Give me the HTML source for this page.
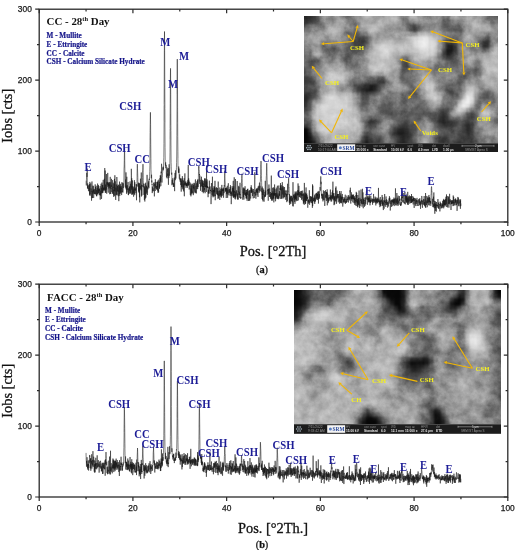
<!DOCTYPE html>
<html><head><meta charset="utf-8"><title>XRD</title>
<style>html,body{margin:0;padding:0;background:#fff;width:517px;height:550px;overflow:hidden}svg{display:block}</style>
</head><body>
<svg width="517" height="550" viewBox="0 0 517 550">
<style>
.tk{font-family:'Liberation Sans', Arial, sans-serif;font-size:8.4px;fill:#1a1a1a;stroke:#1a1a1a;stroke-width:0.25px}
.pk{font-family:'Liberation Serif', 'Times New Roman', serif;font-size:10.7px;font-weight:bold;fill:#1c1c96}
.lg{font-family:'Liberation Serif', 'Times New Roman', serif;font-size:7.2px;font-weight:bold;fill:#16168a;stroke:#16168a;stroke-width:0.2px}
.ti{font-family:'Liberation Serif', 'Times New Roman', serif;font-size:10.9px;font-weight:bold;fill:#111}
.ax{font-family:'Liberation Serif', 'Times New Roman', serif;font-size:14.4px;fill:#111;stroke:#111;stroke-width:0.3px}
.cap{font-family:'Liberation Serif', 'Times New Roman', serif;font-size:10.3px;fill:#111;stroke:#111;stroke-width:0.25px}
</style>
<rect width="517" height="550" fill="#fff"/>
<defs><filter id="bl" x="-5%" y="-5%" width="110%" height="110%"><feGaussianBlur stdDeviation="0.35"/></filter></defs>
<rect x="39.20" y="9.21" width="468.60" height="212.79" fill="none" stroke="#2a2a2a" stroke-width="1.3"/>
<path d="M39.20 222.00v4 M39.20 9.21v4 M86.06 222.00v2.2 M86.06 9.21v2.2 M132.92 222.00v4 M132.92 9.21v4 M179.78 222.00v2.2 M179.78 9.21v2.2 M226.64 222.00v4 M226.64 9.21v4 M273.50 222.00v2.2 M273.50 9.21v2.2 M320.36 222.00v4 M320.36 9.21v4 M367.22 222.00v2.2 M367.22 9.21v2.2 M414.08 222.00v4 M414.08 9.21v4 M460.94 222.00v2.2 M460.94 9.21v2.2 M507.80 222.00v4 M507.80 9.21v4 M39.20 222.00h-4 M507.80 222.00h-4 M39.20 186.53h-2.2 M507.80 186.53h-2.2 M39.20 151.07h-4 M507.80 151.07h-4 M39.20 115.60h-2.2 M507.80 115.60h-2.2 M39.20 80.14h-4 M507.80 80.14h-4 M39.20 44.67h-2.2 M507.80 44.67h-2.2 M39.20 9.21h-4 M507.80 9.21h-4" stroke="#2a2a2a" stroke-width="1.2" fill="none"/>
<text x="31.8" y="225.00" text-anchor="end" class="tk">0</text>
<text x="31.8" y="154.07" text-anchor="end" class="tk">100</text>
<text x="31.8" y="83.14" text-anchor="end" class="tk">200</text>
<text x="31.8" y="12.21" text-anchor="end" class="tk">300</text>
<text x="39.20" y="236.20" text-anchor="middle" class="tk">0</text>
<text x="132.92" y="236.20" text-anchor="middle" class="tk">20</text>
<text x="226.64" y="236.20" text-anchor="middle" class="tk">40</text>
<text x="320.36" y="236.20" text-anchor="middle" class="tk">60</text>
<text x="414.08" y="236.20" text-anchor="middle" class="tk">80</text>
<text x="507.80" y="236.20" text-anchor="middle" class="tk">100</text>
<path d="M86.06 180.85L86.20 181.27L86.34 185.45L86.48 179.15L86.62 175.18L86.76 172.92L86.80 173.01L86.90 174.08L87.04 176.91L87.18 168.71L87.33 183.77L87.47 188.46L87.61 183.70L87.75 183.42L87.89 187.97L88.03 185.42L88.17 188.90L88.31 187.94L88.45 190.64L88.59 191.16L88.73 186.30L88.87 186.51L89.01 185.10L89.15 191.06L89.29 191.25L89.43 184.03L89.57 194.82L89.72 189.18L89.86 181.92L90.00 196.01L90.14 191.69L90.28 194.46L90.42 187.85L90.56 187.59L90.70 183.47L90.84 188.14L90.98 192.03L91.12 188.39L91.26 189.36L91.40 195.38L91.54 200.66L91.68 191.06L91.82 190.83L91.96 181.51L92.10 198.01L92.25 190.74L92.39 198.09L92.53 191.64L92.67 189.72L92.81 188.83L92.95 185.60L93.09 193.49L93.23 186.11L93.37 191.52L93.51 190.30L93.65 197.94L93.79 194.94L93.93 189.33L94.07 193.71L94.21 189.27L94.35 190.66L94.49 194.05L94.64 191.75L94.78 189.53L94.92 189.23L95.06 187.97L95.20 184.38L95.34 194.40L95.48 188.13L95.62 186.96L95.76 194.13L95.90 189.20L96.04 187.06L96.18 185.80L96.32 193.60L96.46 196.12L96.60 189.79L96.74 196.27L96.88 195.80L97.03 187.96L97.17 188.06L97.31 190.14L97.45 194.40L97.59 183.55L97.73 191.67L97.87 194.22L98.01 192.34L98.15 186.13L98.29 192.84L98.43 184.96L98.57 192.63L98.71 193.19L98.85 189.14L98.99 190.81L99.13 189.60L99.27 195.26L99.42 191.44L99.56 188.57L99.70 191.06L99.84 190.55L99.98 195.10L100.12 186.07L100.26 199.64L100.40 193.04L100.54 195.62L100.68 191.29L100.82 192.72L100.96 189.21L101.10 183.79L101.24 193.34L101.38 187.75L101.52 198.94L101.66 196.87L101.80 190.96L101.95 182.55L102.09 186.31L102.23 193.18L102.37 184.91L102.51 192.49L102.65 190.93L102.79 185.24L102.93 192.85L103.07 190.51L103.21 179.91L103.35 190.60L103.49 187.90L103.63 189.48L103.77 190.39L103.91 187.38L104.05 188.31L104.19 190.08L104.34 178.78L104.48 189.54L104.62 189.59L104.76 168.06L104.90 186.57L105.04 191.05L105.18 170.58L105.32 192.79L105.46 184.55L105.60 184.78L105.74 192.83L105.88 188.17L106.02 189.84L106.16 187.15L106.30 188.44L106.44 174.03L106.58 192.17L106.73 193.73L106.87 187.44L107.01 182.34L107.15 186.80L107.29 181.85L107.43 184.43L107.57 185.30L107.71 172.90L107.85 182.53L107.99 183.94L108.13 190.00L108.27 192.63L108.41 182.70L108.55 186.01L108.69 183.57L108.83 188.57L108.97 182.13L109.12 186.98L109.26 184.38L109.40 185.92L109.54 182.32L109.68 194.19L109.82 186.51L109.96 188.07L110.10 187.06L110.24 176.89L110.38 187.62L110.52 193.98L110.66 188.21L110.80 182.35L110.94 188.98L111.08 187.10L111.22 184.73L111.36 187.15L111.50 178.87L111.65 185.31L111.79 192.04L111.93 188.16L112.07 190.09L112.21 193.91L112.35 190.72L112.49 187.47L112.63 180.12L112.77 193.42L112.91 186.78L113.05 188.01L113.19 184.76L113.33 182.72L113.47 191.87L113.61 196.82L113.75 189.74L113.89 195.08L114.04 184.19L114.18 191.05L114.32 188.70L114.46 178.93L114.60 196.18L114.74 192.71L114.88 175.24L115.02 191.30L115.16 191.53L115.30 181.29L115.44 189.37L115.58 198.80L115.72 199.90L115.86 187.65L116.00 189.50L116.14 195.29L116.28 184.56L116.43 184.49L116.57 194.63L116.71 193.72L116.85 177.00L116.99 181.04L117.13 195.20L117.27 195.32L117.41 192.30L117.55 185.97L117.69 191.14L117.83 184.65L117.97 185.79L118.11 191.85L118.25 190.26L118.39 196.32L118.53 184.81L118.67 185.89L118.82 201.15L118.96 193.62L119.10 187.20L119.24 186.60L119.38 194.24L119.52 181.60L119.66 188.42L119.80 195.91L119.94 185.47L120.08 192.19L120.22 190.93L120.36 183.87L120.50 186.95L120.64 193.69L120.78 186.77L120.92 192.57L121.06 189.58L121.20 186.13L121.35 188.65L121.49 188.01L121.63 195.09L121.77 183.29L121.91 182.23L122.05 191.90L122.19 191.44L122.33 192.11L122.47 191.35L122.61 191.40L122.75 182.76L122.89 192.58L123.03 188.35L123.17 183.44L123.31 188.10L123.45 185.93L123.59 185.69L123.74 182.72L123.88 182.03L124.02 167.58L124.16 167.59L124.30 160.62L124.44 151.12L124.50 151.63L124.58 148.16L124.72 161.29L124.86 170.69L125.00 175.58L125.14 181.18L125.28 187.31L125.42 183.55L125.56 179.50L125.70 182.77L125.84 188.38L125.98 172.33L126.13 181.22L126.27 189.59L126.41 185.71L126.55 193.73L126.69 180.73L126.83 176.79L126.97 187.44L127.11 192.44L127.25 185.35L127.39 185.16L127.53 186.97L127.67 190.21L127.81 187.85L127.95 185.37L128.09 181.96L128.23 194.64L128.37 188.31L128.52 195.13L128.66 190.72L128.80 190.39L128.94 188.61L129.08 189.78L129.22 189.94L129.36 186.40L129.50 193.64L129.64 187.04L129.78 191.13L129.92 183.53L130.06 181.35L130.20 186.48L130.34 192.81L130.48 185.06L130.62 183.67L130.76 193.76L130.91 186.64L131.05 185.60L131.19 187.59L131.33 168.84L131.47 175.76L131.61 189.62L131.75 178.27L131.89 194.70L132.03 185.98L132.17 194.65L132.31 183.69L132.45 180.48L132.59 191.93L132.73 194.00L132.87 187.88L133.01 186.39L133.15 186.65L133.29 192.92L133.44 190.21L133.58 196.66L133.72 187.49L133.86 190.23L134.00 189.07L134.14 191.02L134.28 193.88L134.42 180.24L134.56 190.83L134.70 195.15L134.84 182.31L134.98 190.22L135.12 188.98L135.26 189.35L135.40 190.76L135.54 187.83L135.68 187.62L135.83 192.57L135.97 193.19L136.11 190.86L136.25 184.00L136.39 190.53L136.53 200.23L136.67 184.78L136.81 185.70L136.95 183.69L137.09 175.24L137.23 168.03L137.37 164.12L137.40 165.11L137.51 168.89L137.65 173.01L137.79 177.50L137.93 186.71L138.07 186.75L138.22 183.51L138.36 184.59L138.50 190.44L138.64 182.57L138.78 191.81L138.92 189.81L139.06 192.80L139.20 183.36L139.34 191.11L139.48 197.30L139.62 183.28L139.76 202.38L139.90 188.44L140.04 187.26L140.18 185.98L140.32 189.41L140.46 178.66L140.61 188.08L140.75 188.60L140.89 189.11L141.03 189.68L141.17 190.41L141.31 172.51L141.45 196.49L141.59 184.89L141.73 186.29L141.87 193.92L142.01 195.38L142.15 186.96L142.29 185.30L142.43 186.65L142.57 177.52L142.71 170.51L142.85 169.16L142.90 167.17L142.99 164.13L143.14 172.50L143.28 180.68L143.42 184.23L143.56 187.45L143.70 183.64L143.84 194.24L143.98 194.91L144.12 192.68L144.26 186.19L144.40 199.98L144.54 191.88L144.68 187.34L144.82 201.53L144.96 194.17L145.10 183.80L145.24 190.80L145.38 198.53L145.53 184.82L145.67 182.76L145.81 195.98L145.95 197.51L146.09 188.52L146.23 193.84L146.37 189.54L146.51 185.67L146.65 188.34L146.79 186.52L146.93 192.57L147.07 174.86L147.21 189.24L147.35 194.98L147.49 194.94L147.63 187.51L147.77 188.20L147.92 189.30L148.06 187.06L148.20 185.87L148.34 182.42L148.48 187.25L148.62 180.69L148.76 181.98L148.90 188.21L149.04 184.62L149.18 178.78L149.32 180.03L149.46 178.91L149.60 176.21L149.74 171.50L149.88 165.78L150.02 147.60L150.16 130.53L150.31 119.44L150.40 112.60L150.45 112.33L150.59 124.31L150.73 144.25L150.87 158.61L151.01 169.74L151.15 172.95L151.29 178.29L151.43 176.97L151.57 174.74L151.71 182.36L151.85 180.46L151.99 184.86L152.13 184.20L152.27 193.10L152.41 186.66L152.55 189.96L152.69 191.36L152.84 188.52L152.98 188.50L153.12 188.39L153.26 188.20L153.40 190.36L153.54 191.14L153.68 186.87L153.82 183.02L153.96 186.32L154.10 182.22L154.24 184.92L154.38 196.38L154.52 189.35L154.66 186.42L154.80 183.93L154.94 185.62L155.08 189.51L155.23 191.03L155.37 179.25L155.51 184.74L155.65 187.77L155.79 187.18L155.93 181.94L156.07 186.15L156.21 189.10L156.35 185.94L156.49 186.18L156.63 188.07L156.77 189.58L156.91 186.57L157.05 187.13L157.19 181.91L157.33 189.58L157.47 187.78L157.62 181.95L157.76 191.20L157.90 180.54L158.04 192.92L158.18 191.31L158.32 189.59L158.46 189.15L158.60 192.37L158.74 179.66L158.88 180.20L159.02 182.92L159.16 189.02L159.30 181.83L159.44 188.17L159.58 184.09L159.72 187.06L159.86 178.13L160.01 178.35L160.15 182.66L160.29 175.34L160.43 178.80L160.57 181.50L160.71 175.48L160.85 186.14L160.99 174.60L161.13 171.66L161.27 173.19L161.41 173.01L161.55 163.81L161.69 166.82L161.83 177.89L161.97 182.51L162.11 177.26L162.25 176.96L162.39 175.35L162.54 173.29L162.68 172.33L162.82 167.54L162.96 168.66L163.10 170.49L163.24 166.71L163.38 169.52L163.52 168.97L163.66 161.78L163.80 157.79L163.94 143.53L164.08 120.24L164.22 86.79L164.36 50.47L164.50 31.51L164.50 32.01L164.64 52.10L164.78 87.36L164.93 122.58L165.07 147.44L165.21 160.24L165.35 165.29L165.49 165.66L165.63 162.33L165.77 168.11L165.91 168.04L166.05 164.84L166.19 165.48L166.33 173.19L166.47 177.37L166.61 172.31L166.75 172.12L166.89 169.93L167.03 167.43L167.17 178.38L167.32 172.76L167.46 172.07L167.60 168.72L167.74 175.87L167.88 173.65L168.02 175.23L168.16 176.21L168.30 176.66L168.44 184.80L168.58 168.09L168.72 175.02L168.86 176.92L169.00 177.75L169.14 164.38L169.28 175.80L169.42 175.00L169.56 171.20L169.71 169.02L169.85 165.19L169.99 152.72L170.13 131.57L170.27 103.56L170.41 77.01L170.50 69.33L170.55 68.40L170.69 94.19L170.83 125.61L170.97 146.60L171.11 162.52L171.25 166.22L171.39 173.86L171.53 173.82L171.67 174.56L171.81 172.69L171.95 185.19L172.09 181.95L172.24 179.84L172.38 183.69L172.52 182.47L172.66 178.28L172.80 179.23L172.94 179.42L173.08 184.65L173.22 182.84L173.36 186.97L173.50 184.90L173.64 183.65L173.78 183.93L173.92 186.88L174.06 183.97L174.20 182.62L174.34 177.57L174.48 187.62L174.63 191.15L174.77 179.42L174.91 173.57L175.05 172.90L175.19 174.82L175.33 180.17L175.47 170.41L175.61 170.57L175.75 174.51L175.89 178.50L176.03 175.16L176.17 174.02L176.31 171.57L176.45 167.47L176.59 162.60L176.73 156.03L176.87 135.71L177.02 108.25L177.16 75.02L177.30 59.16L177.30 59.17L177.44 73.02L177.58 107.34L177.72 136.38L177.86 151.19L178.00 166.38L178.14 168.29L178.28 169.42L178.42 172.54L178.56 172.05L178.70 166.50L178.84 173.16L178.98 168.51L179.12 173.88L179.26 178.70L179.41 178.53L179.55 176.26L179.69 174.34L179.83 178.19L179.97 180.35L180.11 178.00L180.25 181.89L180.39 180.32L180.53 179.21L180.67 179.11L180.81 185.03L180.95 178.51L181.09 186.93L181.23 191.61L181.37 180.65L181.51 186.87L181.65 182.15L181.79 179.70L181.94 178.66L182.08 178.43L182.22 188.72L182.36 176.17L182.50 183.56L182.64 184.21L182.78 183.97L182.92 187.23L183.06 179.97L183.20 189.61L183.34 183.33L183.48 191.37L183.62 182.02L183.76 180.91L183.90 182.84L184.04 182.47L184.18 178.20L184.33 196.24L184.47 182.67L184.61 183.78L184.75 185.20L184.89 173.43L185.03 185.38L185.17 185.31L185.31 184.42L185.45 182.56L185.59 184.51L185.73 181.51L185.87 184.60L186.01 187.81L186.15 183.69L186.29 185.88L186.43 183.07L186.57 186.18L186.72 184.55L186.86 185.56L187.00 183.72L187.14 185.42L187.28 181.71L187.42 187.82L187.56 183.18L187.70 183.43L187.84 179.82L187.98 181.38L188.12 185.88L188.26 164.92L188.40 184.10L188.54 185.33L188.68 178.34L188.82 184.94L188.96 180.53L189.11 184.39L189.25 189.50L189.39 185.44L189.53 184.91L189.67 183.46L189.81 182.08L189.95 184.06L190.09 185.97L190.23 191.47L190.37 195.08L190.51 187.43L190.65 185.33L190.79 183.41L190.93 196.34L191.07 191.55L191.21 188.59L191.35 194.35L191.50 190.99L191.64 184.40L191.78 192.83L191.92 185.70L192.06 192.94L192.20 188.79L192.34 188.66L192.48 187.49L192.62 183.69L192.76 190.05L192.90 193.62L193.04 190.71L193.18 191.24L193.32 195.15L193.46 184.83L193.60 188.22L193.74 186.71L193.88 190.69L194.03 182.85L194.17 189.14L194.31 183.37L194.45 190.18L194.59 189.58L194.73 191.25L194.87 192.25L195.01 190.50L195.15 193.19L195.29 183.32L195.43 179.45L195.57 192.69L195.71 192.21L195.85 187.65L195.99 185.82L196.13 187.75L196.27 187.87L196.42 193.43L196.56 190.80L196.70 183.22L196.84 188.94L196.98 181.29L197.12 187.14L197.26 186.22L197.40 183.56L197.54 180.09L197.68 189.14L197.82 184.06L197.96 179.14L198.10 186.97L198.24 181.15L198.38 177.21L198.52 171.32L198.66 166.46L198.81 167.24L198.90 166.43L198.95 166.57L199.09 169.63L199.23 170.04L199.37 175.24L199.51 174.00L199.65 183.88L199.79 175.55L199.93 176.39L200.07 181.55L200.21 179.85L200.35 180.26L200.49 190.78L200.63 182.28L200.77 182.20L200.91 187.04L201.05 185.82L201.20 181.61L201.34 181.86L201.48 176.72L201.62 186.05L201.76 184.00L201.90 179.68L202.04 181.36L202.18 191.97L202.32 181.74L202.46 181.46L202.60 187.13L202.74 180.19L202.88 191.47L203.02 183.04L203.16 183.21L203.30 193.19L203.44 186.13L203.58 187.40L203.73 181.13L203.87 185.17L204.01 184.35L204.15 192.04L204.29 187.96L204.43 190.18L204.57 178.77L204.71 186.79L204.85 181.20L204.99 178.06L205.13 193.22L205.27 187.91L205.41 186.04L205.55 186.97L205.69 179.22L205.83 186.44L205.97 181.30L206.12 187.26L206.26 185.16L206.40 192.01L206.54 165.92L206.68 187.50L206.82 181.41L206.96 186.96L207.10 179.44L207.24 188.27L207.38 186.63L207.52 185.98L207.66 187.90L207.80 186.44L207.94 189.75L208.08 197.18L208.22 189.27L208.36 193.01L208.51 190.16L208.65 193.99L208.79 188.62L208.93 187.10L209.07 188.48L209.21 189.25L209.35 180.63L209.49 185.93L209.63 189.19L209.77 191.77L209.91 193.53L210.05 186.36L210.19 190.15L210.33 191.11L210.47 189.88L210.61 190.99L210.75 190.41L210.90 190.38L211.04 204.10L211.18 197.33L211.32 195.97L211.46 183.05L211.60 189.73L211.74 189.56L211.88 191.86L212.02 190.68L212.16 194.95L212.30 189.15L212.44 176.68L212.58 188.62L212.72 196.16L212.86 187.95L213.00 197.29L213.14 196.45L213.28 196.57L213.43 189.74L213.57 196.21L213.71 190.06L213.85 192.47L213.99 186.26L214.13 188.14L214.27 191.65L214.41 186.59L214.55 196.38L214.69 187.73L214.83 192.39L214.97 180.85L215.11 193.95L215.25 200.21L215.39 194.61L215.53 195.73L215.67 194.30L215.82 190.95L215.96 187.82L216.10 194.29L216.24 193.33L216.38 192.78L216.52 187.35L216.66 190.67L216.80 190.75L216.94 192.90L217.08 194.04L217.22 190.60L217.36 194.66L217.50 188.06L217.64 195.16L217.78 193.64L217.92 198.78L218.06 196.74L218.21 181.55L218.35 192.44L218.49 196.60L218.63 198.33L218.77 191.23L218.91 196.32L219.05 194.78L219.19 195.40L219.33 192.15L219.47 190.49L219.61 192.49L219.75 199.94L219.89 187.48L220.03 195.24L220.17 194.66L220.31 192.79L220.45 194.66L220.60 190.75L220.74 196.83L220.88 189.09L221.02 191.88L221.16 195.70L221.30 193.44L221.44 188.32L221.58 197.62L221.72 186.87L221.86 184.90L222.00 192.34L222.14 195.98L222.28 189.63L222.42 191.13L222.56 190.19L222.70 188.72L222.84 192.89L222.98 194.99L223.13 188.20L223.27 190.99L223.41 188.89L223.55 197.70L223.69 193.84L223.83 187.42L223.97 193.20L224.11 191.75L224.25 185.13L224.39 186.64L224.53 178.29L224.67 174.03L224.80 172.72L224.81 170.77L224.95 176.59L225.09 180.90L225.23 183.00L225.37 191.87L225.52 188.09L225.66 190.81L225.80 188.00L225.94 190.45L226.08 188.84L226.22 197.99L226.36 196.75L226.50 187.50L226.64 190.33L226.78 193.69L226.92 188.42L227.06 194.43L227.20 191.21L227.34 185.77L227.48 192.94L227.62 197.85L227.76 193.81L227.91 189.72L228.05 193.20L228.19 186.60L228.33 183.28L228.47 190.63L228.61 190.59L228.75 193.12L228.89 195.37L229.03 190.67L229.17 189.37L229.31 190.39L229.45 192.69L229.59 189.50L229.73 188.88L229.87 192.63L230.01 190.58L230.15 186.93L230.30 195.84L230.44 185.18L230.58 190.60L230.72 194.01L230.86 191.42L231.00 193.57L231.14 194.16L231.28 204.13L231.42 192.78L231.56 193.60L231.70 191.70L231.84 195.81L231.98 191.36L232.12 186.14L232.26 195.63L232.40 193.04L232.54 192.42L232.68 187.73L232.83 191.76L232.97 188.13L233.11 196.75L233.25 180.85L233.39 197.95L233.53 190.51L233.67 196.70L233.81 186.19L233.95 192.73L234.09 190.23L234.23 177.32L234.37 189.72L234.51 196.70L234.65 190.88L234.79 198.54L234.93 194.30L235.07 196.85L235.22 194.16L235.36 199.45L235.50 179.07L235.64 197.57L235.78 191.81L235.92 192.36L236.06 194.44L236.20 194.93L236.34 193.27L236.48 190.31L236.62 194.44L236.76 196.38L236.90 195.60L237.04 195.38L237.18 181.04L237.32 198.77L237.46 193.34L237.61 195.24L237.75 198.27L237.89 199.89L238.03 194.56L238.17 199.25L238.31 191.11L238.45 191.61L238.59 187.95L238.73 185.86L238.87 194.71L239.01 186.85L239.15 194.92L239.29 192.57L239.43 191.82L239.57 197.75L239.71 196.27L239.85 194.83L240.00 182.81L240.14 194.84L240.28 194.05L240.42 195.93L240.56 198.72L240.70 198.25L240.84 197.06L240.98 198.29L241.12 190.69L241.26 188.77L241.40 187.53L241.54 183.56L241.68 178.58L241.82 175.52L241.90 174.02L241.96 173.82L242.10 178.34L242.24 182.62L242.38 186.57L242.53 189.18L242.67 194.37L242.81 199.72L242.95 190.92L243.09 188.52L243.23 192.90L243.37 192.07L243.51 197.21L243.65 187.51L243.79 194.79L243.93 199.58L244.07 188.62L244.21 194.75L244.35 188.56L244.49 189.90L244.63 190.83L244.77 191.15L244.92 194.46L245.06 186.24L245.20 194.69L245.34 195.23L245.48 193.76L245.62 193.09L245.76 196.06L245.90 189.97L246.04 198.40L246.18 192.11L246.32 192.76L246.46 197.87L246.60 190.07L246.74 198.79L246.88 192.30L247.02 200.79L247.16 200.81L247.31 195.59L247.45 189.01L247.59 194.79L247.73 188.93L247.87 188.75L248.01 189.79L248.15 192.07L248.29 193.93L248.43 200.95L248.57 199.88L248.71 191.88L248.85 190.80L248.99 195.33L249.13 194.52L249.27 200.79L249.41 190.43L249.55 197.04L249.70 197.10L249.84 200.47L249.98 191.92L250.12 189.91L250.26 192.06L250.40 198.31L250.54 197.96L250.68 198.20L250.82 198.31L250.96 187.22L251.10 192.94L251.24 185.28L251.38 192.74L251.52 187.97L251.66 192.13L251.80 190.49L251.94 189.86L252.08 191.39L252.23 189.81L252.37 188.70L252.51 196.08L252.65 191.56L252.79 190.73L252.93 192.72L253.07 194.79L253.21 198.36L253.35 192.07L253.49 189.05L253.63 190.32L253.77 191.97L253.91 191.63L254.05 193.82L254.19 192.03L254.33 197.90L254.47 196.53L254.62 189.80L254.76 172.30L254.90 187.70L255.04 189.46L255.18 189.71L255.32 193.24L255.46 195.58L255.60 193.70L255.74 191.65L255.88 198.69L256.02 189.61L256.16 191.14L256.30 190.35L256.44 192.58L256.58 188.77L256.72 191.73L256.86 188.68L257.01 195.30L257.15 190.21L257.29 188.07L257.43 190.11L257.57 193.10L257.71 189.60L257.85 192.69L257.99 196.97L258.13 186.62L258.27 189.53L258.41 190.16L258.55 189.52L258.69 185.82L258.83 186.30L258.97 190.17L259.11 192.76L259.25 190.71L259.40 183.06L259.54 182.62L259.68 188.54L259.82 190.72L259.96 185.86L260.10 191.43L260.24 182.37L260.38 181.10L260.52 176.88L260.66 174.76L260.80 164.59L260.94 164.49L261.00 161.06L261.08 163.39L261.22 168.42L261.36 175.62L261.50 178.42L261.64 182.70L261.79 192.21L261.93 188.15L262.07 198.95L262.21 186.57L262.35 195.22L262.49 191.49L262.63 200.06L262.77 195.76L262.91 199.50L263.05 201.45L263.19 188.50L263.33 193.65L263.47 195.27L263.61 194.58L263.75 189.97L263.89 200.31L264.03 201.05L264.17 201.58L264.32 195.14L264.46 197.34L264.60 194.76L264.74 195.37L264.88 191.83L265.02 192.92L265.16 196.30L265.30 180.80L265.44 196.86L265.58 192.72L265.72 190.54L265.86 195.29L266.00 189.02L266.14 184.04L266.28 176.87L266.42 175.56L266.56 165.90L266.70 164.06L266.71 163.24L266.85 166.67L266.99 173.80L267.13 179.26L267.27 182.82L267.41 190.54L267.55 189.96L267.69 190.90L267.83 194.69L267.97 189.09L268.11 196.24L268.25 200.71L268.39 195.88L268.53 188.77L268.67 193.76L268.81 188.13L268.95 184.50L269.10 188.31L269.24 194.57L269.38 197.03L269.52 193.90L269.66 188.41L269.80 191.51L269.94 194.14L270.08 196.90L270.22 196.41L270.36 192.01L270.50 196.86L270.64 198.56L270.78 194.10L270.92 195.80L271.06 199.09L271.20 186.27L271.34 175.58L271.49 200.46L271.63 192.95L271.77 195.29L271.91 193.00L272.05 193.18L272.19 200.76L272.33 200.10L272.47 196.83L272.61 187.84L272.75 199.49L272.89 191.42L273.03 192.91L273.17 199.03L273.31 192.74L273.45 187.39L273.59 197.89L273.73 192.96L273.87 202.34L274.02 193.24L274.16 195.30L274.30 188.51L274.44 195.52L274.58 184.47L274.72 195.45L274.86 193.00L275.00 194.58L275.14 194.44L275.28 199.07L275.42 193.10L275.56 201.24L275.70 198.48L275.84 192.20L275.98 189.23L276.12 198.22L276.26 187.62L276.41 191.80L276.55 196.10L276.69 196.95L276.83 193.15L276.97 193.83L277.11 198.85L277.25 197.23L277.39 185.69L277.53 191.61L277.67 198.81L277.81 198.04L277.95 194.44L278.09 198.32L278.23 196.28L278.37 199.23L278.51 195.27L278.65 192.45L278.80 185.50L278.94 194.13L279.08 198.62L279.22 193.54L279.36 196.22L279.50 191.15L279.64 193.52L279.78 195.49L279.92 188.30L280.06 189.42L280.20 189.67L280.34 189.53L280.48 183.08L280.62 190.15L280.76 185.76L280.90 199.02L281.04 189.99L281.19 185.12L281.33 198.60L281.47 190.86L281.61 189.47L281.75 190.26L281.89 187.54L282.03 191.95L282.17 198.64L282.31 182.19L282.45 188.97L282.59 193.24L282.73 192.97L282.87 194.61L283.01 185.97L283.15 197.50L283.29 187.18L283.43 187.89L283.57 193.40L283.72 198.44L283.86 198.07L284.00 190.24L284.14 195.86L284.28 197.14L284.42 192.76L284.56 187.00L284.70 196.87L284.84 196.74L284.98 191.37L285.12 191.37L285.26 194.39L285.40 194.63L285.54 194.74L285.68 193.31L285.82 199.86L285.96 189.94L286.11 192.11L286.25 191.38L286.39 196.56L286.53 193.79L286.67 199.64L286.81 202.15L286.95 194.99L287.09 194.13L287.23 196.64L287.37 201.13L287.51 189.69L287.65 183.82L287.79 194.80L287.93 195.03L288.07 191.35L288.21 191.69L288.35 183.84L288.50 180.87L288.60 179.01L288.64 178.24L288.78 183.81L288.92 187.95L289.06 187.69L289.20 192.98L289.34 202.60L289.48 194.07L289.62 204.87L289.76 202.87L289.90 197.60L290.04 202.71L290.18 199.47L290.32 199.53L290.46 196.51L290.60 202.10L290.74 204.01L290.89 195.55L291.03 200.19L291.17 200.95L291.31 196.00L291.45 198.22L291.59 200.66L291.73 201.26L291.87 200.06L292.01 196.24L292.15 202.43L292.29 200.58L292.43 197.78L292.57 201.70L292.71 202.48L292.85 205.93L292.99 182.16L293.13 206.50L293.27 202.96L293.42 199.46L293.56 194.73L293.70 195.09L293.84 197.77L293.98 194.58L294.12 198.42L294.26 199.64L294.40 196.81L294.54 195.83L294.68 201.90L294.82 193.68L294.96 203.84L295.10 191.50L295.24 199.64L295.38 194.26L295.52 199.04L295.66 192.60L295.81 198.01L295.95 196.53L296.09 199.75L296.23 201.23L296.37 191.49L296.51 199.41L296.65 200.00L296.79 196.43L296.93 193.17L297.07 195.54L297.21 201.01L297.35 193.56L297.49 194.82L297.63 190.26L297.77 195.68L297.91 195.38L298.05 183.40L298.20 194.30L298.34 200.40L298.48 195.66L298.62 190.44L298.76 195.09L298.90 185.87L299.04 192.15L299.18 196.89L299.32 191.99L299.46 193.12L299.60 196.34L299.74 197.15L299.88 195.18L300.02 192.39L300.16 192.35L300.30 191.43L300.44 197.79L300.59 195.42L300.73 193.07L300.87 195.19L301.01 192.99L301.15 191.41L301.29 195.93L301.43 190.89L301.57 192.24L301.71 200.06L301.85 193.91L301.99 198.90L302.13 196.79L302.27 193.53L302.41 193.73L302.55 191.95L302.69 190.58L302.83 195.95L302.97 193.82L303.12 201.16L303.26 193.87L303.40 203.81L303.54 200.12L303.68 199.63L303.82 202.81L303.96 192.81L304.10 199.49L304.24 204.80L304.38 182.91L304.52 198.99L304.66 198.83L304.80 201.74L304.94 194.48L305.08 200.36L305.22 194.80L305.36 204.09L305.51 192.64L305.65 203.51L305.79 198.55L305.93 192.73L306.07 187.45L306.21 200.59L306.35 193.97L306.49 201.06L306.63 196.25L306.77 193.49L306.91 198.26L307.05 195.71L307.19 195.41L307.33 197.56L307.47 199.11L307.61 197.03L307.75 207.71L307.90 201.96L308.04 199.35L308.18 201.50L308.32 199.82L308.46 203.63L308.60 201.06L308.74 201.14L308.88 200.13L309.02 202.07L309.16 196.92L309.30 190.22L309.44 190.76L309.58 204.78L309.72 201.68L309.86 202.98L310.00 198.59L310.14 196.11L310.29 201.92L310.43 201.54L310.57 199.30L310.71 196.32L310.85 201.03L310.99 199.78L311.13 200.88L311.27 196.90L311.41 202.84L311.55 196.71L311.69 197.41L311.83 199.30L311.97 200.13L312.11 203.25L312.25 200.95L312.39 207.79L312.53 184.34L312.67 206.08L312.82 185.68L312.96 198.81L313.10 201.31L313.24 198.28L313.38 197.78L313.52 201.08L313.66 199.89L313.80 200.39L313.94 199.06L314.08 197.78L314.22 200.30L314.36 202.42L314.50 195.29L314.64 198.11L314.78 203.96L314.92 197.69L315.06 200.87L315.21 193.91L315.35 199.80L315.49 201.53L315.63 199.80L315.77 196.74L315.91 196.13L316.05 194.34L316.19 193.24L316.33 197.08L316.47 199.48L316.61 192.85L316.75 198.34L316.89 196.00L317.03 193.97L317.17 195.49L317.31 196.25L317.45 193.90L317.60 200.06L317.74 191.76L317.88 198.23L318.02 197.51L318.16 198.51L318.30 191.64L318.44 203.57L318.58 197.60L318.72 198.20L318.86 198.67L319.00 190.88L319.14 198.72L319.28 194.13L319.42 197.53L319.56 193.57L319.70 191.84L319.84 191.43L319.99 191.05L320.13 187.06L320.27 190.55L320.41 183.62L320.55 179.54L320.69 177.42L320.70 176.40L320.83 176.46L320.97 184.19L321.11 181.70L321.25 182.52L321.39 192.96L321.53 195.67L321.67 193.98L321.81 198.51L321.95 195.19L322.09 193.80L322.23 196.11L322.37 195.99L322.52 196.49L322.66 198.72L322.80 194.52L322.94 201.37L323.08 193.60L323.22 199.98L323.36 190.35L323.50 192.50L323.64 192.05L323.78 192.21L323.92 195.17L324.06 200.22L324.20 199.11L324.34 195.03L324.48 191.20L324.62 192.55L324.76 205.98L324.91 201.88L325.05 198.58L325.19 198.40L325.33 194.30L325.47 190.20L325.61 193.49L325.75 197.43L325.89 195.15L326.03 198.14L326.17 191.96L326.31 197.82L326.45 200.94L326.59 192.11L326.73 194.96L326.87 191.94L327.01 198.64L327.15 189.32L327.30 205.31L327.44 196.39L327.58 193.35L327.72 199.25L327.86 199.92L328.00 197.95L328.14 203.15L328.28 197.52L328.42 199.01L328.56 201.65L328.70 197.82L328.84 196.83L328.98 194.79L329.12 200.71L329.26 197.95L329.40 197.80L329.54 197.34L329.69 198.62L329.83 196.94L329.97 197.64L330.11 198.04L330.25 199.77L330.39 189.56L330.53 199.32L330.67 195.50L330.81 200.31L330.95 201.49L331.09 198.98L331.23 199.12L331.37 195.13L331.51 197.80L331.65 201.40L331.79 196.45L331.93 198.05L332.08 192.28L332.22 198.39L332.36 199.41L332.50 190.39L332.64 194.50L332.78 198.88L332.92 181.69L333.06 197.82L333.20 193.64L333.34 193.39L333.48 194.11L333.62 198.60L333.76 200.38L333.90 193.02L334.04 205.15L334.18 196.13L334.32 199.34L334.46 197.60L334.61 204.37L334.75 197.61L334.89 198.05L335.03 195.88L335.17 199.62L335.31 201.27L335.45 195.60L335.59 187.89L335.73 193.02L335.87 201.40L336.01 186.45L336.15 194.47L336.29 199.04L336.43 203.76L336.57 198.58L336.71 195.86L336.85 199.26L337.00 190.61L337.14 198.17L337.28 195.91L337.42 194.42L337.56 197.42L337.70 194.01L337.84 195.25L337.98 194.15L338.12 200.03L338.26 202.34L338.40 194.10L338.54 195.52L338.68 197.92L338.82 198.13L338.96 196.18L339.10 199.24L339.24 201.12L339.39 199.92L339.53 191.08L339.67 203.76L339.81 198.65L339.95 199.93L340.09 202.54L340.23 193.46L340.37 199.73L340.51 202.71L340.65 201.14L340.79 195.41L340.93 199.18L341.07 191.06L341.21 202.77L341.35 197.51L341.49 198.38L341.63 203.31L341.78 196.56L341.92 200.01L342.06 197.41L342.20 198.20L342.34 193.96L342.48 198.17L342.62 197.81L342.76 206.57L342.90 203.13L343.04 197.12L343.18 198.91L343.32 201.95L343.46 201.02L343.60 199.23L343.74 201.38L343.88 200.93L344.02 203.17L344.16 199.27L344.31 202.22L344.45 199.93L344.59 197.47L344.73 200.15L344.87 199.04L345.01 201.39L345.15 195.55L345.29 194.70L345.43 203.95L345.57 203.21L345.71 201.19L345.85 202.80L345.99 201.25L346.13 202.21L346.27 198.80L346.41 202.77L346.55 202.64L346.70 202.68L346.84 196.83L346.98 195.58L347.12 201.86L347.26 198.77L347.40 199.05L347.54 199.94L347.68 197.14L347.82 197.41L347.96 198.33L348.10 199.56L348.24 198.75L348.38 200.28L348.52 202.51L348.66 195.03L348.80 198.81L348.94 196.25L349.09 199.38L349.23 199.49L349.37 197.13L349.51 198.77L349.65 199.46L349.79 200.44L349.93 192.72L350.07 190.18L350.21 192.47L350.35 187.72L350.49 196.46L350.63 201.73L350.77 203.58L350.91 196.17L351.05 198.43L351.19 197.18L351.33 192.31L351.48 199.14L351.62 197.34L351.76 200.71L351.90 194.42L352.04 198.76L352.18 194.95L352.32 196.38L352.46 198.76L352.60 195.37L352.74 198.35L352.88 202.30L353.02 196.55L353.16 194.77L353.30 199.31L353.44 195.04L353.58 194.60L353.72 199.09L353.86 197.68L354.01 203.16L354.15 198.96L354.29 196.01L354.43 199.87L354.57 198.30L354.71 204.77L354.85 197.58L354.99 202.84L355.13 202.60L355.27 197.66L355.41 201.11L355.55 200.28L355.69 205.51L355.83 202.91L355.97 195.01L356.11 197.46L356.25 191.86L356.40 202.42L356.54 195.24L356.68 192.86L356.82 206.07L356.96 203.12L357.10 202.55L357.24 199.01L357.38 203.17L357.52 201.28L357.66 207.37L357.80 195.04L357.94 206.55L358.08 199.55L358.22 204.67L358.36 198.88L358.50 198.03L358.64 202.90L358.79 204.85L358.93 198.12L359.07 190.44L359.21 200.19L359.35 200.44L359.49 205.24L359.63 208.05L359.77 201.90L359.91 197.80L360.05 206.21L360.19 203.92L360.33 201.11L360.47 200.69L360.61 199.50L360.75 200.40L360.89 201.06L361.03 189.49L361.18 202.90L361.32 200.73L361.46 199.18L361.60 204.12L361.74 200.88L361.88 201.87L362.02 206.65L362.16 201.21L362.30 199.03L362.44 188.82L362.58 204.26L362.72 202.74L362.86 202.22L363.00 192.36L363.14 203.00L363.28 208.22L363.42 198.79L363.56 204.19L363.71 200.34L363.85 200.36L363.99 201.00L364.13 197.55L364.27 202.25L364.41 206.89L364.55 202.10L364.69 202.37L364.83 201.04L364.97 199.96L365.11 205.76L365.25 202.35L365.39 198.18L365.53 197.26L365.67 203.63L365.81 204.12L365.95 198.16L366.10 198.74L366.24 195.09L366.38 191.98L366.50 190.50L366.52 192.57L366.66 191.33L366.80 193.95L366.94 199.66L367.08 197.15L367.22 196.94L367.36 204.77L367.50 204.60L367.64 201.09L367.78 195.76L367.92 197.06L368.06 200.04L368.20 197.99L368.34 202.38L368.49 197.79L368.63 199.33L368.77 201.73L368.91 196.45L369.05 199.09L369.19 201.70L369.33 195.25L369.47 202.26L369.61 201.83L369.75 197.72L369.89 198.52L370.03 205.29L370.17 199.86L370.31 202.63L370.45 199.82L370.59 202.90L370.73 195.68L370.88 196.50L371.02 200.01L371.16 199.81L371.30 200.75L371.44 200.25L371.58 201.69L371.72 201.73L371.86 199.34L372.00 198.30L372.14 201.47L372.28 202.24L372.42 199.19L372.56 204.75L372.70 201.38L372.84 199.83L372.98 198.97L373.12 199.80L373.26 202.99L373.41 198.80L373.55 193.97L373.69 201.42L373.83 199.93L373.97 199.39L374.11 201.43L374.25 199.11L374.39 200.98L374.53 202.48L374.67 197.98L374.81 197.77L374.95 197.03L375.09 196.61L375.23 197.53L375.37 202.07L375.51 202.59L375.65 197.55L375.80 205.44L375.94 203.17L376.08 198.91L376.22 203.53L376.36 199.31L376.50 201.42L376.64 200.78L376.78 202.10L376.92 197.51L377.06 200.13L377.20 203.34L377.34 201.41L377.48 198.31L377.62 200.18L377.76 202.64L377.90 199.01L378.04 202.24L378.19 201.45L378.33 200.33L378.47 187.91L378.61 202.06L378.75 200.25L378.89 200.52L379.03 200.12L379.17 198.64L379.31 204.58L379.45 200.54L379.59 202.64L379.73 200.63L379.87 207.13L380.01 205.59L380.15 202.33L380.29 196.98L380.43 205.66L380.58 200.75L380.72 202.22L380.86 206.19L381.00 200.18L381.14 201.45L381.28 202.29L381.42 201.28L381.56 201.15L381.70 199.61L381.84 202.82L381.98 204.01L382.12 194.98L382.26 203.91L382.40 206.03L382.54 201.41L382.68 205.09L382.82 197.21L382.96 204.24L383.11 202.48L383.25 208.71L383.39 210.07L383.53 201.46L383.67 200.77L383.81 200.19L383.95 207.10L384.09 208.67L384.23 208.52L384.37 200.88L384.51 202.16L384.65 194.01L384.79 205.45L384.93 204.38L385.07 200.05L385.21 202.09L385.35 202.78L385.50 201.86L385.64 203.20L385.78 206.84L385.92 202.34L386.06 196.43L386.20 204.74L386.34 203.26L386.48 200.10L386.62 199.21L386.76 204.91L386.90 201.12L387.04 200.32L387.18 203.05L387.32 202.37L387.46 202.83L387.60 207.68L387.74 202.38L387.89 204.53L388.03 203.81L388.17 202.35L388.31 204.27L388.45 206.47L388.59 201.23L388.73 201.42L388.87 201.69L389.01 198.32L389.15 198.40L389.29 203.50L389.43 196.16L389.57 200.82L389.71 200.77L389.85 197.74L389.99 200.38L390.13 201.11L390.28 210.51L390.42 208.23L390.56 202.77L390.70 200.73L390.84 203.20L390.98 204.04L391.12 200.14L391.26 199.58L391.40 206.91L391.54 205.26L391.68 200.12L391.82 200.33L391.96 201.68L392.10 200.47L392.24 206.16L392.38 201.17L392.52 201.26L392.66 199.46L392.81 202.21L392.95 199.51L393.09 202.50L393.23 200.37L393.37 203.33L393.51 199.24L393.65 205.07L393.79 201.51L393.93 197.62L394.07 201.88L394.21 206.09L394.35 200.27L394.49 198.63L394.63 203.73L394.77 199.15L394.91 202.24L395.05 202.58L395.20 200.08L395.34 196.29L395.48 188.39L395.62 195.94L395.76 204.97L395.90 197.91L396.04 205.71L396.18 199.39L396.32 202.34L396.46 202.54L396.60 202.80L396.74 199.84L396.88 193.04L397.02 204.79L397.16 199.04L397.30 202.54L397.44 204.09L397.59 197.72L397.73 201.27L397.87 202.55L398.01 206.02L398.15 195.70L398.29 198.70L398.43 202.21L398.57 202.58L398.71 203.37L398.85 200.64L398.99 204.87L399.13 203.31L399.27 198.74L399.41 196.09L399.55 200.94L399.69 199.41L399.83 199.92L399.98 198.58L400.12 199.09L400.26 203.69L400.40 204.06L400.54 205.82L400.68 203.83L400.82 205.39L400.96 202.47L401.10 205.45L401.24 202.10L401.38 203.47L401.52 196.46L401.66 200.63L401.80 198.11L401.94 196.45L402.00 194.00L402.08 197.70L402.22 191.42L402.37 195.78L402.51 198.15L402.65 197.20L402.79 202.09L402.93 200.00L403.07 201.25L403.21 202.63L403.35 199.49L403.49 195.98L403.63 196.31L403.77 193.08L403.91 196.45L404.05 201.89L404.19 203.24L404.33 202.17L404.47 203.61L404.61 202.83L404.75 199.59L404.90 192.19L405.04 196.87L405.18 199.48L405.32 204.41L405.46 202.03L405.60 195.31L405.74 199.20L405.88 200.54L406.02 195.08L406.16 198.16L406.30 202.18L406.44 195.79L406.58 202.78L406.72 197.67L406.86 196.35L407.00 200.00L407.14 201.62L407.29 197.55L407.43 204.60L407.57 203.14L407.71 191.86L407.85 203.40L407.99 200.01L408.13 198.47L408.27 204.93L408.41 197.65L408.55 196.41L408.69 197.37L408.83 202.08L408.97 196.80L409.11 199.06L409.25 203.62L409.39 195.46L409.53 196.89L409.68 200.65L409.82 200.18L409.96 200.72L410.10 199.92L410.24 196.67L410.38 197.85L410.52 203.20L410.66 198.27L410.80 196.11L410.94 199.39L411.08 200.35L411.22 196.47L411.36 202.83L411.50 194.00L411.64 202.76L411.78 199.52L411.92 202.04L412.07 202.31L412.21 199.38L412.35 200.85L412.49 199.16L412.63 201.77L412.77 196.02L412.91 196.88L413.05 202.91L413.19 204.40L413.33 197.44L413.47 200.27L413.61 198.06L413.75 200.94L413.89 197.84L414.03 200.90L414.17 207.91L414.31 199.84L414.45 200.37L414.60 200.62L414.74 198.13L414.88 199.18L415.02 204.60L415.16 198.38L415.30 199.12L415.44 200.84L415.58 204.23L415.72 206.10L415.86 199.31L416.00 200.98L416.14 202.69L416.28 203.73L416.42 204.05L416.56 200.07L416.70 202.32L416.84 199.90L416.99 197.90L417.13 206.03L417.27 204.85L417.41 204.41L417.55 203.78L417.69 200.36L417.83 202.16L417.97 202.95L418.11 203.93L418.25 205.98L418.39 200.22L418.53 199.70L418.67 199.43L418.81 202.67L418.95 201.66L419.09 199.77L419.23 199.10L419.38 200.36L419.52 201.49L419.66 205.11L419.80 198.18L419.94 203.52L420.08 201.32L420.22 205.53L420.36 202.56L420.50 208.84L420.64 207.32L420.78 201.61L420.92 202.44L421.06 201.91L421.20 201.43L421.34 199.91L421.48 199.83L421.62 204.42L421.77 195.96L421.91 197.14L422.05 201.80L422.19 200.86L422.33 205.71L422.47 207.79L422.61 202.62L422.75 202.07L422.89 200.32L423.03 204.20L423.17 201.91L423.31 201.09L423.45 198.99L423.59 199.56L423.73 203.45L423.87 204.81L424.01 202.50L424.15 196.05L424.30 205.19L424.44 202.14L424.58 205.89L424.72 202.48L424.86 201.24L425.00 199.29L425.14 204.89L425.28 206.94L425.42 204.99L425.56 193.00L425.70 207.97L425.84 201.86L425.98 201.56L426.12 200.30L426.26 195.93L426.40 200.82L426.54 205.06L426.69 201.55L426.83 202.55L426.97 200.13L427.11 205.14L427.25 207.20L427.39 203.36L427.53 198.32L427.67 203.34L427.81 196.42L427.95 198.92L428.09 197.46L428.23 200.57L428.37 202.32L428.51 199.04L428.65 198.46L428.79 205.07L428.93 194.96L429.08 203.12L429.22 205.54L429.36 201.23L429.50 197.07L429.64 202.27L429.78 198.00L429.92 201.70L430.06 201.65L430.20 202.24L430.34 200.92L430.48 203.55L430.62 201.49L430.76 205.79L430.90 200.41L431.04 194.39L431.18 194.55L431.32 188.47L431.47 186.65L431.50 186.50L431.61 186.77L431.75 191.72L431.89 191.53L432.03 196.88L432.17 203.72L432.31 200.41L432.45 198.80L432.59 204.42L432.73 203.52L432.87 203.82L433.01 207.05L433.15 204.37L433.29 207.20L433.43 198.18L433.57 196.62L433.71 201.79L433.85 192.48L434.00 206.10L434.14 203.47L434.28 208.21L434.42 200.89L434.56 205.94L434.70 205.03L434.84 213.77L434.98 203.25L435.12 207.29L435.26 206.91L435.40 210.98L435.54 201.38L435.68 208.00L435.82 204.09L435.96 206.47L436.10 204.50L436.24 205.10L436.39 211.55L436.53 202.01L436.67 203.86L436.81 204.63L436.95 205.79L437.09 204.79L437.23 205.84L437.37 205.84L437.51 204.70L437.65 207.62L437.79 202.88L437.93 199.07L438.07 203.74L438.21 203.16L438.35 203.27L438.49 208.41L438.63 202.51L438.78 208.32L438.92 208.93L439.06 207.16L439.20 207.19L439.34 206.46L439.48 205.75L439.62 204.00L439.76 205.64L439.90 211.36L440.04 205.14L440.18 201.66L440.32 204.13L440.46 206.20L440.60 203.05L440.74 203.17L440.88 203.71L441.02 208.54L441.17 203.48L441.31 204.25L441.45 205.48L441.59 205.54L441.73 207.44L441.87 207.93L442.01 205.18L442.15 208.17L442.29 203.87L442.43 203.69L442.57 206.51L442.71 200.92L442.85 206.29L442.99 204.00L443.13 202.10L443.27 201.49L443.41 199.78L443.55 205.93L443.70 208.35L443.84 198.89L443.98 207.09L444.12 200.19L444.26 204.81L444.40 200.34L444.54 200.80L444.68 205.01L444.82 203.37L444.96 206.03L445.10 200.10L445.24 205.19L445.38 202.35L445.52 198.92L445.66 199.98L445.80 204.55L445.94 196.74L446.09 203.06L446.23 204.64L446.37 207.03L446.51 194.44L446.65 202.14L446.79 202.99L446.93 204.31L447.07 196.09L447.21 198.80L447.35 201.54L447.49 207.42L447.63 204.70L447.77 205.25L447.91 203.09L448.05 197.68L448.19 196.21L448.33 201.86L448.48 203.98L448.62 197.16L448.76 203.39L448.90 207.68L449.04 200.90L449.18 199.59L449.32 201.92L449.46 203.47L449.60 193.83L449.74 204.02L449.88 203.85L450.02 204.46L450.16 201.59L450.30 199.33L450.44 202.11L450.58 201.53L450.72 200.59L450.87 201.04L451.01 210.03L451.15 202.07L451.29 201.43L451.43 204.08L451.57 200.15L451.71 204.07L451.85 201.78L451.99 203.00L452.13 202.62L452.27 200.66L452.41 200.81L452.55 203.72L452.69 200.09L452.83 202.39L452.97 206.12L453.11 202.63L453.25 195.51L453.40 203.25L453.54 201.69L453.68 196.84L453.82 205.90L453.96 202.94L454.10 202.11L454.24 205.18L454.38 202.22L454.52 201.50L454.66 200.08L454.80 199.28L454.94 203.40L455.08 200.24L455.22 202.66L455.36 199.28L455.50 201.78L455.64 198.41L455.79 204.04L455.93 205.40L456.07 199.61L456.21 201.79L456.35 205.00L456.49 203.67L456.63 200.31L456.77 201.65L456.91 203.23L457.05 210.89L457.19 207.88L457.33 204.01L457.47 202.67L457.61 199.76L457.75 203.45L457.89 196.94L458.03 201.78L458.18 203.91L458.32 197.76L458.46 203.25L458.60 203.30L458.74 205.75L458.88 203.65L459.02 206.31L459.16 201.13L459.30 199.48L459.44 201.84L459.58 203.66L459.72 203.24L459.86 202.99L460.00 201.41L460.14 202.59L460.28 200.42L460.42 208.81L460.57 199.32L460.71 206.16L460.85 203.50" stroke="#1a1a1a" stroke-width="0.55" fill="none" stroke-linejoin="round" filter="url(#bl)"/>
<text x="46.6" y="25.4" class="ti">CC - 28<tspan dy="-4" style="font-size:6.5px">th</tspan><tspan dy="4"> Day</tspan></text>
<text x="46.6" y="38.10" class="lg">M - Mullite</text>
<text x="46.6" y="46.83" class="lg">E - Ettringite</text>
<text x="46.6" y="55.56" class="lg">CC - Calcite</text>
<text x="46.6" y="64.29" class="lg">CSH - Calcium Silicate Hydrate</text>
<text transform="translate(84.60 170.70) scale(1 1.08)" class="pk">E</text>
<text transform="translate(108.70 152.30) scale(1 1.08)" class="pk">CSH</text>
<text transform="translate(119.30 110.30) scale(1 1.08)" class="pk">CSH</text>
<text transform="translate(134.60 162.90) scale(1 1.08)" class="pk">CC</text>
<text transform="translate(160.30 45.80) scale(1 1.08)" class="pk">M</text>
<text transform="translate(167.90 88.10) scale(1 1.08)" class="pk">M</text>
<text transform="translate(178.90 59.70) scale(1 1.08)" class="pk">M</text>
<text transform="translate(187.80 166.10) scale(1 1.08)" class="pk">CSH</text>
<text transform="translate(205.30 172.70) scale(1 1.08)" class="pk">CSH</text>
<text transform="translate(236.60 174.70) scale(1 1.08)" class="pk">CSH</text>
<text transform="translate(262.00 162.30) scale(1 1.08)" class="pk">CSH</text>
<text transform="translate(277.10 177.90) scale(1 1.08)" class="pk">CSH</text>
<text transform="translate(320.00 174.60) scale(1 1.08)" class="pk">CSH</text>
<text transform="translate(365.00 194.50) scale(1 1.08)" class="pk">E</text>
<text transform="translate(399.90 196.00) scale(1 1.08)" class="pk">E</text>
<text transform="translate(427.50 185.40) scale(1 1.08)" class="pk">E</text>
<text x="273" y="256.4" text-anchor="middle" class="ax">Pos. [°2Th]</text>
<text transform="translate(12.2 115.8) rotate(-90)" text-anchor="middle" class="ax">Iobs [cts]</text>
<text x="262" y="272.5" text-anchor="middle" class="cap">(<tspan font-weight="bold">a</tspan>)</text>
<clipPath id="cs1"><rect x="304" y="16" width="194" height="127.5"/></clipPath>
<filter id="fs1" filterUnits="userSpaceOnUse" x="302" y="14" width="198" height="131.5" color-interpolation-filters="sRGB"><feGaussianBlur in="SourceGraphic" stdDeviation="1.2" result="b"/><feTurbulence type="fractalNoise" baseFrequency="0.11" numOctaves="4" seed="3" result="t"/><feColorMatrix in="t" type="matrix" values="0.4 0 0 0 0.3  0.4 0 0 0 0.3  0.4 0 0 0 0.3  0 0 0 0 1" result="g"/><feBlend in="g" in2="b" mode="overlay"/></filter>
<g clip-path="url(#cs1)"><g filter="url(#fs1)">
<path fill="#080808" d="M298.0 127.6h10.3v4.3h-10.3zM298.0 131.5h10.3v4.3h-10.3zM298.0 135.5h10.3v4.3h-10.3zM298.0 139.5h10.3v10.3h-10.3z"/>
<path fill="#101010" d="M308.0 139.5h4.3v10.3h-4.3z"/>
<path fill="#141414" d="M368.7 87.7h4.3v4.3h-4.3zM308.0 135.5h4.3v4.3h-4.3z"/>
<path fill="#181818" d="M445.5 47.9h4.3v4.3h-4.3zM364.6 87.7h4.3v4.3h-4.3zM308.0 131.5h4.3v4.3h-4.3z"/>
<path fill="#1c1c1c" d="M449.5 43.9h4.3v4.3h-4.3zM449.5 47.9h4.3v4.3h-4.3zM445.5 51.9h4.3v4.3h-4.3zM368.7 83.7h4.3v4.3h-4.3zM312.1 139.5h4.3v10.3h-4.3zM364.6 139.5h4.3v10.3h-4.3z"/>
<path fill="#202020" d="M372.7 83.7h4.3v4.3h-4.3zM397.0 131.5h4.3v4.3h-4.3zM401.0 131.5h4.3v4.3h-4.3z"/>
<path fill="#242424" d="M441.4 119.6h4.3v4.3h-4.3zM397.0 127.6h4.3v4.3h-4.3zM401.0 127.6h4.3v4.3h-4.3zM401.0 135.5h4.3v4.3h-4.3zM401.0 139.5h4.3v10.3h-4.3z"/>
<path fill="#282828" d="M298.0 10.0h10.3v10.3h-10.3zM445.5 43.9h4.3v4.3h-4.3zM449.5 51.9h4.3v4.3h-4.3zM360.6 87.7h4.3v4.3h-4.3zM372.7 87.7h4.3v4.3h-4.3zM441.4 115.6h4.3v4.3h-4.3zM445.5 119.6h4.3v4.3h-4.3zM465.7 127.6h4.3v4.3h-4.3zM405.0 131.5h4.3v4.3h-4.3zM465.7 131.5h4.3v4.3h-4.3zM405.0 135.5h4.3v4.3h-4.3zM405.0 139.5h4.3v10.3h-4.3z"/>
<path fill="#2d2d2d" d="M308.0 10.0h4.3v10.3h-4.3zM481.8 43.9h4.3v4.3h-4.3zM364.6 91.7h4.3v4.3h-4.3zM298.0 99.7h10.3v4.3h-10.3zM298.0 103.7h10.3v4.3h-10.3zM437.4 119.6h4.3v4.3h-4.3zM308.0 127.6h4.3v4.3h-4.3zM405.0 127.6h4.3v4.3h-4.3zM397.0 135.5h4.3v4.3h-4.3z"/>
<path fill="#313131" d="M376.8 79.8h4.3v4.3h-4.3zM364.6 83.7h4.3v4.3h-4.3zM298.0 95.7h10.3v4.3h-10.3zM437.4 115.6h4.3v4.3h-4.3zM465.7 123.6h4.3v4.3h-4.3zM469.7 127.6h4.3v4.3h-4.3zM392.9 131.5h4.3v4.3h-4.3zM312.1 135.5h4.3v4.3h-4.3zM364.6 135.5h4.3v4.3h-4.3zM465.7 135.5h4.3v4.3h-4.3zM360.6 139.5h4.3v10.3h-4.3zM397.0 139.5h4.3v10.3h-4.3z"/>
<path fill="#353535" d="M453.5 43.9h4.3v4.3h-4.3zM298.0 79.8h10.3v4.3h-10.3zM360.6 91.7h4.3v4.3h-4.3zM441.4 111.6h4.3v4.3h-4.3zM445.5 115.6h4.3v4.3h-4.3zM449.5 119.6h4.3v4.3h-4.3zM298.0 123.6h10.3v4.3h-10.3zM441.4 123.6h4.3v4.3h-4.3zM445.5 123.6h4.3v4.3h-4.3zM392.9 127.6h4.3v4.3h-4.3zM469.7 131.5h4.3v4.3h-4.3zM461.6 135.5h4.3v4.3h-4.3zM441.4 139.5h4.3v10.3h-4.3zM461.6 139.5h4.3v10.3h-4.3zM465.7 139.5h4.3v10.3h-4.3z"/>
<path fill="#393939" d="M312.1 10.0h4.3v10.3h-4.3zM298.0 20.0h10.3v4.3h-10.3zM360.6 39.9h4.3v4.3h-4.3zM481.8 39.9h4.3v4.3h-4.3zM485.9 43.9h4.3v4.3h-4.3zM453.5 47.9h4.3v4.3h-4.3zM445.5 55.8h4.3v4.3h-4.3zM449.5 55.8h4.3v4.3h-4.3zM298.0 75.8h10.3v4.3h-10.3zM465.7 115.6h4.3v4.3h-4.3zM469.7 115.6h4.3v4.3h-4.3zM465.7 119.6h4.3v4.3h-4.3zM401.0 123.6h4.3v4.3h-4.3zM437.4 123.6h4.3v4.3h-4.3zM445.5 139.5h4.3v10.3h-4.3zM457.6 139.5h4.3v10.3h-4.3z"/>
<path fill="#3d3d3d" d="M308.0 20.0h4.3v4.3h-4.3zM356.5 39.9h4.3v4.3h-4.3zM485.9 39.9h4.3v4.3h-4.3zM441.4 51.9h4.3v4.3h-4.3zM372.7 79.8h4.3v4.3h-4.3zM360.6 83.7h4.3v4.3h-4.3zM376.8 83.7h4.3v4.3h-4.3zM298.0 91.7h10.3v4.3h-10.3zM308.0 95.7h4.3v4.3h-4.3zM368.7 119.6h4.3v4.3h-4.3zM405.0 123.6h4.3v4.3h-4.3zM449.5 123.6h4.3v4.3h-4.3zM469.7 123.6h4.3v4.3h-4.3zM409.1 131.5h4.3v4.3h-4.3zM461.6 131.5h4.3v4.3h-4.3zM409.1 135.5h4.3v4.3h-4.3zM441.4 135.5h4.3v4.3h-4.3zM445.5 135.5h4.3v4.3h-4.3zM368.7 139.5h4.3v10.3h-4.3zM409.1 139.5h4.3v10.3h-4.3z"/>
<path fill="#414141" d="M360.6 35.9h4.3v4.3h-4.3zM356.5 43.9h4.3v4.3h-4.3zM360.6 43.9h4.3v4.3h-4.3zM441.4 47.9h4.3v4.3h-4.3zM308.0 79.8h4.3v4.3h-4.3zM380.8 79.8h4.3v4.3h-4.3zM356.5 87.7h4.3v4.3h-4.3zM308.0 91.7h4.3v4.3h-4.3zM368.7 91.7h4.3v4.3h-4.3zM364.6 95.7h4.3v4.3h-4.3zM298.0 107.6h10.3v4.3h-10.3zM469.7 111.6h4.3v4.3h-4.3zM453.5 119.6h4.3v4.3h-4.3zM397.0 123.6h4.3v4.3h-4.3zM453.5 123.6h4.3v4.3h-4.3zM461.6 123.6h4.3v4.3h-4.3zM409.1 127.6h4.3v4.3h-4.3zM461.6 127.6h4.3v4.3h-4.3zM392.9 135.5h4.3v4.3h-4.3zM457.6 135.5h4.3v4.3h-4.3zM469.7 135.5h4.3v4.3h-4.3zM437.4 139.5h4.3v10.3h-4.3z"/>
<path fill="#454545" d="M312.1 20.0h4.3v4.3h-4.3zM413.1 28.0h4.3v4.3h-4.3zM356.5 35.9h4.3v4.3h-4.3zM352.5 39.9h4.3v4.3h-4.3zM449.5 39.9h4.3v4.3h-4.3zM352.5 43.9h4.3v4.3h-4.3zM298.0 83.7h10.3v4.3h-10.3zM356.5 83.7h4.3v4.3h-4.3zM360.6 95.7h4.3v4.3h-4.3zM308.0 99.7h4.3v4.3h-4.3zM437.4 111.6h4.3v4.3h-4.3zM372.7 119.6h4.3v4.3h-4.3zM469.7 119.6h4.3v4.3h-4.3zM368.7 123.6h4.3v4.3h-4.3zM457.6 123.6h4.3v4.3h-4.3zM360.6 135.5h4.3v4.3h-4.3zM368.7 135.5h4.3v4.3h-4.3zM437.4 135.5h4.3v4.3h-4.3zM376.8 139.5h4.3v10.3h-4.3zM449.5 139.5h4.3v10.3h-4.3zM453.5 139.5h4.3v10.3h-4.3zM469.7 139.5h4.3v10.3h-4.3z"/>
<path fill="#494949" d="M409.1 28.0h4.3v4.3h-4.3zM445.5 28.0h4.3v4.3h-4.3zM449.5 28.0h4.3v4.3h-4.3zM453.5 51.9h4.3v4.3h-4.3zM449.5 59.8h4.3v4.3h-4.3zM405.0 63.8h4.3v4.3h-4.3zM308.0 75.8h4.3v4.3h-4.3zM308.0 83.7h4.3v4.3h-4.3zM298.0 87.7h10.3v4.3h-10.3zM481.8 95.7h4.3v4.3h-4.3zM485.9 95.7h4.3v4.3h-4.3zM445.5 111.6h4.3v4.3h-4.3zM465.7 111.6h4.3v4.3h-4.3zM433.3 115.6h4.3v4.3h-4.3zM461.6 119.6h4.3v4.3h-4.3zM441.4 127.6h4.3v4.3h-4.3zM445.5 127.6h4.3v4.3h-4.3zM441.4 131.5h4.3v4.3h-4.3zM445.5 131.5h4.3v4.3h-4.3zM316.1 139.5h4.3v10.3h-4.3zM372.7 139.5h4.3v10.3h-4.3zM392.9 139.5h4.3v10.3h-4.3z"/>
<path fill="#4d4d4d" d="M352.5 35.9h4.3v4.3h-4.3zM453.5 55.8h4.3v4.3h-4.3zM401.0 63.8h4.3v4.3h-4.3zM308.0 87.7h4.3v4.3h-4.3zM312.1 91.7h4.3v4.3h-4.3zM481.8 91.7h4.3v4.3h-4.3zM485.9 91.7h4.3v4.3h-4.3zM384.8 107.6h4.3v4.3h-4.3zM441.4 107.6h4.3v4.3h-4.3zM384.8 111.6h4.3v4.3h-4.3zM388.9 111.6h4.3v4.3h-4.3zM413.1 111.6h4.3v4.3h-4.3zM401.0 119.6h4.3v4.3h-4.3zM433.3 119.6h4.3v4.3h-4.3zM457.6 119.6h4.3v4.3h-4.3zM372.7 123.6h4.3v4.3h-4.3zM409.1 123.6h4.3v4.3h-4.3zM457.6 131.5h4.3v4.3h-4.3zM449.5 135.5h4.3v4.3h-4.3zM453.5 135.5h4.3v4.3h-4.3z"/>
<path fill="#515151" d="M316.1 10.0h4.3v10.3h-4.3zM413.1 24.0h4.3v4.3h-4.3zM445.5 24.0h4.3v4.3h-4.3zM453.5 28.0h4.3v4.3h-4.3zM445.5 39.9h4.3v4.3h-4.3zM352.5 47.9h4.3v4.3h-4.3zM356.5 47.9h4.3v4.3h-4.3zM441.4 55.8h4.3v4.3h-4.3zM405.0 59.8h4.3v4.3h-4.3zM453.5 59.8h4.3v4.3h-4.3zM376.8 75.8h4.3v4.3h-4.3zM368.7 79.8h4.3v4.3h-4.3zM312.1 95.7h4.3v4.3h-4.3zM308.0 103.7h4.3v4.3h-4.3zM380.8 107.6h4.3v4.3h-4.3zM388.9 107.6h4.3v4.3h-4.3zM445.5 107.6h4.3v4.3h-4.3zM409.1 111.6h4.3v4.3h-4.3zM433.3 111.6h4.3v4.3h-4.3zM405.0 119.6h4.3v4.3h-4.3zM437.4 127.6h4.3v4.3h-4.3zM457.6 127.6h4.3v4.3h-4.3zM388.9 131.5h4.3v4.3h-4.3zM437.4 131.5h4.3v4.3h-4.3zM372.7 135.5h4.3v4.3h-4.3zM376.8 135.5h4.3v4.3h-4.3zM380.8 139.5h4.3v10.3h-4.3z"/>
<path fill="#555555" d="M494.0 10.0h10.3v10.3h-10.3zM409.1 24.0h4.3v4.3h-4.3zM364.6 39.9h4.3v4.3h-4.3zM453.5 39.9h4.3v4.3h-4.3zM348.5 43.9h4.3v4.3h-4.3zM441.4 43.9h4.3v4.3h-4.3zM360.6 47.9h4.3v4.3h-4.3zM312.1 59.8h4.3v4.3h-4.3zM401.0 59.8h4.3v4.3h-4.3zM312.1 63.8h4.3v4.3h-4.3zM298.0 71.8h10.3v4.3h-10.3zM380.8 75.8h4.3v4.3h-4.3zM352.5 83.7h4.3v4.3h-4.3zM312.1 87.7h4.3v4.3h-4.3zM376.8 87.7h4.3v4.3h-4.3zM364.6 99.7h4.3v4.3h-4.3zM298.0 111.6h10.3v4.3h-10.3zM380.8 111.6h4.3v4.3h-4.3zM409.1 115.6h4.3v4.3h-4.3zM413.1 115.6h4.3v4.3h-4.3zM308.0 123.6h4.3v4.3h-4.3zM392.9 123.6h4.3v4.3h-4.3zM388.9 127.6h4.3v4.3h-4.3zM449.5 127.6h4.3v4.3h-4.3z"/>
<path fill="#595959" d="M417.2 28.0h4.3v4.3h-4.3zM441.4 28.0h4.3v4.3h-4.3zM364.6 35.9h4.3v4.3h-4.3zM348.5 39.9h4.3v4.3h-4.3zM348.5 47.9h4.3v4.3h-4.3zM308.0 59.8h4.3v4.3h-4.3zM308.0 63.8h4.3v4.3h-4.3zM401.0 67.8h4.3v4.3h-4.3zM405.0 67.8h4.3v4.3h-4.3zM405.0 75.8h4.3v4.3h-4.3zM356.5 79.8h4.3v4.3h-4.3zM312.1 83.7h4.3v4.3h-4.3zM380.8 83.7h4.3v4.3h-4.3zM445.5 87.7h4.3v4.3h-4.3zM449.5 87.7h4.3v4.3h-4.3zM372.7 91.7h4.3v4.3h-4.3zM449.5 91.7h4.3v4.3h-4.3zM449.5 95.7h4.3v4.3h-4.3zM360.6 99.7h4.3v4.3h-4.3zM380.8 103.7h4.3v4.3h-4.3zM384.8 103.7h4.3v4.3h-4.3zM445.5 103.7h4.3v4.3h-4.3zM413.1 107.6h4.3v4.3h-4.3zM417.2 107.6h4.3v4.3h-4.3zM392.9 111.6h4.3v4.3h-4.3zM417.2 111.6h4.3v4.3h-4.3zM429.3 111.6h4.3v4.3h-4.3zM298.0 119.6h10.3v4.3h-10.3zM397.0 119.6h4.3v4.3h-4.3zM409.1 119.6h4.3v4.3h-4.3zM433.3 123.6h4.3v4.3h-4.3zM453.5 127.6h4.3v4.3h-4.3zM368.7 131.5h4.3v4.3h-4.3zM449.5 131.5h4.3v4.3h-4.3zM453.5 131.5h4.3v4.3h-4.3zM380.8 135.5h4.3v4.3h-4.3zM433.3 139.5h4.3v10.3h-4.3z"/>
<path fill="#5d5d5d" d="M489.9 10.0h4.3v10.3h-4.3zM316.1 20.0h4.3v4.3h-4.3zM298.0 24.0h10.3v4.3h-10.3zM417.2 24.0h4.3v4.3h-4.3zM441.4 24.0h4.3v4.3h-4.3zM449.5 24.0h4.3v4.3h-4.3zM352.5 31.9h4.3v4.3h-4.3zM356.5 31.9h4.3v4.3h-4.3zM348.5 35.9h4.3v4.3h-4.3zM485.9 35.9h4.3v4.3h-4.3zM477.8 43.9h4.3v4.3h-4.3zM348.5 51.9h4.3v4.3h-4.3zM344.4 55.8h4.3v4.3h-4.3zM348.5 55.8h4.3v4.3h-4.3zM298.0 59.8h10.3v4.3h-10.3zM348.5 59.8h4.3v4.3h-4.3zM298.0 63.8h10.3v4.3h-10.3zM473.8 67.8h4.3v4.3h-4.3zM308.0 71.8h4.3v4.3h-4.3zM401.0 71.8h4.3v4.3h-4.3zM405.0 71.8h4.3v4.3h-4.3zM312.1 79.8h4.3v4.3h-4.3zM352.5 87.7h4.3v4.3h-4.3zM453.5 87.7h4.3v4.3h-4.3zM356.5 91.7h4.3v4.3h-4.3zM409.1 95.7h4.3v4.3h-4.3zM449.5 99.7h4.3v4.3h-4.3zM417.2 103.7h4.3v4.3h-4.3zM421.2 107.6h4.3v4.3h-4.3zM421.2 111.6h4.3v4.3h-4.3zM425.2 111.6h4.3v4.3h-4.3zM298.0 115.6h10.3v4.3h-10.3zM405.0 115.6h4.3v4.3h-4.3zM417.2 115.6h4.3v4.3h-4.3zM449.5 115.6h4.3v4.3h-4.3zM364.6 119.6h4.3v4.3h-4.3zM368.7 127.6h4.3v4.3h-4.3zM413.1 127.6h4.3v4.3h-4.3zM372.7 131.5h4.3v4.3h-4.3zM413.1 131.5h4.3v4.3h-4.3zM473.8 131.5h4.3v4.3h-4.3zM316.1 135.5h4.3v4.3h-4.3zM413.1 135.5h4.3v4.3h-4.3zM433.3 135.5h4.3v4.3h-4.3zM413.1 139.5h4.3v10.3h-4.3z"/>
<path fill="#616161" d="M308.0 24.0h4.3v4.3h-4.3zM481.8 35.9h4.3v4.3h-4.3zM364.6 43.9h4.3v4.3h-4.3zM344.4 47.9h4.3v4.3h-4.3zM481.8 47.9h4.3v4.3h-4.3zM344.4 51.9h4.3v4.3h-4.3zM352.5 51.9h4.3v4.3h-4.3zM298.0 55.8h10.3v4.3h-10.3zM316.1 59.8h4.3v4.3h-4.3zM344.4 59.8h4.3v4.3h-4.3zM445.5 59.8h4.3v4.3h-4.3zM449.5 63.8h4.3v4.3h-4.3zM453.5 63.8h4.3v4.3h-4.3zM298.0 67.8h10.3v4.3h-10.3zM473.8 71.8h4.3v4.3h-4.3zM352.5 79.8h4.3v4.3h-4.3zM405.0 79.8h4.3v4.3h-4.3zM457.6 79.8h4.3v4.3h-4.3zM457.6 83.7h4.3v4.3h-4.3zM445.5 91.7h4.3v4.3h-4.3zM453.5 91.7h4.3v4.3h-4.3zM413.1 95.7h4.3v4.3h-4.3zM445.5 99.7h4.3v4.3h-4.3zM364.6 103.7h4.3v4.3h-4.3zM388.9 103.7h4.3v4.3h-4.3zM421.2 103.7h4.3v4.3h-4.3zM308.0 107.6h4.3v4.3h-4.3zM392.9 107.6h4.3v4.3h-4.3zM409.1 107.6h4.3v4.3h-4.3zM368.7 115.6h4.3v4.3h-4.3zM372.7 115.6h4.3v4.3h-4.3zM392.9 115.6h4.3v4.3h-4.3zM397.0 115.6h4.3v4.3h-4.3zM401.0 115.6h4.3v4.3h-4.3zM413.1 119.6h4.3v4.3h-4.3zM413.1 123.6h4.3v4.3h-4.3zM372.7 127.6h4.3v4.3h-4.3zM473.8 127.6h4.3v4.3h-4.3zM312.1 131.5h4.3v4.3h-4.3zM364.6 131.5h4.3v4.3h-4.3zM473.8 135.5h4.3v4.3h-4.3z"/>
<path fill="#656565" d="M494.0 20.0h10.3v4.3h-10.3zM312.1 24.0h4.3v4.3h-4.3zM457.6 28.0h4.3v4.3h-4.3zM449.5 31.9h4.3v4.3h-4.3zM344.4 43.9h4.3v4.3h-4.3zM316.1 63.8h4.3v4.3h-4.3zM312.1 75.8h4.3v4.3h-4.3zM401.0 75.8h4.3v4.3h-4.3zM457.6 75.8h4.3v4.3h-4.3zM461.6 75.8h4.3v4.3h-4.3zM445.5 83.7h4.3v4.3h-4.3zM449.5 83.7h4.3v4.3h-4.3zM453.5 83.7h4.3v4.3h-4.3zM441.4 87.7h4.3v4.3h-4.3zM409.1 91.7h4.3v4.3h-4.3zM413.1 91.7h4.3v4.3h-4.3zM445.5 95.7h4.3v4.3h-4.3zM384.8 99.7h4.3v4.3h-4.3zM376.8 103.7h4.3v4.3h-4.3zM449.5 103.7h4.3v4.3h-4.3zM376.8 107.6h4.3v4.3h-4.3zM425.2 107.6h4.3v4.3h-4.3zM376.8 111.6h4.3v4.3h-4.3zM397.0 111.6h4.3v4.3h-4.3zM461.6 115.6h4.3v4.3h-4.3zM388.9 135.5h4.3v4.3h-4.3zM473.8 139.5h4.3v10.3h-4.3z"/>
<path fill="#696969" d="M405.0 24.0h4.3v4.3h-4.3zM453.5 24.0h4.3v4.3h-4.3zM405.0 28.0h4.3v4.3h-4.3zM348.5 31.9h4.3v4.3h-4.3zM360.6 31.9h4.3v4.3h-4.3zM453.5 31.9h4.3v4.3h-4.3zM344.4 39.9h4.3v4.3h-4.3zM477.8 39.9h4.3v4.3h-4.3zM298.0 51.9h10.3v4.3h-10.3zM356.5 51.9h4.3v4.3h-4.3zM352.5 55.8h4.3v4.3h-4.3zM308.0 67.8h4.3v4.3h-4.3zM461.6 71.8h4.3v4.3h-4.3zM356.5 75.8h4.3v4.3h-4.3zM372.7 75.8h4.3v4.3h-4.3zM364.6 79.8h4.3v4.3h-4.3zM409.1 79.8h4.3v4.3h-4.3zM461.6 79.8h4.3v4.3h-4.3zM441.4 83.7h4.3v4.3h-4.3zM316.1 87.7h4.3v4.3h-4.3zM316.1 91.7h4.3v4.3h-4.3zM368.7 95.7h4.3v4.3h-4.3zM405.0 95.7h4.3v4.3h-4.3zM380.8 99.7h4.3v4.3h-4.3zM388.9 99.7h4.3v4.3h-4.3zM409.1 99.7h4.3v4.3h-4.3zM413.1 99.7h4.3v4.3h-4.3zM417.2 99.7h4.3v4.3h-4.3zM481.8 99.7h4.3v4.3h-4.3zM360.6 103.7h4.3v4.3h-4.3zM413.1 103.7h4.3v4.3h-4.3zM441.4 103.7h4.3v4.3h-4.3zM397.0 107.6h4.3v4.3h-4.3zM437.4 107.6h4.3v4.3h-4.3zM405.0 111.6h4.3v4.3h-4.3zM364.6 115.6h4.3v4.3h-4.3zM376.8 115.6h4.3v4.3h-4.3zM388.9 115.6h4.3v4.3h-4.3zM421.2 115.6h4.3v4.3h-4.3zM429.3 115.6h4.3v4.3h-4.3zM417.2 119.6h4.3v4.3h-4.3zM364.6 123.6h4.3v4.3h-4.3zM473.8 123.6h4.3v4.3h-4.3zM433.3 127.6h4.3v4.3h-4.3zM384.8 131.5h4.3v4.3h-4.3zM433.3 131.5h4.3v4.3h-4.3zM388.9 139.5h4.3v10.3h-4.3z"/>
<path fill="#6d6d6d" d="M441.4 20.0h4.3v4.3h-4.3zM489.9 20.0h4.3v4.3h-4.3zM421.2 24.0h4.3v4.3h-4.3zM352.5 28.0h4.3v4.3h-4.3zM445.5 31.9h4.3v4.3h-4.3zM449.5 35.9h4.3v4.3h-4.3zM328.2 47.9h4.3v4.3h-4.3zM332.3 47.9h4.3v4.3h-4.3zM340.4 47.9h4.3v4.3h-4.3zM485.9 47.9h4.3v4.3h-4.3zM328.2 51.9h4.3v4.3h-4.3zM332.3 51.9h4.3v4.3h-4.3zM340.4 51.9h4.3v4.3h-4.3zM308.0 55.8h4.3v4.3h-4.3zM469.7 67.8h4.3v4.3h-4.3zM477.8 67.8h4.3v4.3h-4.3zM409.1 75.8h4.3v4.3h-4.3zM360.6 79.8h4.3v4.3h-4.3zM316.1 83.7h4.3v4.3h-4.3zM413.1 87.7h4.3v4.3h-4.3zM457.6 87.7h4.3v4.3h-4.3zM481.8 87.7h4.3v4.3h-4.3zM485.9 87.7h4.3v4.3h-4.3zM453.5 95.7h4.3v4.3h-4.3zM405.0 99.7h4.3v4.3h-4.3zM485.9 99.7h4.3v4.3h-4.3zM392.9 103.7h4.3v4.3h-4.3zM364.6 107.6h4.3v4.3h-4.3zM429.3 107.6h4.3v4.3h-4.3zM473.8 111.6h4.3v4.3h-4.3zM384.8 115.6h4.3v4.3h-4.3zM473.8 115.6h4.3v4.3h-4.3zM392.9 119.6h4.3v4.3h-4.3zM384.8 127.6h4.3v4.3h-4.3zM376.8 131.5h4.3v4.3h-4.3zM384.8 135.5h4.3v4.3h-4.3zM384.8 139.5h4.3v10.3h-4.3z"/>
<path fill="#717171" d="M348.5 10.0h4.3v10.3h-4.3zM445.5 20.0h4.3v4.3h-4.3zM457.6 24.0h4.3v4.3h-4.3zM344.4 35.9h4.3v4.3h-4.3zM441.4 39.9h4.3v4.3h-4.3zM328.2 43.9h4.3v4.3h-4.3zM457.6 43.9h4.3v4.3h-4.3zM298.0 47.9h10.3v4.3h-10.3zM324.2 47.9h4.3v4.3h-4.3zM336.3 47.9h4.3v4.3h-4.3zM364.6 47.9h4.3v4.3h-4.3zM457.6 47.9h4.3v4.3h-4.3zM324.2 51.9h4.3v4.3h-4.3zM336.3 51.9h4.3v4.3h-4.3zM360.6 51.9h4.3v4.3h-4.3zM457.6 51.9h4.3v4.3h-4.3zM340.4 55.8h4.3v4.3h-4.3zM352.5 59.8h4.3v4.3h-4.3zM441.4 59.8h4.3v4.3h-4.3zM312.1 67.8h4.3v4.3h-4.3zM437.4 67.8h4.3v4.3h-4.3zM457.6 71.8h4.3v4.3h-4.3zM465.7 71.8h4.3v4.3h-4.3zM469.7 71.8h4.3v4.3h-4.3zM477.8 71.8h4.3v4.3h-4.3zM352.5 75.8h4.3v4.3h-4.3zM384.8 79.8h4.3v4.3h-4.3zM401.0 79.8h4.3v4.3h-4.3zM409.1 83.7h4.3v4.3h-4.3zM380.8 87.7h4.3v4.3h-4.3zM409.1 87.7h4.3v4.3h-4.3zM376.8 91.7h4.3v4.3h-4.3zM405.0 91.7h4.3v4.3h-4.3zM356.5 95.7h4.3v4.3h-4.3zM384.8 95.7h4.3v4.3h-4.3zM388.9 95.7h4.3v4.3h-4.3zM401.0 99.7h4.3v4.3h-4.3zM477.8 99.7h4.3v4.3h-4.3zM397.0 103.7h4.3v4.3h-4.3zM401.0 103.7h4.3v4.3h-4.3zM405.0 103.7h4.3v4.3h-4.3zM409.1 103.7h4.3v4.3h-4.3zM477.8 103.7h4.3v4.3h-4.3zM401.0 107.6h4.3v4.3h-4.3zM405.0 107.6h4.3v4.3h-4.3zM308.0 111.6h4.3v4.3h-4.3zM364.6 111.6h4.3v4.3h-4.3zM401.0 111.6h4.3v4.3h-4.3zM380.8 115.6h4.3v4.3h-4.3zM308.0 119.6h4.3v4.3h-4.3zM376.8 119.6h4.3v4.3h-4.3zM473.8 119.6h4.3v4.3h-4.3zM380.8 131.5h4.3v4.3h-4.3z"/>
<path fill="#757575" d="M344.4 10.0h4.3v10.3h-4.3zM485.9 10.0h4.3v10.3h-4.3zM348.5 20.0h4.3v4.3h-4.3zM316.1 24.0h4.3v4.3h-4.3zM421.2 28.0h4.3v4.3h-4.3zM453.5 35.9h4.3v4.3h-4.3zM489.9 39.9h4.3v4.3h-4.3zM324.2 43.9h4.3v4.3h-4.3zM332.3 43.9h4.3v4.3h-4.3zM340.4 43.9h4.3v4.3h-4.3zM356.5 55.8h4.3v4.3h-4.3zM457.6 55.8h4.3v4.3h-4.3zM457.6 59.8h4.3v4.3h-4.3zM348.5 63.8h4.3v4.3h-4.3zM445.5 63.8h4.3v4.3h-4.3zM457.6 63.8h4.3v4.3h-4.3zM473.8 63.8h4.3v4.3h-4.3zM433.3 67.8h4.3v4.3h-4.3zM457.6 67.8h4.3v4.3h-4.3zM461.6 67.8h4.3v4.3h-4.3zM465.7 67.8h4.3v4.3h-4.3zM312.1 71.8h4.3v4.3h-4.3zM437.4 71.8h4.3v4.3h-4.3zM453.5 79.8h4.3v4.3h-4.3zM405.0 83.7h4.3v4.3h-4.3zM413.1 83.7h4.3v4.3h-4.3zM437.4 83.7h4.3v4.3h-4.3zM461.6 83.7h4.3v4.3h-4.3zM401.0 95.7h4.3v4.3h-4.3zM417.2 95.7h4.3v4.3h-4.3zM489.9 95.7h4.3v4.3h-4.3zM312.1 99.7h4.3v4.3h-4.3zM368.7 99.7h4.3v4.3h-4.3zM376.8 99.7h4.3v4.3h-4.3zM392.9 99.7h4.3v4.3h-4.3zM421.2 99.7h4.3v4.3h-4.3zM425.2 103.7h4.3v4.3h-4.3zM360.6 107.6h4.3v4.3h-4.3zM433.3 107.6h4.3v4.3h-4.3zM449.5 107.6h4.3v4.3h-4.3zM469.7 107.6h4.3v4.3h-4.3zM473.8 107.6h4.3v4.3h-4.3zM308.0 115.6h4.3v4.3h-4.3zM425.2 115.6h4.3v4.3h-4.3zM453.5 115.6h4.3v4.3h-4.3zM417.2 123.6h4.3v4.3h-4.3zM360.6 131.5h4.3v4.3h-4.3zM356.5 139.5h4.3v10.3h-4.3z"/>
<path fill="#797979" d="M320.2 10.0h4.3v10.3h-4.3zM441.4 10.0h4.3v10.3h-4.3zM344.4 20.0h4.3v4.3h-4.3zM352.5 24.0h4.3v4.3h-4.3zM437.4 24.0h4.3v4.3h-4.3zM348.5 28.0h4.3v4.3h-4.3zM356.5 28.0h4.3v4.3h-4.3zM437.4 28.0h4.3v4.3h-4.3zM445.5 35.9h4.3v4.3h-4.3zM489.9 35.9h4.3v4.3h-4.3zM336.3 43.9h4.3v4.3h-4.3zM473.8 43.9h4.3v4.3h-4.3zM477.8 47.9h4.3v4.3h-4.3zM344.4 63.8h4.3v4.3h-4.3zM437.4 63.8h4.3v4.3h-4.3zM453.5 67.8h4.3v4.3h-4.3zM473.8 75.8h4.3v4.3h-4.3zM413.1 79.8h4.3v4.3h-4.3zM348.5 83.7h4.3v4.3h-4.3zM384.8 83.7h4.3v4.3h-4.3zM384.8 87.7h4.3v4.3h-4.3zM417.2 87.7h4.3v4.3h-4.3zM384.8 91.7h4.3v4.3h-4.3zM417.2 91.7h4.3v4.3h-4.3zM441.4 91.7h4.3v4.3h-4.3zM316.1 95.7h4.3v4.3h-4.3zM477.8 95.7h4.3v4.3h-4.3zM397.0 99.7h4.3v4.3h-4.3zM441.4 99.7h4.3v4.3h-4.3zM457.6 115.6h4.3v4.3h-4.3zM421.2 119.6h4.3v4.3h-4.3zM376.8 123.6h4.3v4.3h-4.3zM388.9 123.6h4.3v4.3h-4.3zM364.6 127.6h4.3v4.3h-4.3zM477.8 131.5h4.3v4.3h-4.3zM477.8 135.5h4.3v4.3h-4.3zM477.8 139.5h4.3v10.3h-4.3z"/>
<path fill="#7d7d7d" d="M445.5 10.0h4.3v10.3h-4.3zM348.5 24.0h4.3v4.3h-4.3zM401.0 24.0h4.3v4.3h-4.3zM298.0 28.0h10.3v4.3h-10.3zM461.6 28.0h4.3v4.3h-4.3zM344.4 31.9h4.3v4.3h-4.3zM364.6 31.9h4.3v4.3h-4.3zM441.4 31.9h4.3v4.3h-4.3zM457.6 31.9h4.3v4.3h-4.3zM340.4 39.9h4.3v4.3h-4.3zM457.6 39.9h4.3v4.3h-4.3zM298.0 43.9h10.3v4.3h-10.3zM320.2 43.9h4.3v4.3h-4.3zM489.9 43.9h4.3v4.3h-4.3zM324.2 55.8h4.3v4.3h-4.3zM328.2 55.8h4.3v4.3h-4.3zM332.3 55.8h4.3v4.3h-4.3zM336.3 55.8h4.3v4.3h-4.3zM360.6 55.8h4.3v4.3h-4.3zM405.0 55.8h4.3v4.3h-4.3zM320.2 59.8h4.3v4.3h-4.3zM340.4 59.8h4.3v4.3h-4.3zM356.5 59.8h4.3v4.3h-4.3zM352.5 63.8h4.3v4.3h-4.3zM433.3 63.8h4.3v4.3h-4.3zM441.4 63.8h4.3v4.3h-4.3zM477.8 63.8h4.3v4.3h-4.3zM441.4 67.8h4.3v4.3h-4.3zM449.5 67.8h4.3v4.3h-4.3zM356.5 71.8h4.3v4.3h-4.3zM409.1 71.8h4.3v4.3h-4.3zM433.3 71.8h4.3v4.3h-4.3zM368.7 75.8h4.3v4.3h-4.3zM384.8 75.8h4.3v4.3h-4.3zM437.4 75.8h4.3v4.3h-4.3zM453.5 75.8h4.3v4.3h-4.3zM316.1 79.8h4.3v4.3h-4.3zM437.4 79.8h4.3v4.3h-4.3zM441.4 79.8h4.3v4.3h-4.3zM445.5 79.8h4.3v4.3h-4.3zM449.5 79.8h4.3v4.3h-4.3zM348.5 87.7h4.3v4.3h-4.3zM405.0 87.7h4.3v4.3h-4.3zM437.4 87.7h4.3v4.3h-4.3zM352.5 91.7h4.3v4.3h-4.3zM380.8 91.7h4.3v4.3h-4.3zM388.9 91.7h4.3v4.3h-4.3zM401.0 91.7h4.3v4.3h-4.3zM457.6 91.7h4.3v4.3h-4.3zM489.9 91.7h4.3v4.3h-4.3zM372.7 95.7h4.3v4.3h-4.3zM380.8 95.7h4.3v4.3h-4.3zM392.9 95.7h4.3v4.3h-4.3zM397.0 95.7h4.3v4.3h-4.3zM453.5 99.7h4.3v4.3h-4.3zM489.9 99.7h4.3v4.3h-4.3zM368.7 103.7h4.3v4.3h-4.3zM372.7 103.7h4.3v4.3h-4.3zM473.8 103.7h4.3v4.3h-4.3zM494.0 107.6h10.3v4.3h-10.3zM360.6 111.6h4.3v4.3h-4.3zM372.7 111.6h4.3v4.3h-4.3zM494.0 111.6h10.3v4.3h-10.3zM494.0 115.6h10.3v4.3h-10.3zM376.8 127.6h4.3v4.3h-4.3zM477.8 127.6h4.3v4.3h-4.3z"/>
<path fill="#828282" d="M320.2 20.0h4.3v4.3h-4.3zM352.5 20.0h4.3v4.3h-4.3zM405.0 20.0h4.3v4.3h-4.3zM485.9 20.0h4.3v4.3h-4.3zM425.2 24.0h4.3v4.3h-4.3zM461.6 24.0h4.3v4.3h-4.3zM308.0 28.0h4.3v4.3h-4.3zM401.0 28.0h4.3v4.3h-4.3zM485.9 31.9h4.3v4.3h-4.3zM324.2 39.9h4.3v4.3h-4.3zM469.7 43.9h4.3v4.3h-4.3zM308.0 47.9h4.3v4.3h-4.3zM320.2 47.9h4.3v4.3h-4.3zM308.0 51.9h4.3v4.3h-4.3zM320.2 55.8h4.3v4.3h-4.3zM401.0 55.8h4.3v4.3h-4.3zM437.4 55.8h4.3v4.3h-4.3zM409.1 59.8h4.3v4.3h-4.3zM437.4 59.8h4.3v4.3h-4.3zM356.5 63.8h4.3v4.3h-4.3zM409.1 63.8h4.3v4.3h-4.3zM445.5 67.8h4.3v4.3h-4.3zM352.5 71.8h4.3v4.3h-4.3zM441.4 71.8h4.3v4.3h-4.3zM453.5 71.8h4.3v4.3h-4.3zM413.1 75.8h4.3v4.3h-4.3zM465.7 75.8h4.3v4.3h-4.3zM417.2 83.7h4.3v4.3h-4.3zM376.8 95.7h4.3v4.3h-4.3zM372.7 99.7h4.3v4.3h-4.3zM494.0 103.7h10.3v4.3h-10.3zM372.7 107.6h4.3v4.3h-4.3zM368.7 111.6h4.3v4.3h-4.3zM449.5 111.6h4.3v4.3h-4.3zM360.6 115.6h4.3v4.3h-4.3zM429.3 119.6h4.3v4.3h-4.3zM494.0 119.6h10.3v4.3h-10.3zM417.2 127.6h4.3v4.3h-4.3zM356.5 135.5h4.3v4.3h-4.3zM481.8 135.5h4.3v4.3h-4.3zM481.8 139.5h4.3v10.3h-4.3zM485.9 139.5h4.3v10.3h-4.3zM489.9 139.5h4.3v10.3h-4.3zM494.0 139.5h10.3v10.3h-10.3z"/>
<path fill="#868686" d="M352.5 10.0h4.3v10.3h-4.3zM425.2 10.0h4.3v10.3h-4.3zM429.3 10.0h4.3v10.3h-4.3zM401.0 20.0h4.3v4.3h-4.3zM425.2 20.0h4.3v4.3h-4.3zM344.4 24.0h4.3v4.3h-4.3zM312.1 28.0h4.3v4.3h-4.3zM477.8 35.9h4.3v4.3h-4.3zM494.0 35.9h10.3v4.3h-10.3zM320.2 39.9h4.3v4.3h-4.3zM328.2 39.9h4.3v4.3h-4.3zM473.8 39.9h4.3v4.3h-4.3zM308.0 43.9h4.3v4.3h-4.3zM465.7 43.9h4.3v4.3h-4.3zM473.8 47.9h4.3v4.3h-4.3zM437.4 51.9h4.3v4.3h-4.3zM360.6 59.8h4.3v4.3h-4.3zM397.0 63.8h4.3v4.3h-4.3zM461.6 63.8h4.3v4.3h-4.3zM316.1 67.8h4.3v4.3h-4.3zM352.5 67.8h4.3v4.3h-4.3zM356.5 67.8h4.3v4.3h-4.3zM397.0 67.8h4.3v4.3h-4.3zM409.1 67.8h4.3v4.3h-4.3zM421.2 67.8h4.3v4.3h-4.3zM397.0 71.8h4.3v4.3h-4.3zM316.1 75.8h4.3v4.3h-4.3zM360.6 75.8h4.3v4.3h-4.3zM397.0 75.8h4.3v4.3h-4.3zM441.4 75.8h4.3v4.3h-4.3zM477.8 75.8h4.3v4.3h-4.3zM401.0 83.7h4.3v4.3h-4.3zM481.8 83.7h4.3v4.3h-4.3zM477.8 91.7h4.3v4.3h-4.3zM441.4 95.7h4.3v4.3h-4.3zM356.5 99.7h4.3v4.3h-4.3zM494.0 99.7h10.3v4.3h-10.3zM368.7 107.6h4.3v4.3h-4.3zM477.8 107.6h4.3v4.3h-4.3zM360.6 119.6h4.3v4.3h-4.3zM312.1 127.6h4.3v4.3h-4.3zM380.8 127.6h4.3v4.3h-4.3zM417.2 131.5h4.3v4.3h-4.3zM417.2 135.5h4.3v4.3h-4.3zM485.9 135.5h4.3v4.3h-4.3zM489.9 135.5h4.3v4.3h-4.3zM494.0 135.5h10.3v4.3h-10.3zM417.2 139.5h4.3v10.3h-4.3zM429.3 139.5h4.3v10.3h-4.3z"/>
<path fill="#8a8a8a" d="M340.4 10.0h4.3v10.3h-4.3zM401.0 10.0h4.3v10.3h-4.3zM405.0 10.0h4.3v10.3h-4.3zM481.8 10.0h4.3v10.3h-4.3zM421.2 20.0h4.3v4.3h-4.3zM429.3 20.0h4.3v4.3h-4.3zM437.4 20.0h4.3v4.3h-4.3zM320.2 24.0h4.3v4.3h-4.3zM356.5 24.0h4.3v4.3h-4.3zM433.3 24.0h4.3v4.3h-4.3zM316.1 28.0h4.3v4.3h-4.3zM344.4 28.0h4.3v4.3h-4.3zM481.8 31.9h4.3v4.3h-4.3zM340.4 35.9h4.3v4.3h-4.3zM368.7 35.9h4.3v4.3h-4.3zM457.6 35.9h4.3v4.3h-4.3zM332.3 39.9h4.3v4.3h-4.3zM336.3 39.9h4.3v4.3h-4.3zM461.6 43.9h4.3v4.3h-4.3zM461.6 47.9h4.3v4.3h-4.3zM465.7 47.9h4.3v4.3h-4.3zM469.7 47.9h4.3v4.3h-4.3zM320.2 51.9h4.3v4.3h-4.3zM364.6 51.9h4.3v4.3h-4.3zM312.1 55.8h4.3v4.3h-4.3zM473.8 59.8h4.3v4.3h-4.3zM320.2 63.8h4.3v4.3h-4.3zM360.6 63.8h4.3v4.3h-4.3zM429.3 63.8h4.3v4.3h-4.3zM417.2 67.8h4.3v4.3h-4.3zM429.3 67.8h4.3v4.3h-4.3zM417.2 71.8h4.3v4.3h-4.3zM445.5 71.8h4.3v4.3h-4.3zM449.5 71.8h4.3v4.3h-4.3zM433.3 75.8h4.3v4.3h-4.3zM445.5 75.8h4.3v4.3h-4.3zM449.5 75.8h4.3v4.3h-4.3zM469.7 75.8h4.3v4.3h-4.3zM348.5 79.8h4.3v4.3h-4.3zM485.9 83.7h4.3v4.3h-4.3zM320.2 87.7h4.3v4.3h-4.3zM388.9 87.7h4.3v4.3h-4.3zM401.0 87.7h4.3v4.3h-4.3zM461.6 87.7h4.3v4.3h-4.3zM494.0 95.7h10.3v4.3h-10.3zM429.3 103.7h4.3v4.3h-4.3zM489.9 103.7h4.3v4.3h-4.3zM380.8 119.6h4.3v4.3h-4.3zM388.9 119.6h4.3v4.3h-4.3zM489.9 119.6h4.3v4.3h-4.3zM384.8 123.6h4.3v4.3h-4.3zM421.2 123.6h4.3v4.3h-4.3zM477.8 123.6h4.3v4.3h-4.3zM494.0 123.6h10.3v4.3h-10.3zM481.8 131.5h4.3v4.3h-4.3zM429.3 135.5h4.3v4.3h-4.3zM320.2 139.5h4.3v10.3h-4.3z"/>
<path fill="#8e8e8e" d="M437.4 10.0h4.3v10.3h-4.3zM409.1 20.0h4.3v4.3h-4.3zM417.2 20.0h4.3v4.3h-4.3zM449.5 20.0h4.3v4.3h-4.3zM457.6 20.0h4.3v4.3h-4.3zM429.3 24.0h4.3v4.3h-4.3zM494.0 24.0h10.3v4.3h-10.3zM388.9 28.0h4.3v4.3h-4.3zM397.0 28.0h4.3v4.3h-4.3zM461.6 31.9h4.3v4.3h-4.3zM489.9 31.9h4.3v4.3h-4.3zM320.2 35.9h4.3v4.3h-4.3zM324.2 35.9h4.3v4.3h-4.3zM441.4 35.9h4.3v4.3h-4.3zM368.7 39.9h4.3v4.3h-4.3zM469.7 39.9h4.3v4.3h-4.3zM461.6 51.9h4.3v4.3h-4.3zM461.6 55.8h4.3v4.3h-4.3zM324.2 59.8h4.3v4.3h-4.3zM336.3 59.8h4.3v4.3h-4.3zM397.0 59.8h4.3v4.3h-4.3zM433.3 59.8h4.3v4.3h-4.3zM477.8 59.8h4.3v4.3h-4.3zM469.7 63.8h4.3v4.3h-4.3zM360.6 67.8h4.3v4.3h-4.3zM316.1 71.8h4.3v4.3h-4.3zM360.6 71.8h4.3v4.3h-4.3zM413.1 71.8h4.3v4.3h-4.3zM421.2 71.8h4.3v4.3h-4.3zM364.6 75.8h4.3v4.3h-4.3zM388.9 79.8h4.3v4.3h-4.3zM397.0 79.8h4.3v4.3h-4.3zM473.8 79.8h4.3v4.3h-4.3zM320.2 83.7h4.3v4.3h-4.3zM344.4 83.7h4.3v4.3h-4.3zM388.9 83.7h4.3v4.3h-4.3zM344.4 87.7h4.3v4.3h-4.3zM392.9 91.7h4.3v4.3h-4.3zM397.0 91.7h4.3v4.3h-4.3zM421.2 95.7h4.3v4.3h-4.3zM453.5 103.7h4.3v4.3h-4.3zM481.8 103.7h4.3v4.3h-4.3zM489.9 107.6h4.3v4.3h-4.3zM461.6 111.6h4.3v4.3h-4.3zM489.9 115.6h4.3v4.3h-4.3zM360.6 123.6h4.3v4.3h-4.3zM380.8 123.6h4.3v4.3h-4.3zM429.3 123.6h4.3v4.3h-4.3zM489.9 123.6h4.3v4.3h-4.3z"/>
<path fill="#929292" d="M324.2 10.0h4.3v10.3h-4.3zM328.2 10.0h4.3v10.3h-4.3zM421.2 10.0h4.3v10.3h-4.3zM433.3 10.0h4.3v10.3h-4.3zM340.4 20.0h4.3v4.3h-4.3zM356.5 20.0h4.3v4.3h-4.3zM413.1 20.0h4.3v4.3h-4.3zM433.3 20.0h4.3v4.3h-4.3zM461.6 20.0h4.3v4.3h-4.3zM481.8 20.0h4.3v4.3h-4.3zM397.0 24.0h4.3v4.3h-4.3zM320.2 28.0h4.3v4.3h-4.3zM384.8 28.0h4.3v4.3h-4.3zM392.9 28.0h4.3v4.3h-4.3zM425.2 28.0h4.3v4.3h-4.3zM433.3 28.0h4.3v4.3h-4.3zM320.2 31.9h4.3v4.3h-4.3zM384.8 31.9h4.3v4.3h-4.3zM388.9 31.9h4.3v4.3h-4.3zM392.9 31.9h4.3v4.3h-4.3zM409.1 31.9h4.3v4.3h-4.3zM437.4 31.9h4.3v4.3h-4.3zM494.0 31.9h10.3v4.3h-10.3zM298.0 39.9h10.3v4.3h-10.3zM461.6 39.9h4.3v4.3h-4.3zM465.7 39.9h4.3v4.3h-4.3zM494.0 39.9h10.3v4.3h-10.3zM312.1 43.9h4.3v4.3h-4.3zM316.1 43.9h4.3v4.3h-4.3zM465.7 51.9h4.3v4.3h-4.3zM473.8 51.9h4.3v4.3h-4.3zM316.1 55.8h4.3v4.3h-4.3zM364.6 55.8h4.3v4.3h-4.3zM473.8 55.8h4.3v4.3h-4.3zM328.2 59.8h4.3v4.3h-4.3zM332.3 59.8h4.3v4.3h-4.3zM461.6 59.8h4.3v4.3h-4.3zM340.4 63.8h4.3v4.3h-4.3zM421.2 63.8h4.3v4.3h-4.3zM425.2 63.8h4.3v4.3h-4.3zM465.7 63.8h4.3v4.3h-4.3zM425.2 67.8h4.3v4.3h-4.3zM388.9 75.8h4.3v4.3h-4.3zM417.2 79.8h4.3v4.3h-4.3zM433.3 79.8h4.3v4.3h-4.3zM465.7 79.8h4.3v4.3h-4.3zM477.8 79.8h4.3v4.3h-4.3zM433.3 83.7h4.3v4.3h-4.3zM477.8 87.7h4.3v4.3h-4.3zM489.9 87.7h4.3v4.3h-4.3zM494.0 91.7h10.3v4.3h-10.3zM425.2 99.7h4.3v4.3h-4.3zM356.5 103.7h4.3v4.3h-4.3zM437.4 103.7h4.3v4.3h-4.3zM465.7 107.6h4.3v4.3h-4.3zM489.9 111.6h4.3v4.3h-4.3zM425.2 119.6h4.3v4.3h-4.3zM477.8 119.6h4.3v4.3h-4.3zM360.6 127.6h4.3v4.3h-4.3zM481.8 127.6h4.3v4.3h-4.3zM494.0 127.6h10.3v4.3h-10.3zM316.1 131.5h4.3v4.3h-4.3zM429.3 131.5h4.3v4.3h-4.3zM485.9 131.5h4.3v4.3h-4.3zM489.9 131.5h4.3v4.3h-4.3zM494.0 131.5h10.3v4.3h-10.3z"/>
<path fill="#969696" d="M332.3 10.0h4.3v10.3h-4.3zM336.3 10.0h4.3v10.3h-4.3zM356.5 10.0h4.3v10.3h-4.3zM324.2 20.0h4.3v4.3h-4.3zM453.5 20.0h4.3v4.3h-4.3zM388.9 24.0h4.3v4.3h-4.3zM489.9 24.0h4.3v4.3h-4.3zM298.0 31.9h10.3v4.3h-10.3zM324.2 31.9h4.3v4.3h-4.3zM340.4 31.9h4.3v4.3h-4.3zM397.0 31.9h4.3v4.3h-4.3zM405.0 31.9h4.3v4.3h-4.3zM413.1 31.9h4.3v4.3h-4.3zM308.0 39.9h4.3v4.3h-4.3zM437.4 47.9h4.3v4.3h-4.3zM489.9 47.9h4.3v4.3h-4.3zM469.7 51.9h4.3v4.3h-4.3zM477.8 51.9h4.3v4.3h-4.3zM364.6 59.8h4.3v4.3h-4.3zM429.3 59.8h4.3v4.3h-4.3zM417.2 63.8h4.3v4.3h-4.3zM348.5 67.8h4.3v4.3h-4.3zM413.1 67.8h4.3v4.3h-4.3zM380.8 71.8h4.3v4.3h-4.3zM429.3 71.8h4.3v4.3h-4.3zM348.5 75.8h4.3v4.3h-4.3zM392.9 75.8h4.3v4.3h-4.3zM417.2 75.8h4.3v4.3h-4.3zM340.4 83.7h4.3v4.3h-4.3zM477.8 83.7h4.3v4.3h-4.3zM340.4 87.7h4.3v4.3h-4.3zM421.2 87.7h4.3v4.3h-4.3zM421.2 91.7h4.3v4.3h-4.3zM457.6 95.7h4.3v4.3h-4.3zM473.8 99.7h4.3v4.3h-4.3zM312.1 103.7h4.3v4.3h-4.3zM485.9 103.7h4.3v4.3h-4.3zM477.8 111.6h4.3v4.3h-4.3zM477.8 115.6h4.3v4.3h-4.3zM384.8 119.6h4.3v4.3h-4.3zM429.3 127.6h4.3v4.3h-4.3zM489.9 127.6h4.3v4.3h-4.3zM320.2 135.5h4.3v4.3h-4.3z"/>
<path fill="#9a9a9a" d="M397.0 10.0h4.3v10.3h-4.3zM461.6 10.0h4.3v10.3h-4.3zM477.8 10.0h4.3v10.3h-4.3zM328.2 20.0h4.3v4.3h-4.3zM332.3 20.0h4.3v4.3h-4.3zM397.0 20.0h4.3v4.3h-4.3zM324.2 24.0h4.3v4.3h-4.3zM384.8 24.0h4.3v4.3h-4.3zM392.9 24.0h4.3v4.3h-4.3zM465.7 24.0h4.3v4.3h-4.3zM324.2 28.0h4.3v4.3h-4.3zM465.7 28.0h4.3v4.3h-4.3zM308.0 31.9h4.3v4.3h-4.3zM401.0 31.9h4.3v4.3h-4.3zM477.8 31.9h4.3v4.3h-4.3zM336.3 35.9h4.3v4.3h-4.3zM461.6 35.9h4.3v4.3h-4.3zM473.8 35.9h4.3v4.3h-4.3zM316.1 39.9h4.3v4.3h-4.3zM368.7 43.9h4.3v4.3h-4.3zM409.1 55.8h4.3v4.3h-4.3zM465.7 55.8h4.3v4.3h-4.3zM477.8 55.8h4.3v4.3h-4.3zM364.6 63.8h4.3v4.3h-4.3zM413.1 63.8h4.3v4.3h-4.3zM364.6 71.8h4.3v4.3h-4.3zM376.8 71.8h4.3v4.3h-4.3zM392.9 71.8h4.3v4.3h-4.3zM392.9 79.8h4.3v4.3h-4.3zM320.2 91.7h4.3v4.3h-4.3zM352.5 95.7h4.3v4.3h-4.3zM356.5 107.6h4.3v4.3h-4.3zM481.8 123.6h4.3v4.3h-4.3zM485.9 123.6h4.3v4.3h-4.3zM421.2 127.6h4.3v4.3h-4.3zM485.9 127.6h4.3v4.3h-4.3zM356.5 131.5h4.3v4.3h-4.3zM421.2 139.5h4.3v10.3h-4.3zM425.2 139.5h4.3v10.3h-4.3z"/>
<path fill="#9e9e9e" d="M417.2 10.0h4.3v10.3h-4.3zM457.6 10.0h4.3v10.3h-4.3zM336.3 20.0h4.3v4.3h-4.3zM465.7 20.0h4.3v4.3h-4.3zM340.4 24.0h4.3v4.3h-4.3zM360.6 28.0h4.3v4.3h-4.3zM429.3 28.0h4.3v4.3h-4.3zM312.1 31.9h4.3v4.3h-4.3zM316.1 31.9h4.3v4.3h-4.3zM368.7 31.9h4.3v4.3h-4.3zM380.8 31.9h4.3v4.3h-4.3zM298.0 35.9h10.3v4.3h-10.3zM328.2 35.9h4.3v4.3h-4.3zM376.8 35.9h4.3v4.3h-4.3zM380.8 35.9h4.3v4.3h-4.3zM384.8 35.9h4.3v4.3h-4.3zM388.9 35.9h4.3v4.3h-4.3zM392.9 35.9h4.3v4.3h-4.3zM312.1 39.9h4.3v4.3h-4.3zM494.0 43.9h10.3v4.3h-10.3zM469.7 55.8h4.3v4.3h-4.3zM413.1 59.8h4.3v4.3h-4.3zM425.2 59.8h4.3v4.3h-4.3zM469.7 59.8h4.3v4.3h-4.3zM324.2 63.8h4.3v4.3h-4.3zM336.3 63.8h4.3v4.3h-4.3zM320.2 67.8h4.3v4.3h-4.3zM344.4 67.8h4.3v4.3h-4.3zM364.6 67.8h4.3v4.3h-4.3zM481.8 67.8h4.3v4.3h-4.3zM348.5 71.8h4.3v4.3h-4.3zM425.2 71.8h4.3v4.3h-4.3zM320.2 79.8h4.3v4.3h-4.3zM469.7 79.8h4.3v4.3h-4.3zM392.9 83.7h4.3v4.3h-4.3zM397.0 83.7h4.3v4.3h-4.3zM421.2 83.7h4.3v4.3h-4.3zM392.9 87.7h4.3v4.3h-4.3zM397.0 87.7h4.3v4.3h-4.3zM433.3 87.7h4.3v4.3h-4.3zM348.5 91.7h4.3v4.3h-4.3zM433.3 103.7h4.3v4.3h-4.3zM453.5 107.6h4.3v4.3h-4.3zM485.9 119.6h4.3v4.3h-4.3zM312.1 123.6h4.3v4.3h-4.3zM425.2 123.6h4.3v4.3h-4.3zM421.2 131.5h4.3v4.3h-4.3zM421.2 135.5h4.3v4.3h-4.3zM425.2 135.5h4.3v4.3h-4.3zM352.5 139.5h4.3v10.3h-4.3z"/>
<path fill="#a2a2a2" d="M372.7 10.0h4.3v10.3h-4.3zM376.8 10.0h4.3v10.3h-4.3zM449.5 10.0h4.3v10.3h-4.3zM465.7 10.0h4.3v10.3h-4.3zM477.8 20.0h4.3v4.3h-4.3zM485.9 24.0h4.3v4.3h-4.3zM340.4 28.0h4.3v4.3h-4.3zM494.0 28.0h10.3v4.3h-10.3zM465.7 31.9h4.3v4.3h-4.3zM308.0 35.9h4.3v4.3h-4.3zM316.1 35.9h4.3v4.3h-4.3zM332.3 35.9h4.3v4.3h-4.3zM372.7 35.9h4.3v4.3h-4.3zM397.0 35.9h4.3v4.3h-4.3zM465.7 35.9h4.3v4.3h-4.3zM469.7 35.9h4.3v4.3h-4.3zM437.4 43.9h4.3v4.3h-4.3zM481.8 51.9h4.3v4.3h-4.3zM397.0 55.8h4.3v4.3h-4.3zM433.3 55.8h4.3v4.3h-4.3zM465.7 59.8h4.3v4.3h-4.3zM328.2 63.8h4.3v4.3h-4.3zM332.3 63.8h4.3v4.3h-4.3zM392.9 67.8h4.3v4.3h-4.3zM384.8 71.8h4.3v4.3h-4.3zM388.9 71.8h4.3v4.3h-4.3zM481.8 71.8h4.3v4.3h-4.3zM481.8 79.8h4.3v4.3h-4.3zM324.2 83.7h4.3v4.3h-4.3zM336.3 83.7h4.3v4.3h-4.3zM489.9 83.7h4.3v4.3h-4.3zM324.2 87.7h4.3v4.3h-4.3zM336.3 87.7h4.3v4.3h-4.3zM494.0 87.7h10.3v4.3h-10.3zM461.6 91.7h4.3v4.3h-4.3zM316.1 99.7h4.3v4.3h-4.3zM356.5 111.6h4.3v4.3h-4.3zM453.5 111.6h4.3v4.3h-4.3zM481.8 119.6h4.3v4.3h-4.3z"/>
<path fill="#a6a6a6" d="M360.6 10.0h4.3v10.3h-4.3zM368.7 10.0h4.3v10.3h-4.3zM380.8 10.0h4.3v10.3h-4.3zM409.1 10.0h4.3v10.3h-4.3zM469.7 10.0h4.3v10.3h-4.3zM473.8 10.0h4.3v10.3h-4.3zM360.6 20.0h4.3v4.3h-4.3zM376.8 20.0h4.3v4.3h-4.3zM380.8 20.0h4.3v4.3h-4.3zM392.9 20.0h4.3v4.3h-4.3zM469.7 20.0h4.3v4.3h-4.3zM473.8 20.0h4.3v4.3h-4.3zM328.2 24.0h4.3v4.3h-4.3zM380.8 28.0h4.3v4.3h-4.3zM489.9 28.0h4.3v4.3h-4.3zM336.3 31.9h4.3v4.3h-4.3zM376.8 31.9h4.3v4.3h-4.3zM417.2 31.9h4.3v4.3h-4.3zM469.7 31.9h4.3v4.3h-4.3zM473.8 31.9h4.3v4.3h-4.3zM437.4 35.9h4.3v4.3h-4.3zM312.1 47.9h4.3v4.3h-4.3zM316.1 47.9h4.3v4.3h-4.3zM368.7 47.9h4.3v4.3h-4.3zM405.0 51.9h4.3v4.3h-4.3zM417.2 59.8h4.3v4.3h-4.3zM421.2 59.8h4.3v4.3h-4.3zM481.8 59.8h4.3v4.3h-4.3zM392.9 63.8h4.3v4.3h-4.3zM481.8 63.8h4.3v4.3h-4.3zM320.2 71.8h4.3v4.3h-4.3zM368.7 71.8h4.3v4.3h-4.3zM372.7 71.8h4.3v4.3h-4.3zM320.2 75.8h4.3v4.3h-4.3zM421.2 75.8h4.3v4.3h-4.3zM344.4 79.8h4.3v4.3h-4.3zM465.7 83.7h4.3v4.3h-4.3zM473.8 83.7h4.3v4.3h-4.3zM352.5 99.7h4.3v4.3h-4.3zM312.1 107.6h4.3v4.3h-4.3zM425.2 127.6h4.3v4.3h-4.3zM425.2 131.5h4.3v4.3h-4.3zM352.5 135.5h4.3v4.3h-4.3z"/>
<path fill="#aaaaaa" d="M364.6 10.0h4.3v10.3h-4.3zM392.9 10.0h4.3v10.3h-4.3zM413.1 10.0h4.3v10.3h-4.3zM453.5 10.0h4.3v10.3h-4.3zM368.7 20.0h4.3v4.3h-4.3zM372.7 20.0h4.3v4.3h-4.3zM384.8 20.0h4.3v4.3h-4.3zM388.9 20.0h4.3v4.3h-4.3zM332.3 24.0h4.3v4.3h-4.3zM336.3 24.0h4.3v4.3h-4.3zM380.8 24.0h4.3v4.3h-4.3zM469.7 24.0h4.3v4.3h-4.3zM328.2 28.0h4.3v4.3h-4.3zM469.7 28.0h4.3v4.3h-4.3zM485.9 28.0h4.3v4.3h-4.3zM328.2 31.9h4.3v4.3h-4.3zM372.7 31.9h4.3v4.3h-4.3zM433.3 31.9h4.3v4.3h-4.3zM312.1 35.9h4.3v4.3h-4.3zM437.4 39.9h4.3v4.3h-4.3zM494.0 47.9h10.3v4.3h-10.3zM401.0 51.9h4.3v4.3h-4.3zM485.9 51.9h4.3v4.3h-4.3zM413.1 55.8h4.3v4.3h-4.3zM324.2 67.8h4.3v4.3h-4.3zM340.4 67.8h4.3v4.3h-4.3zM481.8 75.8h4.3v4.3h-4.3zM421.2 79.8h4.3v4.3h-4.3zM485.9 79.8h4.3v4.3h-4.3zM494.0 83.7h10.3v4.3h-10.3zM437.4 91.7h4.3v4.3h-4.3zM473.8 95.7h4.3v4.3h-4.3zM429.3 99.7h4.3v4.3h-4.3zM481.8 107.6h4.3v4.3h-4.3zM485.9 107.6h4.3v4.3h-4.3zM457.6 111.6h4.3v4.3h-4.3zM356.5 115.6h4.3v4.3h-4.3zM312.1 119.6h4.3v4.3h-4.3zM356.5 127.6h4.3v4.3h-4.3zM324.2 139.5h4.3v10.3h-4.3zM348.5 139.5h4.3v10.3h-4.3z"/>
<path fill="#aeaeae" d="M364.6 20.0h4.3v4.3h-4.3zM360.6 24.0h4.3v4.3h-4.3zM473.8 24.0h4.3v4.3h-4.3zM477.8 24.0h4.3v4.3h-4.3zM481.8 24.0h4.3v4.3h-4.3zM336.3 28.0h4.3v4.3h-4.3zM473.8 28.0h4.3v4.3h-4.3zM477.8 28.0h4.3v4.3h-4.3zM481.8 28.0h4.3v4.3h-4.3zM332.3 31.9h4.3v4.3h-4.3zM401.0 35.9h4.3v4.3h-4.3zM372.7 39.9h4.3v4.3h-4.3zM409.1 51.9h4.3v4.3h-4.3zM489.9 51.9h4.3v4.3h-4.3zM481.8 55.8h4.3v4.3h-4.3zM368.7 59.8h4.3v4.3h-4.3zM392.9 59.8h4.3v4.3h-4.3zM328.2 67.8h4.3v4.3h-4.3zM388.9 67.8h4.3v4.3h-4.3zM344.4 71.8h4.3v4.3h-4.3zM429.3 75.8h4.3v4.3h-4.3zM489.9 79.8h4.3v4.3h-4.3zM494.0 79.8h10.3v4.3h-10.3zM320.2 95.7h4.3v4.3h-4.3zM425.2 95.7h4.3v4.3h-4.3zM437.4 99.7h4.3v4.3h-4.3zM312.1 111.6h4.3v4.3h-4.3zM485.9 115.6h4.3v4.3h-4.3zM352.5 131.5h4.3v4.3h-4.3zM348.5 135.5h4.3v4.3h-4.3zM328.2 139.5h4.3v10.3h-4.3z"/>
<path fill="#b2b2b2" d="M384.8 10.0h4.3v10.3h-4.3zM388.9 10.0h4.3v10.3h-4.3zM376.8 24.0h4.3v4.3h-4.3zM332.3 28.0h4.3v4.3h-4.3zM364.6 28.0h4.3v4.3h-4.3zM421.2 31.9h4.3v4.3h-4.3zM401.0 39.9h4.3v4.3h-4.3zM401.0 43.9h4.3v4.3h-4.3zM401.0 47.9h4.3v4.3h-4.3zM405.0 47.9h4.3v4.3h-4.3zM312.1 51.9h4.3v4.3h-4.3zM368.7 51.9h4.3v4.3h-4.3zM397.0 51.9h4.3v4.3h-4.3zM494.0 51.9h10.3v4.3h-10.3zM368.7 55.8h4.3v4.3h-4.3zM388.9 63.8h4.3v4.3h-4.3zM332.3 67.8h4.3v4.3h-4.3zM336.3 67.8h4.3v4.3h-4.3zM344.4 75.8h4.3v4.3h-4.3zM494.0 75.8h10.3v4.3h-10.3zM340.4 79.8h4.3v4.3h-4.3zM328.2 83.7h4.3v4.3h-4.3zM332.3 83.7h4.3v4.3h-4.3zM469.7 83.7h4.3v4.3h-4.3zM328.2 87.7h4.3v4.3h-4.3zM332.3 87.7h4.3v4.3h-4.3zM473.8 87.7h4.3v4.3h-4.3zM344.4 91.7h4.3v4.3h-4.3zM473.8 91.7h4.3v4.3h-4.3zM352.5 103.7h4.3v4.3h-4.3zM312.1 115.6h4.3v4.3h-4.3zM481.8 115.6h4.3v4.3h-4.3zM356.5 119.6h4.3v4.3h-4.3zM356.5 123.6h4.3v4.3h-4.3zM320.2 131.5h4.3v4.3h-4.3zM324.2 135.5h4.3v4.3h-4.3zM328.2 135.5h4.3v4.3h-4.3zM332.3 139.5h4.3v10.3h-4.3zM344.4 139.5h4.3v10.3h-4.3z"/>
<path fill="#b6b6b6" d="M376.8 28.0h4.3v4.3h-4.3zM376.8 39.9h4.3v4.3h-4.3zM392.9 39.9h4.3v4.3h-4.3zM397.0 39.9h4.3v4.3h-4.3zM405.0 43.9h4.3v4.3h-4.3zM316.1 51.9h4.3v4.3h-4.3zM413.1 51.9h4.3v4.3h-4.3zM433.3 51.9h4.3v4.3h-4.3zM392.9 55.8h4.3v4.3h-4.3zM417.2 55.8h4.3v4.3h-4.3zM429.3 55.8h4.3v4.3h-4.3zM489.9 55.8h4.3v4.3h-4.3zM494.0 55.8h10.3v4.3h-10.3zM388.9 59.8h4.3v4.3h-4.3zM485.9 59.8h4.3v4.3h-4.3zM489.9 59.8h4.3v4.3h-4.3zM368.7 63.8h4.3v4.3h-4.3zM485.9 63.8h4.3v4.3h-4.3zM324.2 71.8h4.3v4.3h-4.3zM489.9 71.8h4.3v4.3h-4.3zM494.0 71.8h10.3v4.3h-10.3zM425.2 75.8h4.3v4.3h-4.3zM489.9 75.8h4.3v4.3h-4.3zM324.2 79.8h4.3v4.3h-4.3zM340.4 91.7h4.3v4.3h-4.3zM469.7 103.7h4.3v4.3h-4.3zM352.5 107.6h4.3v4.3h-4.3zM485.9 111.6h4.3v4.3h-4.3zM348.5 131.5h4.3v4.3h-4.3zM332.3 135.5h4.3v4.3h-4.3zM344.4 135.5h4.3v4.3h-4.3zM336.3 139.5h4.3v10.3h-4.3zM340.4 139.5h4.3v10.3h-4.3z"/>
<path fill="#bababa" d="M368.7 24.0h4.3v4.3h-4.3zM372.7 24.0h4.3v4.3h-4.3zM368.7 28.0h4.3v4.3h-4.3zM405.0 35.9h4.3v4.3h-4.3zM380.8 39.9h4.3v4.3h-4.3zM384.8 39.9h4.3v4.3h-4.3zM388.9 39.9h4.3v4.3h-4.3zM421.2 55.8h4.3v4.3h-4.3zM485.9 55.8h4.3v4.3h-4.3zM494.0 59.8h10.3v4.3h-10.3zM489.9 63.8h4.3v4.3h-4.3zM494.0 63.8h10.3v4.3h-10.3zM368.7 67.8h4.3v4.3h-4.3zM384.8 67.8h4.3v4.3h-4.3zM485.9 67.8h4.3v4.3h-4.3zM489.9 67.8h4.3v4.3h-4.3zM494.0 67.8h10.3v4.3h-10.3zM328.2 71.8h4.3v4.3h-4.3zM340.4 71.8h4.3v4.3h-4.3zM485.9 71.8h4.3v4.3h-4.3zM324.2 75.8h4.3v4.3h-4.3zM485.9 75.8h4.3v4.3h-4.3zM336.3 79.8h4.3v4.3h-4.3zM429.3 79.8h4.3v4.3h-4.3zM465.7 87.7h4.3v4.3h-4.3zM324.2 91.7h4.3v4.3h-4.3zM348.5 95.7h4.3v4.3h-4.3zM352.5 111.6h4.3v4.3h-4.3zM481.8 111.6h4.3v4.3h-4.3zM316.1 127.6h4.3v4.3h-4.3zM352.5 127.6h4.3v4.3h-4.3zM336.3 135.5h4.3v4.3h-4.3zM340.4 135.5h4.3v4.3h-4.3z"/>
<path fill="#bebebe" d="M364.6 24.0h4.3v4.3h-4.3zM372.7 28.0h4.3v4.3h-4.3zM429.3 31.9h4.3v4.3h-4.3zM433.3 35.9h4.3v4.3h-4.3zM405.0 39.9h4.3v4.3h-4.3zM372.7 43.9h4.3v4.3h-4.3zM397.0 47.9h4.3v4.3h-4.3zM409.1 47.9h4.3v4.3h-4.3zM392.9 51.9h4.3v4.3h-4.3zM388.9 55.8h4.3v4.3h-4.3zM425.2 55.8h4.3v4.3h-4.3zM372.7 59.8h4.3v4.3h-4.3zM384.8 59.8h4.3v4.3h-4.3zM384.8 63.8h4.3v4.3h-4.3zM380.8 67.8h4.3v4.3h-4.3zM332.3 71.8h4.3v4.3h-4.3zM336.3 71.8h4.3v4.3h-4.3zM340.4 75.8h4.3v4.3h-4.3zM336.3 91.7h4.3v4.3h-4.3zM425.2 91.7h4.3v4.3h-4.3zM437.4 95.7h4.3v4.3h-4.3zM461.6 95.7h4.3v4.3h-4.3zM433.3 99.7h4.3v4.3h-4.3zM457.6 99.7h4.3v4.3h-4.3zM348.5 127.6h4.3v4.3h-4.3zM324.2 131.5h4.3v4.3h-4.3zM328.2 131.5h4.3v4.3h-4.3zM332.3 131.5h4.3v4.3h-4.3zM344.4 131.5h4.3v4.3h-4.3z"/>
<path fill="#c2c2c2" d="M425.2 31.9h4.3v4.3h-4.3zM397.0 43.9h4.3v4.3h-4.3zM417.2 51.9h4.3v4.3h-4.3zM372.7 63.8h4.3v4.3h-4.3zM328.2 75.8h4.3v4.3h-4.3zM328.2 79.8h4.3v4.3h-4.3zM332.3 79.8h4.3v4.3h-4.3zM425.2 79.8h4.3v4.3h-4.3zM429.3 83.7h4.3v4.3h-4.3zM425.2 87.7h4.3v4.3h-4.3zM433.3 91.7h4.3v4.3h-4.3zM320.2 99.7h4.3v4.3h-4.3zM348.5 99.7h4.3v4.3h-4.3zM316.1 103.7h4.3v4.3h-4.3zM461.6 107.6h4.3v4.3h-4.3zM348.5 111.6h4.3v4.3h-4.3zM352.5 115.6h4.3v4.3h-4.3zM352.5 123.6h4.3v4.3h-4.3zM344.4 127.6h4.3v4.3h-4.3zM336.3 131.5h4.3v4.3h-4.3zM340.4 131.5h4.3v4.3h-4.3z"/>
<path fill="#c6c6c6" d="M372.7 47.9h4.3v4.3h-4.3zM392.9 47.9h4.3v4.3h-4.3zM433.3 47.9h4.3v4.3h-4.3zM372.7 51.9h4.3v4.3h-4.3zM388.9 51.9h4.3v4.3h-4.3zM372.7 55.8h4.3v4.3h-4.3zM384.8 55.8h4.3v4.3h-4.3zM376.8 59.8h4.3v4.3h-4.3zM380.8 59.8h4.3v4.3h-4.3zM376.8 63.8h4.3v4.3h-4.3zM380.8 63.8h4.3v4.3h-4.3zM372.7 67.8h4.3v4.3h-4.3zM376.8 67.8h4.3v4.3h-4.3zM332.3 75.8h4.3v4.3h-4.3zM336.3 75.8h4.3v4.3h-4.3zM425.2 83.7h4.3v4.3h-4.3zM429.3 87.7h4.3v4.3h-4.3zM469.7 87.7h4.3v4.3h-4.3zM328.2 91.7h4.3v4.3h-4.3zM332.3 91.7h4.3v4.3h-4.3zM429.3 95.7h4.3v4.3h-4.3zM348.5 103.7h4.3v4.3h-4.3zM348.5 107.6h4.3v4.3h-4.3zM348.5 115.6h4.3v4.3h-4.3zM348.5 119.6h4.3v4.3h-4.3zM352.5 119.6h4.3v4.3h-4.3zM316.1 123.6h4.3v4.3h-4.3zM344.4 123.6h4.3v4.3h-4.3zM348.5 123.6h4.3v4.3h-4.3zM320.2 127.6h4.3v4.3h-4.3zM340.4 127.6h4.3v4.3h-4.3z"/>
<path fill="#cacaca" d="M376.8 43.9h4.3v4.3h-4.3zM392.9 43.9h4.3v4.3h-4.3zM409.1 43.9h4.3v4.3h-4.3zM413.1 47.9h4.3v4.3h-4.3zM384.8 51.9h4.3v4.3h-4.3zM376.8 55.8h4.3v4.3h-4.3zM380.8 55.8h4.3v4.3h-4.3zM344.4 95.7h4.3v4.3h-4.3zM457.6 107.6h4.3v4.3h-4.3zM344.4 111.6h4.3v4.3h-4.3zM344.4 115.6h4.3v4.3h-4.3zM316.1 119.6h4.3v4.3h-4.3zM344.4 119.6h4.3v4.3h-4.3zM320.2 123.6h4.3v4.3h-4.3zM340.4 123.6h4.3v4.3h-4.3zM324.2 127.6h4.3v4.3h-4.3zM328.2 127.6h4.3v4.3h-4.3zM332.3 127.6h4.3v4.3h-4.3zM336.3 127.6h4.3v4.3h-4.3z"/>
<path fill="#cecece" d="M409.1 35.9h4.3v4.3h-4.3zM433.3 39.9h4.3v4.3h-4.3zM384.8 43.9h4.3v4.3h-4.3zM388.9 43.9h4.3v4.3h-4.3zM376.8 47.9h4.3v4.3h-4.3zM388.9 47.9h4.3v4.3h-4.3zM376.8 51.9h4.3v4.3h-4.3zM380.8 51.9h4.3v4.3h-4.3zM421.2 51.9h4.3v4.3h-4.3zM429.3 91.7h4.3v4.3h-4.3zM324.2 95.7h4.3v4.3h-4.3zM340.4 95.7h4.3v4.3h-4.3zM316.1 107.6h4.3v4.3h-4.3zM344.4 107.6h4.3v4.3h-4.3zM336.3 111.6h4.3v4.3h-4.3zM340.4 111.6h4.3v4.3h-4.3zM316.1 115.6h4.3v4.3h-4.3zM336.3 115.6h4.3v4.3h-4.3zM340.4 115.6h4.3v4.3h-4.3zM320.2 119.6h4.3v4.3h-4.3zM340.4 119.6h4.3v4.3h-4.3zM324.2 123.6h4.3v4.3h-4.3zM336.3 123.6h4.3v4.3h-4.3z"/>
<path fill="#d2d2d2" d="M409.1 39.9h4.3v4.3h-4.3zM380.8 43.9h4.3v4.3h-4.3zM433.3 43.9h4.3v4.3h-4.3zM380.8 47.9h4.3v4.3h-4.3zM384.8 47.9h4.3v4.3h-4.3zM429.3 51.9h4.3v4.3h-4.3zM336.3 95.7h4.3v4.3h-4.3zM433.3 95.7h4.3v4.3h-4.3zM344.4 99.7h4.3v4.3h-4.3zM469.7 99.7h4.3v4.3h-4.3zM320.2 103.7h4.3v4.3h-4.3zM344.4 103.7h4.3v4.3h-4.3zM336.3 107.6h4.3v4.3h-4.3zM340.4 107.6h4.3v4.3h-4.3zM316.1 111.6h4.3v4.3h-4.3zM332.3 111.6h4.3v4.3h-4.3zM320.2 115.6h4.3v4.3h-4.3zM324.2 115.6h4.3v4.3h-4.3zM324.2 119.6h4.3v4.3h-4.3zM336.3 119.6h4.3v4.3h-4.3zM328.2 123.6h4.3v4.3h-4.3zM332.3 123.6h4.3v4.3h-4.3z"/>
<path fill="#d7d7d7" d="M429.3 35.9h4.3v4.3h-4.3zM417.2 47.9h4.3v4.3h-4.3zM425.2 51.9h4.3v4.3h-4.3zM465.7 91.7h4.3v4.3h-4.3zM328.2 95.7h4.3v4.3h-4.3zM332.3 95.7h4.3v4.3h-4.3zM324.2 99.7h4.3v4.3h-4.3zM328.2 99.7h4.3v4.3h-4.3zM332.3 99.7h4.3v4.3h-4.3zM336.3 99.7h4.3v4.3h-4.3zM340.4 99.7h4.3v4.3h-4.3zM324.2 103.7h4.3v4.3h-4.3zM328.2 103.7h4.3v4.3h-4.3zM332.3 103.7h4.3v4.3h-4.3zM336.3 103.7h4.3v4.3h-4.3zM340.4 103.7h4.3v4.3h-4.3zM457.6 103.7h4.3v4.3h-4.3zM320.2 107.6h4.3v4.3h-4.3zM324.2 107.6h4.3v4.3h-4.3zM328.2 107.6h4.3v4.3h-4.3zM332.3 107.6h4.3v4.3h-4.3zM320.2 111.6h4.3v4.3h-4.3zM324.2 111.6h4.3v4.3h-4.3zM328.2 111.6h4.3v4.3h-4.3zM328.2 115.6h4.3v4.3h-4.3zM332.3 115.6h4.3v4.3h-4.3zM328.2 119.6h4.3v4.3h-4.3zM332.3 119.6h4.3v4.3h-4.3z"/>
<path fill="#dbdbdb" d="M413.1 35.9h4.3v4.3h-4.3zM413.1 43.9h4.3v4.3h-4.3zM429.3 47.9h4.3v4.3h-4.3zM469.7 91.7h4.3v4.3h-4.3zM465.7 103.7h4.3v4.3h-4.3z"/>
<path fill="#dfdfdf" d="M417.2 35.9h4.3v4.3h-4.3zM429.3 39.9h4.3v4.3h-4.3zM429.3 43.9h4.3v4.3h-4.3zM421.2 47.9h4.3v4.3h-4.3zM469.7 95.7h4.3v4.3h-4.3z"/>
<path fill="#e3e3e3" d="M421.2 35.9h4.3v4.3h-4.3zM425.2 35.9h4.3v4.3h-4.3zM413.1 39.9h4.3v4.3h-4.3zM417.2 43.9h4.3v4.3h-4.3zM425.2 47.9h4.3v4.3h-4.3zM461.6 99.7h4.3v4.3h-4.3z"/>
<path fill="#e7e7e7" d="M417.2 39.9h4.3v4.3h-4.3zM421.2 43.9h4.3v4.3h-4.3zM425.2 43.9h4.3v4.3h-4.3zM465.7 95.7h4.3v4.3h-4.3z"/>
<path fill="#ebebeb" d="M421.2 39.9h4.3v4.3h-4.3zM425.2 39.9h4.3v4.3h-4.3z"/>
<path fill="#efefef" d="M465.7 99.7h4.3v4.3h-4.3zM461.6 103.7h4.3v4.3h-4.3z"/>
</g></g>
<rect x="304" y="143.3" width="194" height="8.7" fill="#1c1c1c"/>
<g fill="#b8c8d4"><circle cx="311.20" cy="147.65" r="0.75"/><circle cx="310.10" cy="149.56" r="0.75"/><circle cx="307.90" cy="149.56" r="0.75"/><circle cx="306.80" cy="147.65" r="0.75"/><circle cx="307.90" cy="145.74" r="0.75"/><circle cx="310.10" cy="145.74" r="0.75"/><circle cx="309" cy="147.65" r="0.75"/></g>
<text x="318.0" y="146.9" style="font-family:'Liberation Sans',sans-serif;font-size:3.3px;font-weight:normal;fill:#9a9a9a">7/15/2022</text>
<text x="318.0" y="150.9" style="font-family:'Liberation Sans',sans-serif;font-size:3.3px;font-weight:normal;fill:#9a9a9a">10:17:04 AM</text>
<rect x="337.2" y="144.3" width="18" height="6.699999999999999" fill="#f4f4f4"/>
<circle cx="340.4" cy="147.65" r="1.5" fill="#5b7fc0"/>
<text x="342.6" y="149.55" style="font-family:'Liberation Serif',serif;font-size:5.4px;font-weight:bold;fill:#2b4a9a">SRM</text>
<text x="356.2" y="146.7" style="font-family:'Liberation Sans',sans-serif;font-size:3.0px;font-weight:normal;fill:#8a8a8a">mag &#8862;</text>
<text x="356.2" y="150.8" style="font-family:'Liberation Sans',sans-serif;font-size:3.2px;font-weight:bold;fill:#e6e6e6">35 000 x</text>
<text x="373.2" y="146.7" style="font-family:'Liberation Sans',sans-serif;font-size:3.0px;font-weight:normal;fill:#8a8a8a">use case</text>
<text x="373.2" y="150.8" style="font-family:'Liberation Sans',sans-serif;font-size:3.2px;font-weight:bold;fill:#e6e6e6">Standard</text>
<text x="391.0" y="146.7" style="font-family:'Liberation Sans',sans-serif;font-size:3.0px;font-weight:normal;fill:#8a8a8a">HV</text>
<text x="391.0" y="150.8" style="font-family:'Liberation Sans',sans-serif;font-size:3.2px;font-weight:bold;fill:#e6e6e6">10.00 kV</text>
<text x="407.6" y="146.7" style="font-family:'Liberation Sans',sans-serif;font-size:3.0px;font-weight:normal;fill:#8a8a8a">spot</text>
<text x="407.6" y="150.8" style="font-family:'Liberation Sans',sans-serif;font-size:3.2px;font-weight:bold;fill:#e6e6e6">6.0</text>
<text x="418.1" y="146.7" style="font-family:'Liberation Sans',sans-serif;font-size:3.0px;font-weight:normal;fill:#8a8a8a">WD</text>
<text x="418.1" y="150.8" style="font-family:'Liberation Sans',sans-serif;font-size:3.2px;font-weight:bold;fill:#e6e6e6">4.9 mm</text>
<text x="432.0" y="146.7" style="font-family:'Liberation Sans',sans-serif;font-size:3.0px;font-weight:normal;fill:#8a8a8a">det</text>
<text x="432.0" y="150.8" style="font-family:'Liberation Sans',sans-serif;font-size:3.2px;font-weight:bold;fill:#e6e6e6">LVD</text>
<text x="443.0" y="146.7" style="font-family:'Liberation Sans',sans-serif;font-size:3.0px;font-weight:normal;fill:#8a8a8a">dwell</text>
<text x="443.0" y="150.8" style="font-family:'Liberation Sans',sans-serif;font-size:3.2px;font-weight:bold;fill:#e6e6e6">1.00 &#181;s</text>
<path d="M462 145.9h32M462 144.9v2M494 144.9v2" stroke="#cfcfcf" stroke-width="0.5"/>
<text x="475.0" y="146.7" style="font-family:'Liberation Sans',sans-serif;font-size:3.0px;font-weight:normal;fill:#dcdcdc">2 &#181;m</text>
<text x="465.0" y="150.8" style="font-family:'Liberation Sans',sans-serif;font-size:3.0px;font-weight:normal;fill:#9a9a9a">SRMIST Apreo S</text>
<line x1="353.2" y1="41.5" x2="324.2" y2="43.7" stroke="#f2b705" stroke-width="1.1"/><polygon points="321.0,43.9 324.1,42.1 324.3,45.3" fill="#f2b705"/>
<line x1="353.2" y1="41.5" x2="349.4" y2="37.0" stroke="#f2b705" stroke-width="1.1"/><polygon points="347.3,34.6 350.6,36.0 348.2,38.1" fill="#f2b705"/>
<line x1="353.2" y1="41.5" x2="357.0" y2="28.1" stroke="#f2b705" stroke-width="1.1"/><polygon points="357.9,25.0 358.6,28.5 355.5,27.6" fill="#f2b705"/>
<text x="350.1" y="50.0" style="font-family:'Liberation Serif',serif;font-weight:bold;font-size:6.8px;fill:#f5f01e">CSH</text>
<line x1="462.3" y1="42.9" x2="433.3" y2="32.1" stroke="#f2b705" stroke-width="1.1"/><polygon points="430.3,31.0 433.9,30.6 432.7,33.6" fill="#f2b705"/>
<line x1="462.3" y1="42.9" x2="440.6" y2="41.2" stroke="#f2b705" stroke-width="1.1"/><polygon points="437.4,40.9 440.7,39.6 440.5,42.8" fill="#f2b705"/>
<line x1="462.3" y1="42.9" x2="463.8" y2="72.3" stroke="#f2b705" stroke-width="1.1"/><polygon points="464.0,75.5 462.2,72.4 465.4,72.2" fill="#f2b705"/>
<text x="465.6" y="46.9" style="font-family:'Liberation Serif',serif;font-weight:bold;font-size:6.8px;fill:#f5f01e">CSH</text>
<line x1="431.4" y1="70.0" x2="402.4" y2="60.0" stroke="#f2b705" stroke-width="1.1"/><polygon points="399.4,59.0 402.9,58.5 401.9,61.6" fill="#f2b705"/>
<line x1="431.4" y1="70.0" x2="410.4" y2="69.0" stroke="#f2b705" stroke-width="1.1"/><polygon points="407.2,68.9 410.5,67.4 410.3,70.6" fill="#f2b705"/>
<line x1="431.4" y1="70.0" x2="410.0" y2="96.6" stroke="#f2b705" stroke-width="1.1"/><polygon points="408.0,99.1 408.8,95.6 411.3,97.6" fill="#f2b705"/>
<text x="438.0" y="72.2" style="font-family:'Liberation Serif',serif;font-weight:bold;font-size:6.8px;fill:#f5f01e">CSH</text>
<line x1="322.0" y1="78.5" x2="313.7" y2="68.3" stroke="#f2b705" stroke-width="1.1"/><polygon points="311.7,65.8 315.0,67.3 312.5,69.3" fill="#f2b705"/>
<text x="325.0" y="85.4" style="font-family:'Liberation Serif',serif;font-weight:bold;font-size:6.8px;fill:#f5f01e">CSH</text>
<line x1="331.6" y1="132.8" x2="321.2" y2="121.9" stroke="#f2b705" stroke-width="1.1"/><polygon points="319.0,119.6 322.4,120.8 320.1,123.0" fill="#f2b705"/>
<line x1="331.6" y1="132.8" x2="341.3" y2="111.5" stroke="#f2b705" stroke-width="1.1"/><polygon points="342.6,108.6 342.7,112.2 339.8,110.9" fill="#f2b705"/>
<text x="334.4" y="138.8" style="font-family:'Liberation Serif',serif;font-weight:bold;font-size:6.8px;fill:#f5f01e">CSH</text>
<line x1="420.8" y1="131.0" x2="415.4" y2="123.1" stroke="#f2b705" stroke-width="1.1"/><polygon points="413.6,120.5 416.7,122.2 414.1,124.0" fill="#f2b705"/>
<text x="421.8" y="134.8" style="font-family:'Liberation Serif',serif;font-weight:bold;font-size:6.8px;fill:#f5f01e">Voids</text>
<line x1="481.5" y1="112.0" x2="488.9" y2="103.6" stroke="#f2b705" stroke-width="1.1"/><polygon points="491.0,101.2 490.1,104.7 487.7,102.5" fill="#f2b705"/>
<text x="476.8" y="120.5" style="font-family:'Liberation Serif',serif;font-weight:bold;font-size:6.8px;fill:#f5f01e">CSH</text>
<rect x="39.20" y="284.21" width="468.60" height="212.79" fill="none" stroke="#2a2a2a" stroke-width="1.3"/>
<path d="M39.20 497.00v4 M39.20 284.21v4 M86.06 497.00v2.2 M86.06 284.21v2.2 M132.92 497.00v4 M132.92 284.21v4 M179.78 497.00v2.2 M179.78 284.21v2.2 M226.64 497.00v4 M226.64 284.21v4 M273.50 497.00v2.2 M273.50 284.21v2.2 M320.36 497.00v4 M320.36 284.21v4 M367.22 497.00v2.2 M367.22 284.21v2.2 M414.08 497.00v4 M414.08 284.21v4 M460.94 497.00v2.2 M460.94 284.21v2.2 M507.80 497.00v4 M507.80 284.21v4 M39.20 497.00h-4 M507.80 497.00h-4 M39.20 461.53h-2.2 M507.80 461.53h-2.2 M39.20 426.07h-4 M507.80 426.07h-4 M39.20 390.61h-2.2 M507.80 390.61h-2.2 M39.20 355.14h-4 M507.80 355.14h-4 M39.20 319.67h-2.2 M507.80 319.67h-2.2 M39.20 284.21h-4 M507.80 284.21h-4" stroke="#2a2a2a" stroke-width="1.2" fill="none"/>
<text x="31.8" y="500.00" text-anchor="end" class="tk">0</text>
<text x="31.8" y="429.07" text-anchor="end" class="tk">100</text>
<text x="31.8" y="358.14" text-anchor="end" class="tk">200</text>
<text x="31.8" y="287.21" text-anchor="end" class="tk">300</text>
<text x="39.20" y="511.20" text-anchor="middle" class="tk">0</text>
<text x="132.92" y="511.20" text-anchor="middle" class="tk">20</text>
<text x="226.64" y="511.20" text-anchor="middle" class="tk">40</text>
<text x="320.36" y="511.20" text-anchor="middle" class="tk">60</text>
<text x="414.08" y="511.20" text-anchor="middle" class="tk">80</text>
<text x="507.80" y="511.20" text-anchor="middle" class="tk">100</text>
<path d="M86.06 452.91L86.20 459.64L86.34 461.89L86.48 466.72L86.62 460.95L86.76 463.29L86.90 462.29L87.04 457.22L87.18 465.57L87.33 463.68L87.47 468.20L87.61 464.78L87.75 469.62L87.89 464.52L88.03 463.89L88.17 460.55L88.31 465.52L88.45 463.90L88.59 470.53L88.73 464.49L88.87 467.94L89.01 461.38L89.15 460.27L89.29 463.34L89.43 458.89L89.57 455.04L89.70 455.01L89.72 456.48L89.86 455.87L90.00 460.61L90.14 461.69L90.28 460.09L90.42 458.64L90.56 468.51L90.70 458.11L90.84 470.75L90.98 466.65L91.12 465.17L91.26 462.46L91.40 460.89L91.54 463.57L91.68 454.27L91.82 467.92L91.96 468.58L92.10 463.29L92.25 463.96L92.39 464.77L92.53 459.85L92.67 463.36L92.81 465.79L92.95 451.14L93.09 466.47L93.23 467.03L93.37 465.18L93.51 464.60L93.65 456.69L93.79 458.53L93.93 462.47L94.07 460.05L94.21 471.50L94.35 464.35L94.49 465.85L94.64 472.60L94.78 465.26L94.92 461.17L95.06 472.27L95.20 463.70L95.34 468.92L95.48 463.31L95.62 465.99L95.76 457.81L95.90 462.47L96.04 465.19L96.18 468.15L96.32 468.47L96.46 463.09L96.60 465.53L96.74 469.28L96.88 467.88L97.03 465.50L97.17 455.29L97.31 464.55L97.45 465.68L97.59 467.67L97.73 464.98L97.87 462.94L98.01 466.95L98.15 460.83L98.29 460.04L98.43 466.44L98.57 466.15L98.71 465.75L98.85 464.63L98.99 463.94L99.13 472.65L99.27 466.20L99.42 461.52L99.56 465.97L99.70 466.80L99.84 465.72L99.98 466.01L100.12 467.78L100.26 464.03L100.40 462.55L100.54 460.82L100.68 463.22L100.82 468.70L100.96 463.60L101.10 464.78L101.24 464.90L101.38 471.41L101.52 466.52L101.66 471.10L101.80 469.48L101.95 466.44L102.09 467.05L102.23 462.67L102.37 464.12L102.51 473.95L102.65 466.41L102.79 463.15L102.93 470.19L103.07 473.75L103.21 464.65L103.35 465.52L103.49 468.41L103.63 466.82L103.77 462.76L103.91 467.90L104.05 467.06L104.19 462.80L104.34 469.28L104.48 467.96L104.62 467.66L104.76 469.15L104.90 467.90L105.04 460.40L105.18 475.73L105.32 459.82L105.46 459.33L105.60 464.32L105.74 458.32L105.88 454.45L106.00 452.02L106.02 452.44L106.16 455.66L106.30 458.57L106.44 465.22L106.58 464.66L106.73 462.23L106.87 461.69L107.01 473.14L107.15 467.20L107.29 468.25L107.43 469.16L107.57 474.27L107.71 473.15L107.85 466.51L107.99 473.92L108.13 470.62L108.27 469.89L108.41 471.44L108.55 471.03L108.69 470.91L108.83 460.67L108.97 468.58L109.12 471.61L109.26 473.18L109.40 469.83L109.54 456.58L109.68 465.75L109.82 468.39L109.96 474.08L110.10 466.73L110.24 474.56L110.38 470.81L110.52 450.77L110.66 470.97L110.80 470.99L110.94 468.54L111.08 469.40L111.22 463.18L111.36 466.40L111.50 468.11L111.65 470.90L111.79 471.92L111.93 466.41L112.07 468.33L112.21 473.31L112.35 468.16L112.49 467.72L112.63 464.56L112.77 468.14L112.91 458.52L113.05 468.85L113.19 460.55L113.33 465.93L113.47 468.21L113.61 459.62L113.75 471.12L113.89 472.05L114.04 466.03L114.18 464.03L114.32 469.72L114.46 461.49L114.60 468.27L114.74 468.48L114.88 460.59L115.02 471.15L115.16 460.85L115.30 467.67L115.44 460.91L115.58 468.12L115.72 469.47L115.86 469.37L116.00 462.23L116.14 458.65L116.28 464.36L116.43 467.34L116.57 463.07L116.71 465.56L116.85 462.01L116.99 469.88L117.13 465.69L117.27 460.06L117.41 467.51L117.55 467.77L117.69 464.89L117.83 465.42L117.97 468.68L118.11 465.36L118.25 466.33L118.39 462.17L118.53 466.59L118.67 467.94L118.82 471.99L118.96 464.47L119.10 465.28L119.24 469.47L119.38 475.97L119.52 460.18L119.66 469.26L119.80 469.17L119.94 470.73L120.08 469.44L120.22 465.38L120.36 470.39L120.50 465.88L120.64 466.94L120.78 462.56L120.92 464.96L121.06 456.76L121.20 465.12L121.35 463.98L121.49 462.95L121.63 467.34L121.77 467.44L121.91 470.61L122.05 465.79L122.19 464.04L122.33 465.04L122.47 470.49L122.61 466.00L122.75 466.69L122.89 464.48L123.03 463.84L123.17 462.47L123.31 465.53L123.45 464.25L123.59 463.77L123.74 455.54L123.88 447.47L124.02 438.48L124.16 423.39L124.30 409.58L124.40 407.33L124.44 409.81L124.58 417.11L124.72 428.73L124.86 443.79L125.00 452.40L125.14 457.83L125.28 462.67L125.42 463.01L125.56 456.49L125.70 462.23L125.84 469.54L125.98 461.77L126.13 463.65L126.27 466.43L126.41 465.20L126.55 461.87L126.69 467.13L126.83 462.83L126.97 469.77L127.11 468.39L127.25 466.83L127.39 470.10L127.53 464.22L127.67 466.60L127.81 458.52L127.95 468.84L128.09 466.46L128.23 464.25L128.37 460.58L128.52 469.35L128.66 464.77L128.80 465.99L128.94 463.79L129.08 470.10L129.22 465.10L129.36 471.04L129.50 469.89L129.64 469.61L129.78 471.64L129.92 464.30L130.06 456.98L130.20 467.57L130.34 467.07L130.48 463.77L130.62 469.26L130.76 461.83L130.91 467.00L131.05 464.76L131.19 472.44L131.33 470.15L131.47 464.12L131.61 473.37L131.75 459.27L131.89 468.25L132.03 463.62L132.17 469.89L132.31 462.15L132.45 467.87L132.59 468.60L132.73 475.14L132.87 463.88L133.01 469.01L133.15 465.89L133.29 466.96L133.44 468.93L133.58 462.91L133.72 466.13L133.86 464.69L134.00 465.62L134.14 472.48L134.28 470.60L134.42 464.53L134.56 467.73L134.70 470.16L134.84 464.83L134.98 467.15L135.12 469.19L135.26 470.42L135.40 471.87L135.54 470.83L135.68 472.04L135.83 472.91L135.97 462.73L136.11 468.29L136.25 471.94L136.39 466.44L136.53 475.07L136.67 465.04L136.81 459.60L136.95 471.07L137.09 460.37L137.23 456.36L137.37 452.41L137.50 449.50L137.51 448.05L137.65 451.73L137.79 457.62L137.93 463.33L138.07 462.13L138.22 471.25L138.36 464.81L138.50 467.35L138.64 462.52L138.78 467.94L138.92 470.87L139.06 471.14L139.20 476.29L139.34 466.28L139.48 473.52L139.62 469.72L139.76 474.02L139.90 470.90L140.04 469.11L140.18 475.02L140.32 464.04L140.46 472.97L140.61 479.06L140.75 470.39L140.89 466.79L141.03 470.51L141.17 467.84L141.31 459.92L141.45 471.92L141.59 463.77L141.73 473.87L141.87 470.92L142.01 472.04L142.15 463.17L142.29 465.02L142.43 458.29L142.57 451.73L142.71 447.96L142.80 445.69L142.85 447.75L142.99 451.56L143.14 457.12L143.28 459.47L143.42 465.30L143.56 467.53L143.70 470.85L143.84 465.51L143.98 464.83L144.12 478.49L144.26 468.82L144.40 465.33L144.54 471.19L144.68 467.51L144.82 475.74L144.96 469.70L145.10 468.37L145.24 466.00L145.38 469.95L145.53 466.14L145.67 463.22L145.81 471.42L145.95 470.64L146.09 467.44L146.23 473.35L146.37 470.37L146.51 465.29L146.65 465.32L146.79 471.85L146.93 470.02L147.07 469.75L147.21 473.21L147.35 470.58L147.49 472.61L147.63 468.43L147.77 466.25L147.92 468.50L148.06 468.64L148.20 470.49L148.34 465.35L148.48 471.43L148.62 471.17L148.76 466.03L148.90 466.45L149.04 463.26L149.18 472.34L149.32 471.82L149.46 468.04L149.60 468.14L149.74 467.27L149.88 465.88L150.02 461.17L150.16 467.37L150.31 469.42L150.45 467.48L150.59 465.48L150.73 474.01L150.87 465.99L151.01 464.13L151.15 471.35L151.29 467.77L151.43 466.82L151.57 468.98L151.71 466.61L151.85 467.05L151.99 466.36L152.13 465.75L152.27 464.98L152.41 465.10L152.55 470.70L152.69 464.92L152.84 464.55L152.98 461.69L153.12 460.81L153.26 452.59L153.40 450.65L153.50 449.09L153.54 446.76L153.68 451.84L153.82 455.16L153.96 462.83L154.10 460.18L154.24 465.27L154.38 461.32L154.52 464.14L154.66 463.13L154.80 472.51L154.94 464.78L155.08 464.08L155.23 467.76L155.37 466.72L155.51 465.99L155.65 468.73L155.79 465.06L155.93 463.19L156.07 464.92L156.21 468.92L156.35 467.53L156.49 464.63L156.63 461.58L156.77 465.00L156.91 466.07L157.05 468.58L157.19 465.12L157.33 467.10L157.47 464.19L157.62 461.98L157.76 468.99L157.90 466.87L158.04 469.38L158.18 465.25L158.32 467.96L158.46 463.42L158.60 466.31L158.74 461.92L158.88 460.75L159.02 459.62L159.16 465.03L159.30 464.22L159.44 466.15L159.58 465.55L159.72 460.95L159.86 464.68L160.01 468.52L160.15 465.66L160.29 462.71L160.43 471.03L160.57 465.62L160.71 471.02L160.85 464.00L160.99 461.73L161.13 458.58L161.27 467.71L161.41 449.36L161.55 462.58L161.69 463.99L161.83 461.93L161.97 466.47L162.11 460.67L162.25 459.02L162.39 465.52L162.54 453.47L162.68 460.84L162.82 458.38L162.96 457.28L163.10 460.67L163.24 456.75L163.38 454.77L163.52 452.76L163.66 447.58L163.80 435.65L163.94 415.05L164.08 391.16L164.22 364.70L164.30 360.88L164.36 363.83L164.50 385.61L164.64 412.66L164.78 433.71L164.93 445.91L165.07 449.95L165.21 454.93L165.35 459.28L165.49 452.86L165.63 456.78L165.77 458.83L165.91 458.21L166.05 456.00L166.19 460.49L166.33 462.48L166.47 459.42L166.61 463.80L166.75 461.36L166.89 461.31L167.03 464.31L167.17 465.75L167.32 457.66L167.46 463.91L167.60 459.70L167.74 461.16L167.88 446.85L168.02 457.60L168.16 467.11L168.30 464.28L168.44 462.60L168.58 463.90L168.72 458.77L168.86 452.15L169.00 459.18L169.14 458.03L169.28 457.06L169.42 454.19L169.56 446.25L169.71 452.18L169.85 454.17L169.99 453.32L170.13 453.19L170.27 444.76L170.41 436.39L170.55 416.88L170.69 386.67L170.83 350.59L170.97 328.83L171.00 326.61L171.11 340.47L171.25 371.52L171.39 406.50L171.53 430.00L171.67 444.01L171.81 451.91L171.95 448.32L172.09 450.61L172.24 453.97L172.38 454.91L172.52 456.80L172.66 455.39L172.80 458.20L172.94 459.53L173.08 457.80L173.22 455.91L173.36 457.99L173.50 454.00L173.64 456.68L173.78 453.65L173.92 460.98L174.06 457.44L174.20 458.40L174.34 463.08L174.48 461.75L174.63 459.19L174.77 460.96L174.91 458.16L175.05 459.74L175.19 460.80L175.33 458.61L175.47 457.35L175.61 460.04L175.75 455.78L175.89 452.69L176.03 453.01L176.17 457.88L176.31 456.47L176.45 449.43L176.59 450.23L176.73 448.72L176.87 439.75L177.02 425.67L177.16 404.36L177.30 389.89L177.40 381.19L177.44 382.77L177.58 395.73L177.72 418.44L177.86 435.31L178.00 442.90L178.14 450.48L178.28 455.43L178.42 453.26L178.56 457.99L178.70 451.17L178.84 454.60L178.98 454.80L179.12 455.40L179.26 452.24L179.41 458.48L179.55 455.86L179.69 454.46L179.83 459.85L179.97 454.35L180.11 460.14L180.25 464.61L180.39 457.95L180.53 459.38L180.67 460.49L180.81 455.31L180.95 461.69L181.09 459.89L181.23 460.16L181.37 461.02L181.51 458.70L181.65 459.10L181.79 462.05L181.94 469.38L182.08 454.11L182.22 459.05L182.36 467.08L182.50 462.31L182.64 460.19L182.78 462.85L182.92 458.60L183.06 457.84L183.20 463.86L183.34 456.09L183.48 463.17L183.62 463.21L183.76 461.65L183.90 461.64L184.04 453.12L184.18 459.88L184.33 462.70L184.47 455.41L184.61 458.46L184.75 461.76L184.89 464.70L185.03 462.91L185.17 460.98L185.31 463.34L185.45 456.19L185.59 454.22L185.73 457.38L185.87 464.87L186.01 463.34L186.15 458.63L186.29 461.54L186.43 455.14L186.57 458.57L186.72 460.27L186.86 459.14L187.00 460.94L187.14 457.92L187.28 461.91L187.42 462.84L187.56 453.22L187.70 464.60L187.84 460.29L187.98 464.12L188.12 462.14L188.26 463.49L188.40 459.28L188.54 462.14L188.68 460.86L188.82 461.21L188.96 461.90L189.11 459.28L189.25 462.85L189.39 457.02L189.53 460.33L189.67 459.19L189.81 459.76L189.95 456.47L190.09 468.86L190.23 460.40L190.37 464.21L190.51 460.13L190.65 463.47L190.79 448.85L190.93 459.14L191.07 460.94L191.21 461.03L191.35 466.28L191.50 459.87L191.64 461.20L191.78 462.40L191.92 459.10L192.06 463.12L192.20 461.15L192.34 461.12L192.48 460.38L192.62 464.73L192.76 458.88L192.90 463.59L193.04 464.48L193.18 461.94L193.32 458.89L193.46 462.39L193.60 462.79L193.74 460.01L193.88 460.85L194.03 461.82L194.17 465.51L194.31 457.48L194.45 461.22L194.59 462.91L194.73 465.33L194.87 457.92L195.01 463.76L195.15 459.08L195.29 462.19L195.43 465.56L195.57 459.36L195.71 461.82L195.85 459.25L195.99 465.35L196.13 460.59L196.27 460.35L196.42 462.53L196.56 462.85L196.70 463.62L196.84 465.43L196.98 464.68L197.12 463.26L197.26 463.82L197.40 466.12L197.54 452.08L197.68 465.66L197.82 461.34L197.96 455.27L198.10 462.18L198.24 459.75L198.38 457.77L198.52 460.26L198.66 455.62L198.81 449.60L198.95 439.46L199.09 427.33L199.23 412.91L199.37 403.83L199.40 405.02L199.51 408.56L199.65 421.18L199.79 435.23L199.93 445.82L200.07 455.57L200.21 454.46L200.35 456.30L200.49 458.36L200.63 455.42L200.77 458.62L200.91 456.55L201.05 461.56L201.20 463.02L201.34 462.53L201.48 457.09L201.62 465.07L201.76 454.02L201.90 464.08L202.04 461.54L202.18 465.31L202.32 462.46L202.46 461.84L202.60 462.01L202.74 464.65L202.88 465.19L203.02 471.01L203.16 467.97L203.30 471.57L203.44 466.53L203.58 469.64L203.73 470.05L203.87 469.09L204.01 472.16L204.15 465.31L204.29 463.46L204.43 468.96L204.57 462.18L204.71 469.92L204.85 465.56L204.99 463.47L205.13 468.82L205.27 466.38L205.41 466.39L205.55 466.23L205.69 466.81L205.83 465.64L205.97 472.98L206.12 468.10L206.26 466.91L206.40 476.84L206.54 470.68L206.68 471.49L206.82 466.34L206.96 468.71L207.10 468.03L207.24 470.12L207.38 465.02L207.52 465.68L207.66 465.88L207.80 467.80L207.94 462.34L208.08 469.90L208.22 468.50L208.36 469.49L208.51 464.96L208.65 470.12L208.79 469.92L208.93 466.32L209.07 466.81L209.21 470.39L209.35 470.26L209.49 470.93L209.63 464.57L209.77 466.49L209.91 451.67L210.05 468.07L210.19 469.88L210.33 465.11L210.47 467.44L210.61 469.88L210.75 467.48L210.90 467.82L211.04 470.32L211.18 467.60L211.32 469.93L211.46 461.52L211.60 464.34L211.74 467.49L211.88 466.59L212.02 469.89L212.16 471.83L212.30 469.51L212.44 467.87L212.58 469.48L212.72 468.18L212.86 467.99L213.00 468.21L213.14 466.43L213.28 468.74L213.43 474.27L213.57 463.15L213.71 463.50L213.85 466.71L213.99 472.09L214.13 465.52L214.27 463.17L214.41 467.78L214.55 463.56L214.69 463.57L214.83 467.13L214.97 467.08L215.11 461.54L215.25 466.79L215.39 462.11L215.53 468.61L215.67 472.88L215.82 468.33L215.96 466.87L216.10 469.21L216.24 466.18L216.38 460.91L216.52 466.95L216.66 466.73L216.80 464.37L216.94 470.21L217.08 472.73L217.22 467.71L217.36 469.06L217.50 463.09L217.64 465.26L217.78 472.96L217.92 466.01L218.06 475.16L218.21 470.51L218.35 467.54L218.49 470.53L218.63 465.60L218.77 464.60L218.91 469.55L219.05 456.95L219.19 471.55L219.33 466.07L219.47 465.64L219.61 472.29L219.75 469.20L219.89 468.57L220.03 469.59L220.17 471.49L220.31 472.55L220.45 470.68L220.60 461.60L220.74 463.13L220.88 473.80L221.02 472.56L221.16 473.55L221.30 474.22L221.44 470.19L221.58 467.23L221.72 472.93L221.86 470.04L222.00 468.69L222.14 468.11L222.28 468.07L222.42 463.06L222.56 475.76L222.70 465.65L222.84 466.43L222.98 461.85L223.13 469.81L223.27 468.97L223.41 463.31L223.55 470.71L223.69 466.19L223.83 466.70L223.97 465.70L224.11 466.13L224.25 461.15L224.39 456.44L224.53 454.88L224.67 448.26L224.80 446.62L224.81 447.86L224.95 449.31L225.09 453.78L225.23 454.07L225.37 467.10L225.52 466.86L225.66 465.57L225.80 471.55L225.94 465.78L226.08 467.32L226.22 471.37L226.36 471.70L226.50 471.15L226.64 470.46L226.78 464.89L226.92 463.03L227.06 467.89L227.20 467.32L227.34 468.74L227.48 470.21L227.62 470.59L227.76 469.04L227.91 465.09L228.05 464.71L228.19 469.66L228.33 473.62L228.47 469.39L228.61 470.96L228.75 470.18L228.89 466.88L229.03 468.72L229.17 469.00L229.31 462.96L229.45 470.03L229.59 465.14L229.73 466.31L229.87 461.01L230.01 465.48L230.15 472.87L230.30 474.28L230.44 469.71L230.58 465.89L230.72 467.62L230.86 460.28L231.00 469.37L231.14 467.72L231.28 474.80L231.42 466.80L231.56 468.93L231.70 466.60L231.84 471.61L231.98 464.89L232.12 463.04L232.26 472.22L232.40 472.26L232.54 463.87L232.68 465.83L232.83 469.48L232.97 469.59L233.11 471.25L233.25 461.06L233.39 469.77L233.53 471.37L233.67 468.81L233.81 471.19L233.95 471.79L234.09 469.17L234.23 470.93L234.37 467.91L234.51 469.03L234.65 465.68L234.79 469.73L234.93 470.11L235.07 454.29L235.22 472.39L235.36 466.01L235.50 473.26L235.64 468.84L235.78 467.91L235.92 457.36L236.06 465.58L236.20 463.47L236.34 470.46L236.48 471.40L236.62 464.39L236.76 467.51L236.90 472.86L237.04 468.27L237.18 470.81L237.32 468.02L237.46 470.19L237.61 469.32L237.75 466.20L237.89 468.58L238.03 472.27L238.17 469.77L238.31 468.08L238.45 469.22L238.59 468.73L238.73 471.07L238.87 473.33L239.01 466.43L239.15 471.43L239.29 471.62L239.43 474.70L239.57 465.78L239.71 469.89L239.85 473.30L240.00 463.76L240.14 464.33L240.28 465.72L240.42 465.27L240.56 463.75L240.70 470.86L240.84 466.80L240.98 463.76L241.12 465.33L241.26 465.53L241.40 458.14L241.54 455.19L241.60 456.72L241.68 458.34L241.82 462.09L241.96 461.69L242.10 466.82L242.24 463.79L242.38 465.26L242.53 470.12L242.67 465.40L242.81 467.18L242.95 466.43L243.09 472.05L243.23 466.11L243.37 469.24L243.51 469.52L243.65 464.57L243.79 459.19L243.93 468.79L244.07 472.37L244.21 470.69L244.35 465.59L244.49 465.59L244.63 460.96L244.77 466.45L244.92 469.91L245.06 464.58L245.20 473.46L245.34 468.58L245.48 473.26L245.62 465.66L245.76 471.11L245.90 473.42L246.04 467.47L246.18 468.43L246.32 471.13L246.46 469.99L246.60 469.28L246.74 475.89L246.88 467.97L247.02 467.02L247.16 469.18L247.31 469.07L247.45 467.74L247.59 470.40L247.73 473.43L247.87 461.17L248.01 465.66L248.15 470.00L248.29 467.98L248.43 466.66L248.57 475.33L248.71 468.61L248.85 473.90L248.99 468.92L249.13 467.35L249.27 465.98L249.41 472.99L249.55 469.54L249.70 465.06L249.84 472.77L249.98 458.05L250.12 465.52L250.26 470.05L250.40 466.79L250.54 465.23L250.68 468.20L250.82 465.54L250.96 470.15L251.10 474.38L251.24 470.38L251.38 462.40L251.52 472.11L251.66 467.67L251.80 467.05L251.94 476.64L252.08 469.34L252.23 467.26L252.37 466.27L252.51 473.58L252.65 464.72L252.79 470.09L252.93 472.90L253.07 471.49L253.21 473.99L253.35 469.26L253.49 472.30L253.63 467.60L253.77 471.30L253.91 476.96L254.05 468.40L254.19 471.35L254.33 467.59L254.47 465.48L254.62 473.38L254.76 470.96L254.90 467.40L255.04 477.44L255.18 470.68L255.32 471.86L255.46 468.55L255.60 472.43L255.74 465.20L255.88 470.75L256.02 464.58L256.16 471.76L256.30 469.04L256.44 472.89L256.58 464.56L256.72 471.45L256.86 465.95L257.01 469.32L257.15 467.98L257.29 468.25L257.43 473.39L257.57 473.41L257.71 467.99L257.85 467.71L257.99 469.37L258.13 467.26L258.27 465.81L258.41 470.39L258.55 469.86L258.69 468.19L258.83 457.35L258.97 465.78L259.11 471.10L259.25 465.99L259.40 465.50L259.54 463.00L259.68 466.60L259.82 466.87L259.96 459.95L260.10 456.38L260.24 451.63L260.38 442.19L260.50 442.91L260.52 443.81L260.66 448.03L260.80 450.97L260.94 459.48L261.08 464.50L261.22 467.66L261.36 465.11L261.50 469.96L261.64 463.59L261.79 465.10L261.93 468.26L262.07 470.05L262.21 460.81L262.35 467.59L262.49 468.48L262.63 471.81L262.77 469.88L262.91 467.75L263.05 476.02L263.19 474.57L263.33 468.07L263.47 471.57L263.61 474.02L263.75 467.77L263.89 471.40L264.03 475.14L264.17 469.67L264.32 473.00L264.46 464.50L264.60 472.46L264.74 468.53L264.88 471.93L265.02 466.98L265.16 475.96L265.30 475.73L265.44 466.68L265.58 470.92L265.72 471.42L265.86 473.62L266.00 477.42L266.14 474.19L266.28 471.20L266.42 477.63L266.56 468.04L266.71 479.21L266.85 469.05L266.99 470.40L267.13 471.17L267.27 469.30L267.41 470.11L267.55 469.01L267.69 472.77L267.83 474.34L267.97 469.22L268.11 472.77L268.25 473.69L268.39 477.61L268.53 469.50L268.67 473.43L268.81 472.34L268.95 462.72L269.10 473.17L269.24 471.62L269.38 473.43L269.52 471.75L269.66 466.86L269.80 474.46L269.94 476.18L270.08 468.31L270.22 468.39L270.36 468.32L270.50 472.90L270.64 471.12L270.78 468.68L270.92 468.50L271.06 471.08L271.20 467.08L271.34 468.46L271.49 471.53L271.63 475.88L271.77 468.95L271.91 473.91L272.05 472.98L272.19 469.44L272.33 472.05L272.47 467.52L272.61 469.83L272.75 469.83L272.89 467.38L273.03 469.95L273.17 470.48L273.31 471.14L273.45 468.22L273.59 475.20L273.73 469.02L273.87 473.92L274.02 465.54L274.16 465.58L274.30 472.00L274.44 471.28L274.58 469.94L274.72 471.50L274.86 470.02L275.00 471.46L275.14 460.87L275.28 470.18L275.42 467.16L275.56 469.83L275.70 471.47L275.84 473.93L275.98 467.03L276.12 469.77L276.26 472.72L276.41 468.66L276.55 469.39L276.69 461.91L276.83 460.95L276.97 457.77L277.11 451.10L277.25 447.76L277.30 447.91L277.39 450.32L277.53 452.89L277.67 458.17L277.81 462.85L277.95 469.84L278.09 477.45L278.23 474.83L278.37 474.95L278.51 475.79L278.65 473.07L278.80 475.06L278.94 471.63L279.08 478.39L279.22 466.14L279.36 470.36L279.50 472.94L279.64 475.84L279.78 479.35L279.92 472.00L280.06 466.53L280.20 478.49L280.34 470.67L280.48 476.30L280.62 474.04L280.76 472.59L280.90 469.80L281.04 470.84L281.19 473.28L281.33 474.36L281.47 474.86L281.61 474.10L281.75 476.04L281.89 472.12L282.03 471.90L282.17 475.95L282.31 472.67L282.45 471.72L282.59 470.14L282.73 472.34L282.87 477.29L283.01 474.42L283.15 482.37L283.29 474.03L283.43 474.43L283.57 473.65L283.72 469.97L283.86 472.97L284.00 474.57L284.14 472.88L284.28 472.25L284.42 479.38L284.56 474.32L284.70 475.81L284.84 470.65L284.98 471.13L285.12 475.02L285.26 471.51L285.40 471.58L285.54 474.36L285.68 473.72L285.82 471.76L285.96 475.41L286.11 473.45L286.25 468.33L286.39 470.85L286.53 478.58L286.67 471.16L286.81 469.84L286.95 474.10L287.09 473.95L287.23 475.75L287.37 471.73L287.51 474.33L287.65 467.43L287.79 472.00L287.93 470.10L288.07 476.33L288.21 473.27L288.35 467.61L288.50 470.28L288.64 474.88L288.78 474.43L288.92 470.76L289.06 466.58L289.20 464.89L289.34 469.21L289.48 473.26L289.62 473.05L289.76 474.76L289.90 471.32L290.04 468.32L290.18 471.38L290.32 471.77L290.46 473.96L290.60 462.71L290.74 472.83L290.89 475.22L291.03 468.12L291.17 477.02L291.31 470.88L291.45 470.58L291.59 473.54L291.73 468.43L291.87 472.59L292.01 469.19L292.15 475.35L292.29 473.31L292.43 474.94L292.57 473.10L292.71 468.55L292.85 469.53L292.99 475.48L293.13 471.25L293.27 469.19L293.42 467.95L293.56 470.55L293.70 469.66L293.84 474.18L293.98 466.91L294.12 473.90L294.26 471.54L294.40 472.69L294.54 475.93L294.68 468.30L294.82 473.48L294.96 469.19L295.10 470.90L295.24 466.50L295.38 470.84L295.52 474.13L295.66 471.21L295.81 471.65L295.95 478.42L296.09 475.22L296.23 474.10L296.37 473.39L296.51 468.57L296.65 469.23L296.79 470.46L296.93 474.12L297.07 477.28L297.21 478.32L297.35 472.59L297.49 465.72L297.63 476.34L297.77 478.52L297.91 469.75L298.05 466.43L298.20 470.43L298.34 472.36L298.48 470.55L298.62 470.99L298.76 474.72L298.90 474.34L299.04 476.54L299.18 482.69L299.32 475.52L299.46 477.36L299.60 474.34L299.74 477.55L299.88 477.96L300.02 477.08L300.16 473.99L300.30 469.20L300.44 469.30L300.59 472.91L300.73 475.13L300.87 473.73L301.01 462.62L301.15 470.68L301.29 479.84L301.43 472.19L301.57 475.79L301.71 465.72L301.85 475.42L301.99 475.45L302.13 477.53L302.27 475.48L302.41 475.29L302.55 472.86L302.69 473.83L302.83 472.05L302.97 476.25L303.12 469.99L303.26 475.16L303.40 472.16L303.54 478.71L303.68 475.94L303.82 473.51L303.96 473.07L304.10 474.21L304.24 468.99L304.38 477.88L304.52 474.02L304.66 473.04L304.80 474.09L304.94 474.22L305.08 475.76L305.22 471.53L305.36 472.02L305.51 473.42L305.65 479.16L305.79 474.48L305.93 474.69L306.07 475.60L306.21 473.43L306.35 476.01L306.49 471.45L306.63 471.24L306.77 471.16L306.91 465.72L307.05 470.91L307.19 475.74L307.33 479.42L307.47 476.00L307.61 474.40L307.75 469.70L307.90 478.52L308.04 472.56L308.18 471.81L308.32 470.45L308.46 475.66L308.60 473.51L308.74 478.16L308.88 475.67L309.02 477.27L309.16 472.24L309.30 473.98L309.44 474.23L309.58 477.52L309.72 473.18L309.86 474.63L310.00 475.72L310.14 467.75L310.29 472.01L310.43 473.51L310.57 474.64L310.71 472.47L310.85 473.40L310.99 470.35L311.13 472.43L311.27 472.65L311.41 476.70L311.55 475.50L311.69 474.01L311.83 470.45L311.97 469.91L312.11 474.94L312.25 476.82L312.39 470.37L312.53 480.74L312.67 475.57L312.82 476.13L312.96 474.30L313.10 455.66L313.24 473.30L313.38 474.53L313.52 471.38L313.66 477.45L313.80 473.17L313.94 472.15L314.08 475.81L314.22 475.77L314.36 478.44L314.50 473.14L314.64 474.17L314.78 475.42L314.92 476.76L315.06 473.50L315.21 473.61L315.35 476.02L315.49 471.06L315.63 473.76L315.77 473.86L315.91 475.01L316.05 470.59L316.19 461.13L316.33 466.71L316.47 467.97L316.61 472.05L316.75 468.43L316.89 475.10L317.03 473.90L317.17 476.21L317.31 468.42L317.45 473.55L317.60 477.46L317.74 471.33L317.88 474.92L318.02 473.17L318.16 469.28L318.30 459.46L318.44 474.54L318.58 473.87L318.72 473.54L318.86 473.50L319.00 472.73L319.14 475.50L319.28 470.37L319.42 475.32L319.56 474.72L319.70 471.52L319.84 475.87L319.99 478.78L320.13 470.36L320.27 475.52L320.41 476.02L320.55 471.57L320.69 476.59L320.83 465.36L320.97 469.56L321.11 477.98L321.25 478.25L321.39 482.98L321.53 472.36L321.67 474.99L321.81 476.49L321.95 478.11L322.09 475.37L322.23 476.39L322.37 476.96L322.52 479.72L322.66 475.70L322.80 477.51L322.94 473.30L323.08 476.99L323.22 469.34L323.36 478.90L323.50 475.64L323.64 478.45L323.78 476.99L323.92 473.59L324.06 477.31L324.20 483.47L324.34 480.17L324.48 469.75L324.62 479.15L324.76 477.27L324.91 471.62L325.05 470.63L325.19 475.21L325.33 475.66L325.47 476.61L325.61 476.66L325.75 475.77L325.89 473.04L326.03 477.41L326.17 480.00L326.31 476.75L326.45 472.15L326.59 480.59L326.73 475.89L326.87 471.50L327.01 477.19L327.15 479.72L327.30 479.49L327.44 474.23L327.58 476.90L327.72 473.71L327.86 474.24L328.00 476.50L328.14 473.14L328.28 473.54L328.42 477.28L328.56 472.01L328.70 477.10L328.84 481.70L328.98 476.06L329.12 474.11L329.26 477.30L329.40 476.86L329.54 475.31L329.69 473.29L329.83 474.43L329.97 478.12L330.11 479.96L330.25 474.29L330.39 472.40L330.53 473.51L330.67 478.08L330.81 470.66L330.95 472.19L331.09 470.08L331.23 469.31L331.37 465.77L331.51 464.91L331.60 465.00L331.65 462.43L331.79 469.19L331.93 468.73L332.08 467.30L332.22 476.19L332.36 475.25L332.50 475.00L332.64 473.52L332.78 476.09L332.92 479.26L333.06 476.77L333.20 470.68L333.34 472.74L333.48 475.56L333.62 470.69L333.76 477.41L333.90 473.54L334.04 471.06L334.18 473.27L334.32 476.99L334.46 472.98L334.61 477.32L334.75 474.43L334.89 471.81L335.03 479.42L335.17 470.57L335.31 474.72L335.45 477.99L335.59 471.34L335.73 471.18L335.87 468.87L336.01 476.42L336.15 477.22L336.29 480.02L336.43 471.69L336.57 473.45L336.71 473.24L336.85 478.28L337.00 473.57L337.14 472.13L337.28 475.06L337.42 478.05L337.56 477.80L337.70 468.95L337.84 477.32L337.98 476.69L338.12 475.99L338.26 471.55L338.40 474.48L338.54 473.76L338.68 469.45L338.82 473.63L338.96 474.18L339.10 472.04L339.24 475.99L339.39 478.18L339.53 472.32L339.67 481.28L339.81 476.65L339.95 478.55L340.09 472.60L340.23 477.86L340.37 480.74L340.51 478.52L340.65 479.91L340.79 474.69L340.93 473.48L341.07 473.67L341.21 471.33L341.35 474.67L341.49 476.19L341.63 480.99L341.78 479.68L341.92 470.47L342.06 481.17L342.20 476.36L342.34 472.45L342.48 470.00L342.62 477.23L342.76 482.96L342.90 476.38L343.04 477.22L343.18 475.99L343.32 479.42L343.46 475.47L343.60 466.48L343.74 477.24L343.88 484.06L344.02 482.49L344.16 472.87L344.31 477.83L344.45 476.89L344.59 477.48L344.73 478.16L344.87 478.05L345.01 478.48L345.15 476.66L345.29 478.10L345.43 478.46L345.57 475.54L345.71 479.01L345.85 478.86L345.99 476.30L346.13 474.59L346.27 477.09L346.41 475.26L346.55 473.00L346.70 478.10L346.84 472.70L346.98 478.83L347.12 476.81L347.26 479.19L347.40 476.15L347.54 472.16L347.68 479.55L347.82 477.34L347.96 479.76L348.10 477.75L348.24 475.90L348.38 477.02L348.52 477.33L348.66 478.95L348.80 477.49L348.94 475.10L349.09 477.48L349.23 474.80L349.37 466.29L349.51 480.30L349.65 475.00L349.79 475.68L349.93 476.26L350.07 477.77L350.21 478.93L350.35 476.99L350.49 479.80L350.63 476.50L350.77 482.26L350.91 475.31L351.05 478.83L351.19 477.93L351.33 480.09L351.48 479.74L351.62 477.48L351.76 474.27L351.90 477.58L352.04 471.43L352.18 479.97L352.32 478.69L352.46 478.39L352.60 476.24L352.74 473.17L352.88 478.56L353.02 477.37L353.16 483.48L353.30 478.65L353.44 474.80L353.58 479.84L353.72 479.91L353.86 476.43L354.01 475.66L354.15 476.87L354.29 481.15L354.43 477.81L354.57 481.19L354.71 479.50L354.85 480.53L354.99 477.31L355.13 479.53L355.27 464.73L355.41 477.78L355.55 472.96L355.69 480.63L355.83 474.27L355.97 469.11L356.11 476.29L356.25 471.59L356.40 471.46L356.54 463.30L356.68 462.98L356.70 463.20L356.82 465.17L356.96 467.07L357.10 473.81L357.24 472.49L357.38 477.23L357.52 477.24L357.66 475.56L357.80 474.09L357.94 475.94L358.08 476.79L358.22 476.72L358.36 473.84L358.50 479.40L358.64 477.69L358.79 480.68L358.93 473.68L359.07 476.86L359.21 478.54L359.35 468.87L359.49 481.47L359.63 481.34L359.77 475.07L359.91 470.02L360.05 475.61L360.19 479.66L360.33 478.42L360.47 484.99L360.61 467.40L360.75 478.72L360.89 476.10L361.03 474.00L361.18 480.97L361.32 474.55L361.46 480.87L361.60 477.51L361.74 475.29L361.88 476.68L362.02 475.85L362.16 477.67L362.30 476.13L362.44 477.75L362.58 475.22L362.72 479.68L362.86 474.96L363.00 477.57L363.14 478.20L363.28 476.48L363.42 473.60L363.56 476.45L363.71 483.95L363.85 475.26L363.99 482.15L364.13 476.44L364.27 477.93L364.41 475.37L364.55 473.35L364.69 475.15L364.83 473.72L364.97 477.42L365.11 475.03L365.25 476.35L365.39 479.62L365.53 471.56L365.67 476.70L365.81 476.79L365.95 477.93L366.10 478.03L366.24 478.22L366.38 482.04L366.52 479.18L366.66 477.64L366.80 475.84L366.94 479.94L367.08 481.26L367.22 479.34L367.36 477.40L367.50 477.57L367.64 475.27L367.78 479.03L367.92 476.48L368.06 477.69L368.20 476.10L368.34 478.01L368.49 471.59L368.63 477.77L368.77 472.65L368.91 481.87L369.05 468.38L369.19 475.56L369.33 475.05L369.47 483.83L369.61 476.57L369.75 480.06L369.89 467.55L370.03 471.24L370.17 478.83L370.31 476.91L370.45 473.34L370.59 480.03L370.73 478.63L370.88 468.53L371.02 474.82L371.16 474.24L371.30 480.85L371.44 477.56L371.58 471.32L371.72 477.01L371.86 478.16L372.00 478.22L372.14 475.70L372.28 482.51L372.42 479.81L372.56 475.17L372.70 474.82L372.84 472.89L372.98 475.44L373.12 478.70L373.26 475.57L373.41 482.41L373.55 476.41L373.69 477.03L373.83 478.19L373.97 476.18L374.11 475.68L374.25 479.15L374.39 474.58L374.53 478.81L374.67 475.93L374.81 478.46L374.95 475.89L375.09 476.18L375.23 480.61L375.37 474.21L375.51 473.20L375.65 473.49L375.80 471.97L375.94 476.90L376.08 477.49L376.22 476.13L376.36 478.69L376.50 478.05L376.64 478.77L376.78 481.35L376.92 476.01L377.06 476.17L377.20 477.27L377.34 480.01L377.48 480.72L377.62 480.49L377.76 474.81L377.90 480.13L378.04 477.66L378.19 477.04L378.33 480.10L378.47 464.46L378.61 479.18L378.75 482.66L378.89 477.71L379.03 481.80L379.17 483.63L379.31 480.18L379.45 474.71L379.59 475.79L379.73 479.17L379.87 477.14L380.01 477.90L380.15 476.73L380.29 480.59L380.43 482.68L380.58 481.20L380.72 470.19L380.86 476.84L381.00 481.47L381.14 482.84L381.28 475.59L381.42 479.78L381.56 476.50L381.70 475.37L381.84 471.87L381.98 475.27L382.12 477.34L382.26 479.46L382.40 476.14L382.54 477.98L382.68 477.59L382.82 477.37L382.96 477.75L383.11 473.33L383.25 473.42L383.39 482.01L383.53 474.55L383.67 474.13L383.81 472.16L383.95 478.97L384.09 477.17L384.23 478.95L384.37 479.97L384.51 477.98L384.65 478.06L384.79 479.00L384.93 479.07L385.07 474.00L385.21 480.36L385.35 476.86L385.50 475.68L385.64 475.76L385.78 475.98L385.92 478.12L386.06 478.46L386.20 474.67L386.34 480.59L386.48 478.27L386.62 478.28L386.76 475.25L386.90 478.83L387.04 473.09L387.18 478.28L387.32 477.38L387.46 472.10L387.60 471.13L387.74 479.13L387.89 478.81L388.03 475.60L388.17 475.47L388.31 475.20L388.45 467.22L388.59 477.29L388.73 480.81L388.87 479.56L389.01 480.23L389.15 479.66L389.29 476.82L389.43 478.61L389.57 478.06L389.71 477.13L389.85 478.55L389.99 474.53L390.13 478.00L390.28 478.39L390.42 477.82L390.56 474.51L390.70 476.19L390.84 479.21L390.98 473.83L391.12 474.63L391.26 476.18L391.40 473.67L391.54 477.70L391.68 480.35L391.82 472.85L391.96 477.89L392.10 477.51L392.24 476.60L392.38 474.55L392.52 481.25L392.66 476.48L392.81 475.03L392.95 476.57L393.09 473.11L393.23 476.96L393.37 476.78L393.51 475.09L393.65 479.86L393.79 477.82L393.93 479.39L394.07 474.25L394.21 477.32L394.35 470.21L394.49 476.23L394.63 476.49L394.77 476.24L394.91 474.62L395.05 475.69L395.20 474.08L395.34 477.94L395.48 478.33L395.62 474.29L395.76 483.73L395.90 477.35L396.04 478.43L396.18 477.22L396.32 478.04L396.46 476.57L396.60 477.99L396.74 479.47L396.88 478.07L397.02 475.39L397.16 478.49L397.30 475.37L397.44 470.87L397.59 474.85L397.73 478.97L397.87 476.74L398.01 477.69L398.15 478.19L398.29 477.08L398.43 475.93L398.57 477.95L398.71 476.39L398.85 475.02L398.99 478.96L399.13 471.40L399.27 477.23L399.41 470.73L399.55 478.98L399.69 480.04L399.83 474.12L399.98 483.02L400.12 474.83L400.26 474.29L400.40 474.28L400.54 475.16L400.68 478.03L400.82 472.58L400.96 480.80L401.10 479.95L401.24 480.13L401.38 478.59L401.52 471.15L401.66 472.92L401.80 471.35L401.94 467.43L402.00 469.01L402.08 469.04L402.22 468.62L402.37 476.70L402.51 477.57L402.65 479.37L402.79 475.57L402.93 474.61L403.07 473.80L403.21 482.20L403.35 479.06L403.49 479.76L403.63 475.90L403.77 479.00L403.91 481.56L404.05 478.27L404.19 481.55L404.33 479.19L404.47 475.75L404.61 476.26L404.75 479.19L404.90 479.46L405.04 477.51L405.18 476.27L405.32 475.98L405.46 480.39L405.60 476.31L405.74 479.75L405.88 480.21L406.02 480.72L406.16 477.64L406.30 475.38L406.44 475.28L406.58 478.69L406.72 476.50L406.86 478.60L407.00 479.48L407.14 480.37L407.29 470.94L407.43 476.52L407.57 479.46L407.71 475.25L407.85 474.45L407.99 485.08L408.13 473.34L408.27 476.75L408.41 479.87L408.55 482.68L408.69 474.92L408.83 480.58L408.97 475.36L409.11 480.56L409.25 484.94L409.39 476.94L409.53 481.88L409.68 479.10L409.82 478.43L409.96 471.62L410.10 477.84L410.24 478.67L410.38 479.23L410.52 468.95L410.66 477.71L410.80 480.41L410.94 481.54L411.08 478.62L411.22 482.14L411.36 480.85L411.50 478.58L411.64 479.55L411.78 474.28L411.92 476.77L412.07 479.93L412.21 477.26L412.35 481.51L412.49 478.67L412.63 476.04L412.77 480.38L412.91 479.92L413.05 483.33L413.19 475.36L413.33 478.18L413.47 485.21L413.61 475.52L413.75 479.97L413.89 476.13L414.03 480.41L414.17 482.16L414.31 476.93L414.45 483.17L414.60 480.51L414.74 478.09L414.88 479.02L415.02 476.97L415.16 480.77L415.30 480.38L415.44 482.46L415.58 478.06L415.72 476.09L415.86 474.33L416.00 478.88L416.14 477.45L416.28 474.41L416.42 480.00L416.56 478.23L416.70 475.21L416.84 483.36L416.99 480.63L417.13 476.88L417.27 476.80L417.41 481.90L417.55 476.48L417.69 473.84L417.83 482.72L417.97 476.20L418.11 471.48L418.25 477.53L418.39 478.68L418.53 481.58L418.67 476.74L418.81 480.32L418.95 479.40L419.09 479.87L419.23 475.25L419.38 478.51L419.52 478.91L419.66 477.92L419.80 480.49L419.94 480.87L420.08 480.07L420.22 473.34L420.36 473.14L420.50 477.34L420.64 478.27L420.78 478.57L420.92 476.86L421.06 476.59L421.20 474.08L421.34 473.95L421.48 469.55L421.62 466.53L421.70 468.70L421.77 470.50L421.91 470.89L422.05 473.58L422.19 476.48L422.33 477.54L422.47 478.89L422.61 477.78L422.75 476.85L422.89 479.26L423.03 475.66L423.17 478.96L423.31 477.03L423.45 481.58L423.59 475.69L423.73 483.45L423.87 479.03L424.01 478.18L424.15 480.04L424.30 480.46L424.44 480.18L424.58 476.70L424.72 477.79L424.86 480.03L425.00 478.24L425.14 477.18L425.28 482.17L425.42 480.96L425.56 478.60L425.70 479.60L425.84 480.57L425.98 482.09L426.12 484.30L426.26 480.33L426.40 474.98L426.54 479.40L426.69 486.74L426.83 476.06L426.97 482.99L427.11 478.15L427.25 482.10L427.39 477.84L427.53 480.71L427.67 477.76L427.81 478.32L427.95 480.46L428.09 479.62L428.23 481.17L428.37 480.14L428.51 478.22L428.65 478.99L428.79 477.49L428.93 480.90L429.08 482.59L429.22 478.60L429.36 476.69L429.50 478.90L429.64 480.42L429.78 472.97L429.92 479.07L430.06 480.25L430.20 473.31L430.34 474.44L430.48 474.54L430.62 473.20L430.76 476.81L430.90 476.82L431.04 472.08L431.18 474.28L431.32 471.92L431.47 470.65L431.61 464.33L431.75 469.81L431.89 469.55L432.03 469.22L432.17 467.54L432.30 468.01L432.31 467.85L432.45 466.77L432.59 465.04L432.73 468.33L432.87 471.58L433.01 464.51L433.15 469.43L433.29 470.00L433.43 472.25L433.57 474.19L433.71 471.89L433.85 472.73L434.00 467.59L434.14 469.95L434.28 471.95L434.42 477.09L434.56 472.24L434.70 476.25L434.84 474.30L434.98 475.43L435.12 477.08L435.26 478.69L435.40 475.39L435.54 476.26L435.68 475.39L435.82 477.77L435.96 473.50L436.10 479.49L436.24 476.71L436.39 478.45L436.53 475.93L436.67 475.24L436.81 476.13L436.95 477.71L437.09 475.64L437.23 477.01L437.37 479.09L437.51 478.20L437.65 477.33L437.79 478.00L437.93 475.90L438.07 478.03L438.21 476.54L438.35 474.93L438.49 477.00L438.63 478.31L438.78 479.71L438.92 476.03L439.06 475.75L439.20 474.31L439.34 479.11L439.48 477.62L439.62 477.06L439.76 476.89L439.90 478.63L440.04 477.69L440.18 477.77L440.32 483.39L440.46 479.74L440.60 479.89L440.74 478.91L440.88 476.32L441.02 480.05L441.17 479.00L441.31 479.13L441.45 479.70L441.59 478.45L441.73 480.27L441.87 475.30L442.01 480.11L442.15 477.24L442.29 478.38L442.43 476.18L442.57 476.53L442.71 479.57L442.85 476.53L442.99 476.10L443.13 479.38L443.27 478.72L443.41 478.93L443.55 479.77L443.70 479.28L443.84 476.01L443.98 477.32L444.12 480.77L444.26 479.03L444.40 477.64L444.54 480.59L444.68 478.45L444.82 475.17L444.96 474.15L445.10 481.31L445.24 476.19L445.38 479.43L445.52 478.10L445.66 476.19L445.80 477.87L445.94 482.09L446.09 483.85L446.23 482.36L446.37 477.60L446.51 475.09L446.65 481.60L446.79 482.03L446.93 477.15L447.07 473.71L447.21 474.01L447.35 480.53L447.49 475.27L447.63 475.57L447.77 474.71L447.91 482.89L448.05 476.27L448.19 479.66L448.33 477.95L448.48 483.01L448.62 480.99L448.76 479.45L448.90 480.07L449.04 476.53L449.18 481.14L449.32 476.14L449.46 474.93L449.60 479.69L449.74 477.92L449.88 477.11L450.02 476.86L450.16 480.68L450.30 474.63L450.44 482.62L450.58 480.03L450.72 475.41L450.87 475.49L451.01 477.38L451.15 477.34L451.29 477.53L451.43 475.60L451.57 476.50L451.71 477.03L451.85 478.48L451.99 478.65L452.13 480.00L452.27 478.83L452.41 483.79L452.55 475.30L452.69 480.12L452.83 481.17L452.97 478.88L453.11 477.09L453.25 479.65L453.40 476.79L453.54 475.88L453.68 477.26L453.82 479.16L453.96 473.70L454.10 482.48L454.24 481.15L454.38 478.38L454.52 481.36L454.66 482.89L454.80 480.15L454.94 476.56L455.08 477.46L455.22 478.41L455.36 482.94L455.50 482.68L455.64 480.43L455.79 477.33L455.93 479.17L456.07 478.50L456.21 479.76L456.35 474.28L456.49 472.34L456.63 473.66L456.77 475.14L456.91 477.13L457.05 478.41L457.19 479.04L457.33 478.05L457.47 477.71L457.61 477.66L457.75 476.49L457.89 475.92L458.03 474.88L458.18 473.27L458.32 476.57L458.46 478.71L458.60 477.61L458.74 479.74L458.88 482.66L459.02 477.03L459.16 474.29L459.30 475.22L459.44 478.75L459.58 481.69L459.72 474.87L459.86 478.49L460.00 473.99L460.14 482.14L460.28 475.17L460.42 479.04L460.57 480.07L460.71 482.39L460.85 478.77" stroke="#1a1a1a" stroke-width="0.55" fill="none" stroke-linejoin="round" filter="url(#bl)"/>
<text x="47.1" y="300.6" class="ti">FACC - 28<tspan dy="-4" style="font-size:6.5px">th</tspan><tspan dy="4"> Day</tspan></text>
<text x="45.1" y="312.90" class="lg">M - Mullite</text>
<text x="45.1" y="321.97" class="lg">E - Ettringite</text>
<text x="45.1" y="331.04" class="lg">CC - Calcite</text>
<text x="45.1" y="340.11" class="lg">CSH - Calcium Silicate Hydrate</text>
<text transform="translate(97.10 451.00) scale(1 1.08)" class="pk">E</text>
<text transform="translate(108.20 408.00) scale(1 1.08)" class="pk">CSH</text>
<text transform="translate(134.30 437.90) scale(1 1.08)" class="pk">CC</text>
<text transform="translate(141.60 447.80) scale(1 1.08)" class="pk">CSH</text>
<text transform="translate(153.30 377.40) scale(1 1.08)" class="pk">M</text>
<text transform="translate(169.80 345.40) scale(1 1.08)" class="pk">M</text>
<text transform="translate(176.50 384.10) scale(1 1.08)" class="pk">CSH</text>
<text transform="translate(188.60 407.90) scale(1 1.08)" class="pk">CSH</text>
<text transform="translate(205.40 447.30) scale(1 1.08)" class="pk">CSH</text>
<text transform="translate(197.90 456.90) scale(1 1.08)" class="pk">CSH</text>
<text transform="translate(236.10 456.10) scale(1 1.08)" class="pk">CSH</text>
<text transform="translate(272.60 449.30) scale(1 1.08)" class="pk">CSH</text>
<text transform="translate(285.20 463.70) scale(1 1.08)" class="pk">CSH</text>
<text transform="translate(328.80 464.20) scale(1 1.08)" class="pk">E</text>
<text transform="translate(352.70 462.90) scale(1 1.08)" class="pk">E</text>
<text transform="translate(370.30 473.00) scale(1 1.08)" class="pk">E</text>
<text transform="translate(399.90 470.50) scale(1 1.08)" class="pk">E</text>
<text transform="translate(420.00 469.20) scale(1 1.08)" class="pk">E</text>
<text transform="translate(445.60 473.00) scale(1 1.08)" class="pk">E</text>
<text x="273" y="532.7" text-anchor="middle" class="ax">Pos. [°2Th.]</text>
<text transform="translate(12.2 390.8) rotate(-90)" text-anchor="middle" class="ax">Iobs [cts]</text>
<text x="262" y="548" text-anchor="middle" class="cap">(<tspan font-weight="bold">b</tspan>)</text>
<clipPath id="cs2"><rect x="294" y="290" width="207" height="134"/></clipPath>
<filter id="fs2" filterUnits="userSpaceOnUse" x="292" y="288" width="211" height="138" color-interpolation-filters="sRGB"><feGaussianBlur in="SourceGraphic" stdDeviation="1.2" result="b"/><feTurbulence type="fractalNoise" baseFrequency="0.11" numOctaves="4" seed="7" result="t"/><feColorMatrix in="t" type="matrix" values="0.4 0 0 0 0.3  0.4 0 0 0 0.3  0.4 0 0 0 0.3  0 0 0 0 1" result="g"/><feBlend in="g" in2="b" mode="overlay"/></filter>
<g clip-path="url(#cs2)"><g filter="url(#fs2)">
<path fill="#080808" d="M288.0 284.0h10.3v10.2h-10.3zM385.6 284.0h4.3v10.2h-4.3zM389.5 284.0h4.3v10.2h-4.3zM393.5 284.0h4.3v10.2h-4.3zM397.5 284.0h4.3v10.2h-4.3zM497.0 284.0h10.3v10.2h-10.3zM288.0 293.9h10.3v4.2h-10.3zM385.6 293.9h4.3v4.2h-4.3zM389.5 293.9h4.3v4.2h-4.3zM393.5 293.9h4.3v4.2h-4.3zM397.5 293.9h4.3v4.2h-4.3zM288.0 297.9h10.3v4.2h-10.3zM393.5 297.9h4.3v4.2h-4.3zM397.5 297.9h4.3v4.2h-4.3zM457.2 297.9h4.3v4.2h-4.3zM288.0 301.8h10.3v4.2h-10.3zM393.5 301.8h4.3v4.2h-4.3zM397.5 301.8h4.3v4.2h-4.3zM453.2 301.8h4.3v4.2h-4.3zM457.2 301.8h4.3v4.2h-4.3zM397.5 305.8h4.3v4.2h-4.3zM365.7 420.1h4.3v10.2h-4.3zM369.6 420.1h4.3v10.2h-4.3zM373.6 420.1h4.3v10.2h-4.3z"/>
<path fill="#0c0c0c" d="M381.6 284.0h4.3v10.2h-4.3zM298.0 297.9h4.3v4.2h-4.3zM389.5 297.9h4.3v4.2h-4.3zM409.4 360.9h4.3v4.2h-4.3zM413.4 360.9h4.3v4.2h-4.3zM421.4 360.9h4.3v4.2h-4.3zM433.3 412.2h4.3v4.2h-4.3zM365.7 416.1h4.3v4.2h-4.3zM369.6 416.1h4.3v4.2h-4.3zM433.3 416.1h4.3v4.2h-4.3zM433.3 420.1h4.3v10.2h-4.3zM437.3 420.1h4.3v10.2h-4.3z"/>
<path fill="#101010" d="M298.0 284.0h4.3v10.2h-4.3zM298.0 293.9h4.3v4.2h-4.3zM298.0 301.8h4.3v4.2h-4.3zM288.0 305.8h10.3v4.2h-10.3zM417.4 360.9h4.3v4.2h-4.3zM437.3 416.1h4.3v4.2h-4.3z"/>
<path fill="#141414" d="M497.0 293.9h10.3v4.2h-10.3zM453.2 297.9h4.3v4.2h-4.3zM461.2 297.9h4.3v4.2h-4.3z"/>
<path fill="#181818" d="M401.5 305.8h4.3v4.2h-4.3zM288.0 309.7h10.3v4.2h-10.3zM425.4 360.9h4.3v4.2h-4.3zM409.4 364.9h4.3v4.2h-4.3zM413.4 364.9h4.3v4.2h-4.3zM437.3 412.2h4.3v4.2h-4.3zM373.6 416.1h4.3v4.2h-4.3zM361.7 420.1h4.3v10.2h-4.3z"/>
<path fill="#1c1c1c" d="M401.5 284.0h4.3v10.2h-4.3zM401.5 293.9h4.3v4.2h-4.3zM389.5 301.8h4.3v4.2h-4.3zM449.2 301.8h4.3v4.2h-4.3zM298.0 305.8h4.3v4.2h-4.3zM397.5 309.7h4.3v4.2h-4.3zM421.4 357.0h4.3v4.2h-4.3zM417.4 364.9h4.3v4.2h-4.3zM433.3 408.2h4.3v4.2h-4.3zM377.6 420.1h4.3v10.2h-4.3z"/>
<path fill="#202020" d="M493.0 284.0h4.3v10.2h-4.3zM381.6 293.9h4.3v4.2h-4.3zM457.2 293.9h4.3v4.2h-4.3zM302.0 297.9h4.3v4.2h-4.3zM401.5 297.9h4.3v4.2h-4.3zM401.5 301.8h4.3v4.2h-4.3zM393.5 305.8h4.3v4.2h-4.3zM401.5 309.7h4.3v4.2h-4.3zM288.0 313.6h10.3v4.2h-10.3zM425.4 357.0h4.3v4.2h-4.3zM365.7 412.2h4.3v4.2h-4.3z"/>
<path fill="#242424" d="M302.0 293.9h4.3v4.2h-4.3zM302.0 301.8h4.3v4.2h-4.3zM461.2 301.8h4.3v4.2h-4.3zM449.2 305.8h4.3v4.2h-4.3zM453.2 305.8h4.3v4.2h-4.3zM405.5 360.9h4.3v4.2h-4.3zM441.3 420.1h4.3v10.2h-4.3z"/>
<path fill="#282828" d="M302.0 284.0h4.3v10.2h-4.3zM461.2 293.9h4.3v4.2h-4.3zM385.6 297.9h4.3v4.2h-4.3zM409.4 357.0h4.3v4.2h-4.3zM413.4 357.0h4.3v4.2h-4.3zM417.4 357.0h4.3v4.2h-4.3zM421.4 364.9h4.3v4.2h-4.3zM409.4 368.8h4.3v4.2h-4.3zM413.4 368.8h4.3v4.2h-4.3zM361.7 416.1h4.3v4.2h-4.3z"/>
<path fill="#2d2d2d" d="M461.2 284.0h4.3v10.2h-4.3zM298.0 309.7h4.3v4.2h-4.3zM405.5 364.9h4.3v4.2h-4.3zM417.4 368.8h4.3v4.2h-4.3z"/>
<path fill="#313131" d="M457.2 284.0h4.3v10.2h-4.3zM288.0 317.6h10.3v4.2h-10.3zM437.3 408.2h4.3v4.2h-4.3zM429.3 412.2h4.3v4.2h-4.3zM441.3 416.1h4.3v4.2h-4.3z"/>
<path fill="#353535" d="M493.0 293.9h4.3v4.2h-4.3zM305.9 297.9h4.3v4.2h-4.3zM449.2 297.9h4.3v4.2h-4.3zM369.6 412.2h4.3v4.2h-4.3zM429.3 416.1h4.3v4.2h-4.3z"/>
<path fill="#393939" d="M389.5 305.8h4.3v4.2h-4.3zM449.2 309.7h4.3v4.2h-4.3zM298.0 313.6h4.3v4.2h-4.3zM425.4 364.9h4.3v4.2h-4.3zM377.6 416.1h4.3v4.2h-4.3zM357.7 420.1h4.3v10.2h-4.3zM429.3 420.1h4.3v10.2h-4.3z"/>
<path fill="#3d3d3d" d="M305.9 293.9h4.3v4.2h-4.3zM305.9 301.8h4.3v4.2h-4.3zM405.5 368.8h4.3v4.2h-4.3zM421.4 368.8h4.3v4.2h-4.3zM413.4 372.8h4.3v4.2h-4.3zM429.3 408.2h4.3v4.2h-4.3z"/>
<path fill="#414141" d="M305.9 284.0h4.3v10.2h-4.3zM302.0 305.8h4.3v4.2h-4.3zM445.3 305.8h4.3v4.2h-4.3zM393.5 309.7h4.3v4.2h-4.3zM409.4 372.8h4.3v4.2h-4.3zM417.4 372.8h4.3v4.2h-4.3z"/>
<path fill="#454545" d="M453.2 293.9h4.3v4.2h-4.3zM385.6 301.8h4.3v4.2h-4.3zM457.2 305.8h4.3v4.2h-4.3zM445.3 309.7h4.3v4.2h-4.3zM497.0 317.6h10.3v4.2h-10.3zM405.5 357.0h4.3v4.2h-4.3zM421.4 372.8h4.3v4.2h-4.3zM365.7 408.2h4.3v4.2h-4.3zM361.7 412.2h4.3v4.2h-4.3z"/>
<path fill="#494949" d="M385.6 305.8h4.3v4.2h-4.3zM453.2 309.7h4.3v4.2h-4.3zM397.5 313.6h4.3v4.2h-4.3zM345.8 360.9h4.3v4.2h-4.3zM405.5 372.8h4.3v4.2h-4.3z"/>
<path fill="#4d4d4d" d="M309.9 297.9h4.3v4.2h-4.3zM381.6 297.9h4.3v4.2h-4.3zM497.0 297.9h10.3v4.2h-10.3zM401.5 313.6h4.3v4.2h-4.3zM298.0 317.6h4.3v4.2h-4.3zM401.5 360.9h4.3v4.2h-4.3zM429.3 360.9h4.3v4.2h-4.3zM421.4 376.7h4.3v4.2h-4.3zM433.3 404.3h4.3v4.2h-4.3zM441.3 412.2h4.3v4.2h-4.3zM357.7 416.1h4.3v4.2h-4.3zM381.6 420.1h4.3v10.2h-4.3zM445.3 420.1h4.3v10.2h-4.3z"/>
<path fill="#515151" d="M309.9 293.9h4.3v4.2h-4.3zM385.6 309.7h4.3v4.2h-4.3zM389.5 309.7h4.3v4.2h-4.3zM405.5 309.7h4.3v4.2h-4.3zM497.0 313.6h10.3v4.2h-10.3zM497.0 321.5h10.3v4.2h-10.3zM421.4 353.1h4.3v4.2h-4.3zM425.4 353.1h4.3v4.2h-4.3zM429.3 357.0h4.3v4.2h-4.3zM401.5 364.9h4.3v4.2h-4.3zM425.4 368.8h4.3v4.2h-4.3zM425.4 372.8h4.3v4.2h-4.3zM409.4 376.7h4.3v4.2h-4.3zM413.4 376.7h4.3v4.2h-4.3zM425.4 376.7h4.3v4.2h-4.3z"/>
<path fill="#555555" d="M309.9 284.0h4.3v10.2h-4.3zM337.8 284.0h4.3v10.2h-4.3zM445.3 301.8h4.3v4.2h-4.3zM441.3 309.7h4.3v4.2h-4.3zM385.6 313.6h4.3v4.2h-4.3zM493.0 317.6h4.3v4.2h-4.3zM349.7 360.9h4.3v4.2h-4.3zM417.4 376.7h4.3v4.2h-4.3zM445.3 416.1h4.3v4.2h-4.3z"/>
<path fill="#595959" d="M333.8 284.0h4.3v10.2h-4.3zM377.6 284.0h4.3v10.2h-4.3zM405.5 284.0h4.3v10.2h-4.3zM453.2 284.0h4.3v10.2h-4.3zM449.2 293.9h4.3v4.2h-4.3zM309.9 301.8h4.3v4.2h-4.3zM405.5 305.8h4.3v4.2h-4.3zM441.3 305.8h4.3v4.2h-4.3zM302.0 309.7h4.3v4.2h-4.3zM381.6 309.7h4.3v4.2h-4.3zM381.6 313.6h4.3v4.2h-4.3zM497.0 349.1h10.3v4.2h-10.3zM417.4 353.1h4.3v4.2h-4.3zM497.0 353.1h10.3v4.2h-10.3zM345.8 364.9h4.3v4.2h-4.3zM401.5 368.8h4.3v4.2h-4.3zM405.5 376.7h4.3v4.2h-4.3zM429.3 404.3h4.3v4.2h-4.3zM373.6 412.2h4.3v4.2h-4.3z"/>
<path fill="#5d5d5d" d="M313.9 297.9h4.3v4.2h-4.3zM425.4 309.7h4.3v4.2h-4.3zM393.5 313.6h4.3v4.2h-4.3zM493.0 313.6h4.3v4.2h-4.3zM425.4 337.3h4.3v4.2h-4.3zM345.8 357.0h4.3v4.2h-4.3zM341.8 360.9h4.3v4.2h-4.3zM429.3 364.9h4.3v4.2h-4.3zM401.5 372.8h4.3v4.2h-4.3zM421.4 380.6h4.3v4.2h-4.3zM437.3 404.3h4.3v4.2h-4.3zM425.4 412.2h4.3v4.2h-4.3zM381.6 416.1h4.3v4.2h-4.3z"/>
<path fill="#616161" d="M313.9 284.0h4.3v10.2h-4.3zM317.9 284.0h4.3v10.2h-4.3zM321.9 284.0h4.3v10.2h-4.3zM325.8 284.0h4.3v10.2h-4.3zM329.8 284.0h4.3v10.2h-4.3zM313.9 293.9h4.3v4.2h-4.3zM377.6 293.9h4.3v4.2h-4.3zM405.5 293.9h4.3v4.2h-4.3zM317.9 297.9h4.3v4.2h-4.3zM445.3 297.9h4.3v4.2h-4.3zM493.0 297.9h4.3v4.2h-4.3zM305.9 305.8h4.3v4.2h-4.3zM381.6 305.8h4.3v4.2h-4.3zM497.0 309.7h10.3v4.2h-10.3zM389.5 313.6h4.3v4.2h-4.3zM381.6 317.6h4.3v4.2h-4.3zM385.6 317.6h4.3v4.2h-4.3zM288.0 321.5h10.3v4.2h-10.3zM493.0 321.5h4.3v4.2h-4.3zM461.2 325.5h4.3v4.2h-4.3zM497.0 325.5h10.3v4.2h-10.3zM497.0 333.4h10.3v4.2h-10.3zM421.4 337.3h4.3v4.2h-4.3zM425.4 341.2h4.3v4.2h-4.3zM497.0 345.2h10.3v4.2h-10.3zM413.4 353.1h4.3v4.2h-4.3zM429.3 353.1h4.3v4.2h-4.3zM497.0 357.0h10.3v4.2h-10.3zM341.8 364.9h4.3v4.2h-4.3zM497.0 368.8h10.3v4.2h-10.3zM497.0 372.8h10.3v4.2h-10.3zM497.0 376.7h10.3v4.2h-10.3zM409.4 380.6h4.3v4.2h-4.3zM413.4 380.6h4.3v4.2h-4.3zM417.4 380.6h4.3v4.2h-4.3zM425.4 380.6h4.3v4.2h-4.3zM497.0 380.6h10.3v4.2h-10.3zM497.0 384.6h10.3v4.2h-10.3zM497.0 388.5h10.3v4.2h-10.3zM497.0 392.5h10.3v4.2h-10.3zM497.0 396.4h10.3v4.2h-10.3zM497.0 400.4h10.3v4.2h-10.3zM425.4 408.2h4.3v4.2h-4.3zM489.1 408.2h4.3v4.2h-4.3zM425.4 416.1h4.3v4.2h-4.3zM425.4 420.1h4.3v10.2h-4.3z"/>
<path fill="#656565" d="M341.8 284.0h4.3v10.2h-4.3zM317.9 293.9h4.3v4.2h-4.3zM321.9 293.9h4.3v4.2h-4.3zM325.8 293.9h4.3v4.2h-4.3zM329.8 293.9h4.3v4.2h-4.3zM333.8 293.9h4.3v4.2h-4.3zM337.8 293.9h4.3v4.2h-4.3zM321.9 297.9h4.3v4.2h-4.3zM325.8 297.9h4.3v4.2h-4.3zM421.4 309.7h4.3v4.2h-4.3zM429.3 309.7h4.3v4.2h-4.3zM421.4 313.6h4.3v4.2h-4.3zM425.4 313.6h4.3v4.2h-4.3zM449.2 313.6h4.3v4.2h-4.3zM457.2 325.5h4.3v4.2h-4.3zM461.2 329.4h4.3v4.2h-4.3zM497.0 329.4h10.3v4.2h-10.3zM421.4 333.4h4.3v4.2h-4.3zM425.4 333.4h4.3v4.2h-4.3zM497.0 337.3h10.3v4.2h-10.3zM421.4 341.2h4.3v4.2h-4.3zM497.0 341.2h10.3v4.2h-10.3zM425.4 345.2h4.3v4.2h-4.3zM493.0 349.1h4.3v4.2h-4.3zM493.0 353.1h4.3v4.2h-4.3zM349.7 357.0h4.3v4.2h-4.3zM497.0 360.9h10.3v4.2h-10.3zM497.0 364.9h10.3v4.2h-10.3zM401.5 376.7h4.3v4.2h-4.3zM405.5 380.6h4.3v4.2h-4.3zM369.6 408.2h4.3v4.2h-4.3zM441.3 408.2h4.3v4.2h-4.3zM485.1 408.2h4.3v4.2h-4.3z"/>
<path fill="#696969" d="M449.2 284.0h4.3v10.2h-4.3zM445.3 293.9h4.3v4.2h-4.3zM329.8 297.9h4.3v4.2h-4.3zM465.2 297.9h4.3v4.2h-4.3zM381.6 301.8h4.3v4.2h-4.3zM425.4 305.8h4.3v4.2h-4.3zM461.2 305.8h4.3v4.2h-4.3zM437.3 309.7h4.3v4.2h-4.3zM493.0 309.7h4.3v4.2h-4.3zM405.5 313.6h4.3v4.2h-4.3zM457.2 329.4h4.3v4.2h-4.3zM421.4 345.2h4.3v4.2h-4.3zM493.0 345.2h4.3v4.2h-4.3zM425.4 349.1h4.3v4.2h-4.3zM429.3 349.1h4.3v4.2h-4.3zM401.5 357.0h4.3v4.2h-4.3zM493.0 357.0h4.3v4.2h-4.3zM349.7 364.9h4.3v4.2h-4.3zM429.3 368.8h4.3v4.2h-4.3zM429.3 372.8h4.3v4.2h-4.3zM425.4 404.3h4.3v4.2h-4.3zM497.0 404.3h10.3v4.2h-10.3zM361.7 408.2h4.3v4.2h-4.3zM485.1 412.2h4.3v4.2h-4.3zM489.1 412.2h4.3v4.2h-4.3zM353.7 420.1h4.3v10.2h-4.3z"/>
<path fill="#6d6d6d" d="M445.3 284.0h4.3v10.2h-4.3zM405.5 297.9h4.3v4.2h-4.3zM313.9 301.8h4.3v4.2h-4.3zM429.3 305.8h4.3v4.2h-4.3zM437.3 305.8h4.3v4.2h-4.3zM497.0 305.8h10.3v4.2h-10.3zM417.4 309.7h4.3v4.2h-4.3zM417.4 313.6h4.3v4.2h-4.3zM445.3 313.6h4.3v4.2h-4.3zM453.2 313.6h4.3v4.2h-4.3zM389.5 317.6h4.3v4.2h-4.3zM421.4 317.6h4.3v4.2h-4.3zM401.5 325.5h4.3v4.2h-4.3zM405.5 325.5h4.3v4.2h-4.3zM493.0 325.5h4.3v4.2h-4.3zM493.0 329.4h4.3v4.2h-4.3zM417.4 333.4h4.3v4.2h-4.3zM493.0 333.4h4.3v4.2h-4.3zM417.4 337.3h4.3v4.2h-4.3zM493.0 337.3h4.3v4.2h-4.3zM417.4 341.2h4.3v4.2h-4.3zM429.3 341.2h4.3v4.2h-4.3zM457.2 341.2h4.3v4.2h-4.3zM493.0 341.2h4.3v4.2h-4.3zM429.3 345.2h4.3v4.2h-4.3zM457.2 345.2h4.3v4.2h-4.3zM421.4 349.1h4.3v4.2h-4.3zM433.3 349.1h4.3v4.2h-4.3zM409.4 353.1h4.3v4.2h-4.3zM341.8 357.0h4.3v4.2h-4.3zM445.3 357.0h4.3v4.2h-4.3zM493.0 360.9h4.3v4.2h-4.3zM493.0 364.9h4.3v4.2h-4.3zM493.0 368.8h4.3v4.2h-4.3zM493.0 372.8h4.3v4.2h-4.3zM429.3 376.7h4.3v4.2h-4.3zM493.0 376.7h4.3v4.2h-4.3zM401.5 380.6h4.3v4.2h-4.3zM493.0 380.6h4.3v4.2h-4.3zM421.4 384.6h4.3v4.2h-4.3zM425.4 384.6h4.3v4.2h-4.3zM493.0 384.6h4.3v4.2h-4.3zM493.0 388.5h4.3v4.2h-4.3zM493.0 392.5h4.3v4.2h-4.3zM493.0 396.4h4.3v4.2h-4.3zM429.3 400.4h4.3v4.2h-4.3zM493.0 400.4h4.3v4.2h-4.3zM493.0 404.3h4.3v4.2h-4.3zM493.0 408.2h4.3v4.2h-4.3zM445.3 412.2h4.3v4.2h-4.3z"/>
<path fill="#717171" d="M465.2 293.9h4.3v4.2h-4.3zM317.9 301.8h4.3v4.2h-4.3zM405.5 301.8h4.3v4.2h-4.3zM465.2 301.8h4.3v4.2h-4.3zM497.0 301.8h10.3v4.2h-10.3zM433.3 309.7h4.3v4.2h-4.3zM302.0 313.6h4.3v4.2h-4.3zM377.6 313.6h4.3v4.2h-4.3zM377.6 317.6h4.3v4.2h-4.3zM393.5 317.6h4.3v4.2h-4.3zM397.5 317.6h4.3v4.2h-4.3zM417.4 317.6h4.3v4.2h-4.3zM425.4 317.6h4.3v4.2h-4.3zM298.0 321.5h4.3v4.2h-4.3zM401.5 321.5h4.3v4.2h-4.3zM409.4 325.5h4.3v4.2h-4.3zM429.3 337.3h4.3v4.2h-4.3zM417.4 345.2h4.3v4.2h-4.3zM457.2 349.1h4.3v4.2h-4.3zM449.2 357.0h4.3v4.2h-4.3zM445.3 360.9h4.3v4.2h-4.3zM449.2 360.9h4.3v4.2h-4.3zM313.9 368.8h4.3v4.2h-4.3zM341.8 368.8h4.3v4.2h-4.3zM345.8 368.8h4.3v4.2h-4.3zM405.5 384.6h4.3v4.2h-4.3zM409.4 384.6h4.3v4.2h-4.3zM413.4 384.6h4.3v4.2h-4.3zM417.4 384.6h4.3v4.2h-4.3zM425.4 400.4h4.3v4.2h-4.3zM433.3 400.4h4.3v4.2h-4.3zM497.0 408.2h10.3v4.2h-10.3zM377.6 412.2h4.3v4.2h-4.3zM421.4 420.1h4.3v10.2h-4.3z"/>
<path fill="#757575" d="M441.3 284.0h4.3v10.2h-4.3zM465.2 284.0h4.3v10.2h-4.3zM489.1 284.0h4.3v10.2h-4.3zM341.8 293.9h4.3v4.2h-4.3zM321.9 301.8h4.3v4.2h-4.3zM441.3 301.8h4.3v4.2h-4.3zM421.4 305.8h4.3v4.2h-4.3zM433.3 305.8h4.3v4.2h-4.3zM493.0 305.8h4.3v4.2h-4.3zM409.4 309.7h4.3v4.2h-4.3zM413.4 309.7h4.3v4.2h-4.3zM489.1 309.7h4.3v4.2h-4.3zM413.4 313.6h4.3v4.2h-4.3zM429.3 313.6h4.3v4.2h-4.3zM489.1 313.6h4.3v4.2h-4.3zM401.5 317.6h4.3v4.2h-4.3zM397.5 321.5h4.3v4.2h-4.3zM405.5 321.5h4.3v4.2h-4.3zM397.5 325.5h4.3v4.2h-4.3zM429.3 333.4h4.3v4.2h-4.3zM457.2 333.4h4.3v4.2h-4.3zM461.2 333.4h4.3v4.2h-4.3zM457.2 337.3h4.3v4.2h-4.3zM461.2 345.2h4.3v4.2h-4.3zM417.4 349.1h4.3v4.2h-4.3zM461.2 349.1h4.3v4.2h-4.3zM433.3 353.1h4.3v4.2h-4.3zM457.2 353.1h4.3v4.2h-4.3zM441.3 357.0h4.3v4.2h-4.3zM453.2 357.0h4.3v4.2h-4.3zM397.5 360.9h4.3v4.2h-4.3zM453.2 360.9h4.3v4.2h-4.3zM337.8 364.9h4.3v4.2h-4.3zM397.5 364.9h4.3v4.2h-4.3zM317.9 368.8h4.3v4.2h-4.3zM429.3 380.6h4.3v4.2h-4.3zM401.5 384.6h4.3v4.2h-4.3zM489.1 404.3h4.3v4.2h-4.3zM493.0 412.2h4.3v4.2h-4.3zM421.4 416.1h4.3v4.2h-4.3zM385.6 420.1h4.3v10.2h-4.3z"/>
<path fill="#797979" d="M441.3 293.9h4.3v4.2h-4.3zM333.8 297.9h4.3v4.2h-4.3zM325.8 301.8h4.3v4.2h-4.3zM377.6 309.7h4.3v4.2h-4.3zM409.4 313.6h4.3v4.2h-4.3zM441.3 313.6h4.3v4.2h-4.3zM413.4 317.6h4.3v4.2h-4.3zM489.1 317.6h4.3v4.2h-4.3zM409.4 321.5h4.3v4.2h-4.3zM413.4 321.5h4.3v4.2h-4.3zM457.2 321.5h4.3v4.2h-4.3zM461.2 321.5h4.3v4.2h-4.3zM413.4 325.5h4.3v4.2h-4.3zM409.4 329.4h4.3v4.2h-4.3zM413.4 329.4h4.3v4.2h-4.3zM413.4 333.4h4.3v4.2h-4.3zM413.4 337.3h4.3v4.2h-4.3zM461.2 337.3h4.3v4.2h-4.3zM413.4 341.2h4.3v4.2h-4.3zM461.2 341.2h4.3v4.2h-4.3zM433.3 345.2h4.3v4.2h-4.3zM437.3 349.1h4.3v4.2h-4.3zM441.3 353.1h4.3v4.2h-4.3zM461.2 353.1h4.3v4.2h-4.3zM457.2 357.0h4.3v4.2h-4.3zM489.1 357.0h4.3v4.2h-4.3zM337.8 360.9h4.3v4.2h-4.3zM489.1 360.9h4.3v4.2h-4.3zM309.9 368.8h4.3v4.2h-4.3zM397.5 368.8h4.3v4.2h-4.3zM429.3 396.4h4.3v4.2h-4.3zM421.4 412.2h4.3v4.2h-4.3zM497.0 412.2h10.3v4.2h-10.3zM353.7 416.1h4.3v4.2h-4.3z"/>
<path fill="#7d7d7d" d="M489.1 293.9h4.3v4.2h-4.3zM377.6 297.9h4.3v4.2h-4.3zM441.3 297.9h4.3v4.2h-4.3zM329.8 301.8h4.3v4.2h-4.3zM425.4 301.8h4.3v4.2h-4.3zM429.3 301.8h4.3v4.2h-4.3zM437.3 301.8h4.3v4.2h-4.3zM493.0 301.8h4.3v4.2h-4.3zM309.9 305.8h4.3v4.2h-4.3zM457.2 309.7h4.3v4.2h-4.3zM405.5 317.6h4.3v4.2h-4.3zM377.6 321.5h4.3v4.2h-4.3zM381.6 321.5h4.3v4.2h-4.3zM417.4 321.5h4.3v4.2h-4.3zM489.1 321.5h4.3v4.2h-4.3zM453.2 325.5h4.3v4.2h-4.3zM405.5 329.4h4.3v4.2h-4.3zM417.4 329.4h4.3v4.2h-4.3zM421.4 329.4h4.3v4.2h-4.3zM453.2 341.2h4.3v4.2h-4.3zM413.4 345.2h4.3v4.2h-4.3zM453.2 345.2h4.3v4.2h-4.3zM453.2 349.1h4.3v4.2h-4.3zM437.3 353.1h4.3v4.2h-4.3zM445.3 353.1h4.3v4.2h-4.3zM449.2 353.1h4.3v4.2h-4.3zM453.2 353.1h4.3v4.2h-4.3zM489.1 353.1h4.3v4.2h-4.3zM337.8 357.0h4.3v4.2h-4.3zM441.3 360.9h4.3v4.2h-4.3zM457.2 360.9h4.3v4.2h-4.3zM449.2 364.9h4.3v4.2h-4.3zM453.2 364.9h4.3v4.2h-4.3zM349.7 368.8h4.3v4.2h-4.3zM397.5 372.8h4.3v4.2h-4.3zM397.5 376.7h4.3v4.2h-4.3zM429.3 384.6h4.3v4.2h-4.3zM401.5 388.5h4.3v4.2h-4.3zM425.4 388.5h4.3v4.2h-4.3zM425.4 396.4h4.3v4.2h-4.3zM433.3 396.4h4.3v4.2h-4.3zM437.3 400.4h4.3v4.2h-4.3zM421.4 404.3h4.3v4.2h-4.3zM421.4 408.2h4.3v4.2h-4.3zM357.7 412.2h4.3v4.2h-4.3zM485.1 416.1h4.3v4.2h-4.3zM489.1 416.1h4.3v4.2h-4.3zM449.2 420.1h4.3v10.2h-4.3z"/>
<path fill="#828282" d="M433.3 301.8h4.3v4.2h-4.3zM377.6 305.8h4.3v4.2h-4.3zM417.4 305.8h4.3v4.2h-4.3zM409.4 317.6h4.3v4.2h-4.3zM373.6 321.5h4.3v4.2h-4.3zM385.6 321.5h4.3v4.2h-4.3zM389.5 321.5h4.3v4.2h-4.3zM393.5 321.5h4.3v4.2h-4.3zM421.4 321.5h4.3v4.2h-4.3zM453.2 321.5h4.3v4.2h-4.3zM373.6 325.5h4.3v4.2h-4.3zM465.2 325.5h4.3v4.2h-4.3zM489.1 325.5h4.3v4.2h-4.3zM373.6 329.4h4.3v4.2h-4.3zM401.5 329.4h4.3v4.2h-4.3zM425.4 329.4h4.3v4.2h-4.3zM489.1 329.4h4.3v4.2h-4.3zM373.6 333.4h4.3v4.2h-4.3zM489.1 333.4h4.3v4.2h-4.3zM489.1 337.3h4.3v4.2h-4.3zM433.3 341.2h4.3v4.2h-4.3zM489.1 341.2h4.3v4.2h-4.3zM489.1 345.2h4.3v4.2h-4.3zM413.4 349.1h4.3v4.2h-4.3zM489.1 349.1h4.3v4.2h-4.3zM461.2 357.0h4.3v4.2h-4.3zM313.9 364.9h4.3v4.2h-4.3zM317.9 364.9h4.3v4.2h-4.3zM433.3 364.9h4.3v4.2h-4.3zM489.1 364.9h4.3v4.2h-4.3zM321.9 368.8h4.3v4.2h-4.3zM337.8 368.8h4.3v4.2h-4.3zM433.3 368.8h4.3v4.2h-4.3zM305.9 372.8h4.3v4.2h-4.3zM309.9 372.8h4.3v4.2h-4.3zM397.5 380.6h4.3v4.2h-4.3zM421.4 388.5h4.3v4.2h-4.3zM429.3 388.5h4.3v4.2h-4.3zM429.3 392.5h4.3v4.2h-4.3zM433.3 392.5h4.3v4.2h-4.3zM421.4 400.4h4.3v4.2h-4.3zM441.3 404.3h4.3v4.2h-4.3zM485.1 404.3h4.3v4.2h-4.3zM481.1 408.2h4.3v4.2h-4.3zM481.1 412.2h4.3v4.2h-4.3zM385.6 416.1h4.3v4.2h-4.3zM449.2 416.1h4.3v4.2h-4.3zM493.0 416.1h4.3v4.2h-4.3zM497.0 416.1h10.3v4.2h-10.3zM417.4 420.1h4.3v10.2h-4.3z"/>
<path fill="#868686" d="M437.3 297.9h4.3v4.2h-4.3zM489.1 305.8h4.3v4.2h-4.3zM305.9 309.7h4.3v4.2h-4.3zM485.1 309.7h4.3v4.2h-4.3zM302.0 317.6h4.3v4.2h-4.3zM373.6 317.6h4.3v4.2h-4.3zM429.3 317.6h4.3v4.2h-4.3zM449.2 317.6h4.3v4.2h-4.3zM453.2 317.6h4.3v4.2h-4.3zM425.4 321.5h4.3v4.2h-4.3zM417.4 325.5h4.3v4.2h-4.3zM329.8 349.1h4.3v4.2h-4.3zM333.8 349.1h4.3v4.2h-4.3zM333.8 353.1h4.3v4.2h-4.3zM405.5 353.1h4.3v4.2h-4.3zM433.3 357.0h4.3v4.2h-4.3zM353.7 360.9h4.3v4.2h-4.3zM485.1 360.9h4.3v4.2h-4.3zM445.3 364.9h4.3v4.2h-4.3zM489.1 368.8h4.3v4.2h-4.3zM313.9 372.8h4.3v4.2h-4.3zM317.9 372.8h4.3v4.2h-4.3zM489.1 372.8h4.3v4.2h-4.3zM305.9 376.7h4.3v4.2h-4.3zM489.1 376.7h4.3v4.2h-4.3zM321.9 380.6h4.3v4.2h-4.3zM489.1 380.6h4.3v4.2h-4.3zM321.9 384.6h4.3v4.2h-4.3zM397.5 384.6h4.3v4.2h-4.3zM489.1 384.6h4.3v4.2h-4.3zM397.5 388.5h4.3v4.2h-4.3zM405.5 388.5h4.3v4.2h-4.3zM489.1 388.5h4.3v4.2h-4.3zM397.5 392.5h4.3v4.2h-4.3zM401.5 392.5h4.3v4.2h-4.3zM425.4 392.5h4.3v4.2h-4.3zM489.1 392.5h4.3v4.2h-4.3zM437.3 396.4h4.3v4.2h-4.3zM489.1 396.4h4.3v4.2h-4.3zM489.1 400.4h4.3v4.2h-4.3zM445.3 408.2h4.3v4.2h-4.3zM381.6 412.2h4.3v4.2h-4.3zM417.4 416.1h4.3v4.2h-4.3zM489.1 420.1h4.3v10.2h-4.3zM493.0 420.1h4.3v10.2h-4.3zM497.0 420.1h10.3v10.2h-10.3z"/>
<path fill="#8a8a8a" d="M409.4 284.0h4.3v10.2h-4.3zM437.3 284.0h4.3v10.2h-4.3zM437.3 293.9h4.3v4.2h-4.3zM429.3 297.9h4.3v4.2h-4.3zM433.3 297.9h4.3v4.2h-4.3zM377.6 301.8h4.3v4.2h-4.3zM409.4 305.8h4.3v4.2h-4.3zM413.4 305.8h4.3v4.2h-4.3zM465.2 305.8h4.3v4.2h-4.3zM373.6 313.6h4.3v4.2h-4.3zM433.3 313.6h4.3v4.2h-4.3zM437.3 313.6h4.3v4.2h-4.3zM449.2 321.5h4.3v4.2h-4.3zM465.2 321.5h4.3v4.2h-4.3zM369.6 325.5h4.3v4.2h-4.3zM393.5 325.5h4.3v4.2h-4.3zM449.2 325.5h4.3v4.2h-4.3zM369.6 329.4h4.3v4.2h-4.3zM397.5 329.4h4.3v4.2h-4.3zM429.3 329.4h4.3v4.2h-4.3zM453.2 329.4h4.3v4.2h-4.3zM409.4 333.4h4.3v4.2h-4.3zM409.4 337.3h4.3v4.2h-4.3zM433.3 337.3h4.3v4.2h-4.3zM409.4 341.2h4.3v4.2h-4.3zM437.3 345.2h4.3v4.2h-4.3zM441.3 349.1h4.3v4.2h-4.3zM449.2 349.1h4.3v4.2h-4.3zM329.8 353.1h4.3v4.2h-4.3zM337.8 353.1h4.3v4.2h-4.3zM353.7 357.0h4.3v4.2h-4.3zM397.5 357.0h4.3v4.2h-4.3zM485.1 357.0h4.3v4.2h-4.3zM461.2 360.9h4.3v4.2h-4.3zM321.9 364.9h4.3v4.2h-4.3zM441.3 364.9h4.3v4.2h-4.3zM457.2 364.9h4.3v4.2h-4.3zM449.2 368.8h4.3v4.2h-4.3zM453.2 368.8h4.3v4.2h-4.3zM345.8 372.8h4.3v4.2h-4.3zM349.7 372.8h4.3v4.2h-4.3zM433.3 372.8h4.3v4.2h-4.3zM409.4 388.5h4.3v4.2h-4.3zM417.4 388.5h4.3v4.2h-4.3zM433.3 388.5h4.3v4.2h-4.3zM437.3 392.5h4.3v4.2h-4.3zM365.7 404.3h4.3v4.2h-4.3zM449.2 412.2h4.3v4.2h-4.3zM481.1 416.1h4.3v4.2h-4.3zM485.1 420.1h4.3v10.2h-4.3z"/>
<path fill="#8e8e8e" d="M337.8 297.9h4.3v4.2h-4.3zM425.4 297.9h4.3v4.2h-4.3zM333.8 301.8h4.3v4.2h-4.3zM421.4 301.8h4.3v4.2h-4.3zM457.2 313.6h4.3v4.2h-4.3zM485.1 313.6h4.3v4.2h-4.3zM457.2 317.6h4.3v4.2h-4.3zM369.6 321.5h4.3v4.2h-4.3zM377.6 325.5h4.3v4.2h-4.3zM421.4 325.5h4.3v4.2h-4.3zM369.6 333.4h4.3v4.2h-4.3zM373.6 337.3h4.3v4.2h-4.3zM329.8 345.2h4.3v4.2h-4.3zM333.8 345.2h4.3v4.2h-4.3zM409.4 345.2h4.3v4.2h-4.3zM449.2 345.2h4.3v4.2h-4.3zM445.3 349.1h4.3v4.2h-4.3zM341.8 353.1h4.3v4.2h-4.3zM437.3 357.0h4.3v4.2h-4.3zM433.3 360.9h4.3v4.2h-4.3zM465.2 360.9h4.3v4.2h-4.3zM481.1 360.9h4.3v4.2h-4.3zM309.9 364.9h4.3v4.2h-4.3zM353.7 364.9h4.3v4.2h-4.3zM437.3 364.9h4.3v4.2h-4.3zM461.2 364.9h4.3v4.2h-4.3zM305.9 368.8h4.3v4.2h-4.3zM437.3 368.8h4.3v4.2h-4.3zM321.9 372.8h4.3v4.2h-4.3zM449.2 372.8h4.3v4.2h-4.3zM309.9 376.7h4.3v4.2h-4.3zM413.4 388.5h4.3v4.2h-4.3zM393.5 392.5h4.3v4.2h-4.3zM393.5 396.4h4.3v4.2h-4.3zM397.5 396.4h4.3v4.2h-4.3zM421.4 396.4h4.3v4.2h-4.3zM373.6 408.2h4.3v4.2h-4.3zM417.4 412.2h4.3v4.2h-4.3zM481.1 420.1h4.3v10.2h-4.3z"/>
<path fill="#929292" d="M345.8 284.0h4.3v10.2h-4.3zM409.4 293.9h4.3v4.2h-4.3zM425.4 293.9h4.3v4.2h-4.3zM429.3 293.9h4.3v4.2h-4.3zM433.3 293.9h4.3v4.2h-4.3zM489.1 297.9h4.3v4.2h-4.3zM313.9 305.8h4.3v4.2h-4.3zM469.2 309.7h4.3v4.2h-4.3zM469.2 313.6h4.3v4.2h-4.3zM445.3 317.6h4.3v4.2h-4.3zM429.3 321.5h4.3v4.2h-4.3zM445.3 321.5h4.3v4.2h-4.3zM288.0 325.5h10.3v4.2h-10.3zM349.7 325.5h4.3v4.2h-4.3zM353.7 325.5h4.3v4.2h-4.3zM445.3 325.5h4.3v4.2h-4.3zM329.8 329.4h4.3v4.2h-4.3zM333.8 329.4h4.3v4.2h-4.3zM433.3 329.4h4.3v4.2h-4.3zM333.8 333.4h4.3v4.2h-4.3zM337.8 333.4h4.3v4.2h-4.3zM405.5 333.4h4.3v4.2h-4.3zM433.3 333.4h4.3v4.2h-4.3zM333.8 337.3h4.3v4.2h-4.3zM337.8 337.3h4.3v4.2h-4.3zM453.2 337.3h4.3v4.2h-4.3zM333.8 341.2h4.3v4.2h-4.3zM337.8 341.2h4.3v4.2h-4.3zM337.8 345.2h4.3v4.2h-4.3zM337.8 349.1h4.3v4.2h-4.3zM409.4 349.1h4.3v4.2h-4.3zM333.8 357.0h4.3v4.2h-4.3zM465.2 357.0h4.3v4.2h-4.3zM469.2 360.9h4.3v4.2h-4.3zM473.1 360.9h4.3v4.2h-4.3zM477.1 360.9h4.3v4.2h-4.3zM465.2 364.9h4.3v4.2h-4.3zM469.2 364.9h4.3v4.2h-4.3zM473.1 364.9h4.3v4.2h-4.3zM477.1 364.9h4.3v4.2h-4.3zM481.1 364.9h4.3v4.2h-4.3zM485.1 364.9h4.3v4.2h-4.3zM353.7 368.8h4.3v4.2h-4.3zM445.3 368.8h4.3v4.2h-4.3zM457.2 368.8h4.3v4.2h-4.3zM302.0 372.8h4.3v4.2h-4.3zM453.2 372.8h4.3v4.2h-4.3zM302.0 376.7h4.3v4.2h-4.3zM317.9 376.7h4.3v4.2h-4.3zM321.9 376.7h4.3v4.2h-4.3zM433.3 376.7h4.3v4.2h-4.3zM445.3 376.7h4.3v4.2h-4.3zM449.2 376.7h4.3v4.2h-4.3zM305.9 380.6h4.3v4.2h-4.3zM317.9 380.6h4.3v4.2h-4.3zM433.3 380.6h4.3v4.2h-4.3zM445.3 380.6h4.3v4.2h-4.3zM449.2 380.6h4.3v4.2h-4.3zM477.1 380.6h4.3v4.2h-4.3zM317.9 384.6h4.3v4.2h-4.3zM325.8 384.6h4.3v4.2h-4.3zM433.3 384.6h4.3v4.2h-4.3zM445.3 384.6h4.3v4.2h-4.3zM449.2 384.6h4.3v4.2h-4.3zM437.3 388.5h4.3v4.2h-4.3zM441.3 388.5h4.3v4.2h-4.3zM421.4 392.5h4.3v4.2h-4.3zM441.3 392.5h4.3v4.2h-4.3zM441.3 396.4h4.3v4.2h-4.3zM441.3 400.4h4.3v4.2h-4.3zM417.4 404.3h4.3v4.2h-4.3zM445.3 404.3h4.3v4.2h-4.3zM481.1 404.3h4.3v4.2h-4.3zM417.4 408.2h4.3v4.2h-4.3zM449.2 408.2h4.3v4.2h-4.3zM461.2 412.2h4.3v4.2h-4.3zM465.2 412.2h4.3v4.2h-4.3zM413.4 420.1h4.3v10.2h-4.3z"/>
<path fill="#969696" d="M373.6 284.0h4.3v10.2h-4.3zM425.4 284.0h4.3v10.2h-4.3zM429.3 284.0h4.3v10.2h-4.3zM433.3 284.0h4.3v10.2h-4.3zM345.8 293.9h4.3v4.2h-4.3zM489.1 301.8h4.3v4.2h-4.3zM485.1 305.8h4.3v4.2h-4.3zM373.6 309.7h4.3v4.2h-4.3zM369.6 317.6h4.3v4.2h-4.3zM461.2 317.6h4.3v4.2h-4.3zM465.2 317.6h4.3v4.2h-4.3zM469.2 317.6h4.3v4.2h-4.3zM302.0 321.5h4.3v4.2h-4.3zM349.7 321.5h4.3v4.2h-4.3zM298.0 325.5h4.3v4.2h-4.3zM329.8 325.5h4.3v4.2h-4.3zM345.8 325.5h4.3v4.2h-4.3zM357.7 325.5h4.3v4.2h-4.3zM361.7 325.5h4.3v4.2h-4.3zM365.7 325.5h4.3v4.2h-4.3zM425.4 325.5h4.3v4.2h-4.3zM429.3 325.5h4.3v4.2h-4.3zM433.3 325.5h4.3v4.2h-4.3zM437.3 325.5h4.3v4.2h-4.3zM441.3 325.5h4.3v4.2h-4.3zM365.7 329.4h4.3v4.2h-4.3zM377.6 329.4h4.3v4.2h-4.3zM465.2 329.4h4.3v4.2h-4.3zM329.8 333.4h4.3v4.2h-4.3zM377.6 333.4h4.3v4.2h-4.3zM329.8 337.3h4.3v4.2h-4.3zM329.8 341.2h4.3v4.2h-4.3zM449.2 341.2h4.3v4.2h-4.3zM325.8 349.1h4.3v4.2h-4.3zM357.7 349.1h4.3v4.2h-4.3zM345.8 353.1h4.3v4.2h-4.3zM349.7 353.1h4.3v4.2h-4.3zM353.7 353.1h4.3v4.2h-4.3zM465.2 353.1h4.3v4.2h-4.3zM485.1 353.1h4.3v4.2h-4.3zM481.1 357.0h4.3v4.2h-4.3zM333.8 360.9h4.3v4.2h-4.3zM437.3 360.9h4.3v4.2h-4.3zM441.3 368.8h4.3v4.2h-4.3zM465.2 368.8h4.3v4.2h-4.3zM469.2 368.8h4.3v4.2h-4.3zM473.1 368.8h4.3v4.2h-4.3zM477.1 368.8h4.3v4.2h-4.3zM481.1 368.8h4.3v4.2h-4.3zM485.1 368.8h4.3v4.2h-4.3zM437.3 372.8h4.3v4.2h-4.3zM441.3 372.8h4.3v4.2h-4.3zM445.3 372.8h4.3v4.2h-4.3zM477.1 372.8h4.3v4.2h-4.3zM481.1 372.8h4.3v4.2h-4.3zM485.1 372.8h4.3v4.2h-4.3zM313.9 376.7h4.3v4.2h-4.3zM349.7 376.7h4.3v4.2h-4.3zM441.3 376.7h4.3v4.2h-4.3zM477.1 376.7h4.3v4.2h-4.3zM481.1 376.7h4.3v4.2h-4.3zM485.1 376.7h4.3v4.2h-4.3zM441.3 380.6h4.3v4.2h-4.3zM481.1 380.6h4.3v4.2h-4.3zM485.1 380.6h4.3v4.2h-4.3zM437.3 384.6h4.3v4.2h-4.3zM441.3 384.6h4.3v4.2h-4.3zM477.1 384.6h4.3v4.2h-4.3zM481.1 384.6h4.3v4.2h-4.3zM485.1 384.6h4.3v4.2h-4.3zM445.3 388.5h4.3v4.2h-4.3zM485.1 388.5h4.3v4.2h-4.3zM389.5 392.5h4.3v4.2h-4.3zM405.5 392.5h4.3v4.2h-4.3zM485.1 392.5h4.3v4.2h-4.3zM389.5 396.4h4.3v4.2h-4.3zM401.5 396.4h4.3v4.2h-4.3zM389.5 400.4h4.3v4.2h-4.3zM393.5 400.4h4.3v4.2h-4.3zM417.4 400.4h4.3v4.2h-4.3zM361.7 404.3h4.3v4.2h-4.3zM369.6 404.3h4.3v4.2h-4.3zM453.2 408.2h4.3v4.2h-4.3zM457.2 408.2h4.3v4.2h-4.3zM461.2 408.2h4.3v4.2h-4.3zM465.2 408.2h4.3v4.2h-4.3zM469.2 408.2h4.3v4.2h-4.3zM477.1 408.2h4.3v4.2h-4.3zM453.2 412.2h4.3v4.2h-4.3zM457.2 412.2h4.3v4.2h-4.3zM469.2 412.2h4.3v4.2h-4.3zM473.1 412.2h4.3v4.2h-4.3zM477.1 412.2h4.3v4.2h-4.3zM413.4 416.1h4.3v4.2h-4.3zM457.2 416.1h4.3v4.2h-4.3zM461.2 416.1h4.3v4.2h-4.3zM465.2 416.1h4.3v4.2h-4.3zM469.2 416.1h4.3v4.2h-4.3zM473.1 416.1h4.3v4.2h-4.3zM477.1 416.1h4.3v4.2h-4.3zM461.2 420.1h4.3v10.2h-4.3zM465.2 420.1h4.3v10.2h-4.3zM469.2 420.1h4.3v10.2h-4.3zM473.1 420.1h4.3v10.2h-4.3zM477.1 420.1h4.3v10.2h-4.3z"/>
<path fill="#9a9a9a" d="M373.6 293.9h4.3v4.2h-4.3zM341.8 297.9h4.3v4.2h-4.3zM421.4 297.9h4.3v4.2h-4.3zM465.2 309.7h4.3v4.2h-4.3zM481.1 309.7h4.3v4.2h-4.3zM369.6 313.6h4.3v4.2h-4.3zM465.2 313.6h4.3v4.2h-4.3zM473.1 313.6h4.3v4.2h-4.3zM441.3 317.6h4.3v4.2h-4.3zM485.1 317.6h4.3v4.2h-4.3zM353.7 321.5h4.3v4.2h-4.3zM357.7 321.5h4.3v4.2h-4.3zM365.7 321.5h4.3v4.2h-4.3zM441.3 321.5h4.3v4.2h-4.3zM469.2 321.5h4.3v4.2h-4.3zM485.1 321.5h4.3v4.2h-4.3zM325.8 325.5h4.3v4.2h-4.3zM333.8 325.5h4.3v4.2h-4.3zM389.5 325.5h4.3v4.2h-4.3zM485.1 325.5h4.3v4.2h-4.3zM325.8 329.4h4.3v4.2h-4.3zM337.8 329.4h4.3v4.2h-4.3zM357.7 329.4h4.3v4.2h-4.3zM361.7 329.4h4.3v4.2h-4.3zM393.5 329.4h4.3v4.2h-4.3zM437.3 329.4h4.3v4.2h-4.3zM449.2 329.4h4.3v4.2h-4.3zM485.1 329.4h4.3v4.2h-4.3zM325.8 333.4h4.3v4.2h-4.3zM401.5 333.4h4.3v4.2h-4.3zM453.2 333.4h4.3v4.2h-4.3zM485.1 333.4h4.3v4.2h-4.3zM485.1 337.3h4.3v4.2h-4.3zM437.3 341.2h4.3v4.2h-4.3zM485.1 341.2h4.3v4.2h-4.3zM325.8 345.2h4.3v4.2h-4.3zM485.1 345.2h4.3v4.2h-4.3zM485.1 349.1h4.3v4.2h-4.3zM325.8 353.1h4.3v4.2h-4.3zM357.7 353.1h4.3v4.2h-4.3zM469.2 357.0h4.3v4.2h-4.3zM333.8 364.9h4.3v4.2h-4.3zM461.2 368.8h4.3v4.2h-4.3zM341.8 372.8h4.3v4.2h-4.3zM353.7 372.8h4.3v4.2h-4.3zM473.1 372.8h4.3v4.2h-4.3zM437.3 376.7h4.3v4.2h-4.3zM453.2 376.7h4.3v4.2h-4.3zM473.1 376.7h4.3v4.2h-4.3zM309.9 380.6h4.3v4.2h-4.3zM349.7 380.6h4.3v4.2h-4.3zM437.3 380.6h4.3v4.2h-4.3zM453.2 380.6h4.3v4.2h-4.3zM473.1 380.6h4.3v4.2h-4.3zM453.2 384.6h4.3v4.2h-4.3zM473.1 384.6h4.3v4.2h-4.3zM393.5 388.5h4.3v4.2h-4.3zM449.2 388.5h4.3v4.2h-4.3zM477.1 388.5h4.3v4.2h-4.3zM481.1 388.5h4.3v4.2h-4.3zM445.3 392.5h4.3v4.2h-4.3zM445.3 396.4h4.3v4.2h-4.3zM485.1 396.4h4.3v4.2h-4.3zM445.3 400.4h4.3v4.2h-4.3zM485.1 400.4h4.3v4.2h-4.3zM449.2 404.3h4.3v4.2h-4.3zM465.2 404.3h4.3v4.2h-4.3zM469.2 404.3h4.3v4.2h-4.3zM473.1 408.2h4.3v4.2h-4.3zM353.7 412.2h4.3v4.2h-4.3zM385.6 412.2h4.3v4.2h-4.3zM413.4 412.2h4.3v4.2h-4.3zM453.2 416.1h4.3v4.2h-4.3zM389.5 420.1h4.3v10.2h-4.3zM453.2 420.1h4.3v10.2h-4.3zM457.2 420.1h4.3v10.2h-4.3z"/>
<path fill="#9e9e9e" d="M413.4 284.0h4.3v10.2h-4.3zM421.4 284.0h4.3v10.2h-4.3zM421.4 293.9h4.3v4.2h-4.3zM345.8 297.9h4.3v4.2h-4.3zM417.4 301.8h4.3v4.2h-4.3zM317.9 305.8h4.3v4.2h-4.3zM329.8 305.8h4.3v4.2h-4.3zM373.6 305.8h4.3v4.2h-4.3zM469.2 305.8h4.3v4.2h-4.3zM309.9 309.7h4.3v4.2h-4.3zM369.6 309.7h4.3v4.2h-4.3zM461.2 309.7h4.3v4.2h-4.3zM473.1 309.7h4.3v4.2h-4.3zM481.1 313.6h4.3v4.2h-4.3zM473.1 317.6h4.3v4.2h-4.3zM345.8 321.5h4.3v4.2h-4.3zM361.7 321.5h4.3v4.2h-4.3zM433.3 321.5h4.3v4.2h-4.3zM437.3 321.5h4.3v4.2h-4.3zM381.6 325.5h4.3v4.2h-4.3zM341.8 329.4h4.3v4.2h-4.3zM353.7 329.4h4.3v4.2h-4.3zM445.3 329.4h4.3v4.2h-4.3zM341.8 333.4h4.3v4.2h-4.3zM325.8 337.3h4.3v4.2h-4.3zM369.6 337.3h4.3v4.2h-4.3zM377.6 337.3h4.3v4.2h-4.3zM405.5 337.3h4.3v4.2h-4.3zM437.3 337.3h4.3v4.2h-4.3zM325.8 341.2h4.3v4.2h-4.3zM373.6 341.2h4.3v4.2h-4.3zM405.5 341.2h4.3v4.2h-4.3zM357.7 345.2h4.3v4.2h-4.3zM465.2 349.1h4.3v4.2h-4.3zM329.8 357.0h4.3v4.2h-4.3zM473.1 357.0h4.3v4.2h-4.3zM477.1 357.0h4.3v4.2h-4.3zM321.9 360.9h4.3v4.2h-4.3zM305.9 364.9h4.3v4.2h-4.3zM325.8 364.9h4.3v4.2h-4.3zM302.0 368.8h4.3v4.2h-4.3zM325.8 368.8h4.3v4.2h-4.3zM469.2 372.8h4.3v4.2h-4.3zM345.8 376.7h4.3v4.2h-4.3zM353.7 376.7h4.3v4.2h-4.3zM302.0 380.6h4.3v4.2h-4.3zM313.9 380.6h4.3v4.2h-4.3zM325.8 380.6h4.3v4.2h-4.3zM353.7 380.6h4.3v4.2h-4.3zM453.2 388.5h4.3v4.2h-4.3zM473.1 388.5h4.3v4.2h-4.3zM385.6 392.5h4.3v4.2h-4.3zM449.2 392.5h4.3v4.2h-4.3zM481.1 392.5h4.3v4.2h-4.3zM385.6 396.4h4.3v4.2h-4.3zM417.4 396.4h4.3v4.2h-4.3zM397.5 400.4h4.3v4.2h-4.3zM413.4 400.4h4.3v4.2h-4.3zM465.2 400.4h4.3v4.2h-4.3zM469.2 400.4h4.3v4.2h-4.3zM413.4 404.3h4.3v4.2h-4.3zM453.2 404.3h4.3v4.2h-4.3zM457.2 404.3h4.3v4.2h-4.3zM461.2 404.3h4.3v4.2h-4.3zM473.1 404.3h4.3v4.2h-4.3zM477.1 404.3h4.3v4.2h-4.3zM377.6 408.2h4.3v4.2h-4.3zM413.4 408.2h4.3v4.2h-4.3zM389.5 416.1h4.3v4.2h-4.3z"/>
<path fill="#a2a2a2" d="M365.7 284.0h4.3v10.2h-4.3zM369.6 284.0h4.3v10.2h-4.3zM417.4 284.0h4.3v10.2h-4.3zM413.4 293.9h4.3v4.2h-4.3zM417.4 293.9h4.3v4.2h-4.3zM373.6 297.9h4.3v4.2h-4.3zM349.7 301.8h4.3v4.2h-4.3zM353.7 301.8h4.3v4.2h-4.3zM357.7 301.8h4.3v4.2h-4.3zM373.6 301.8h4.3v4.2h-4.3zM321.9 305.8h4.3v4.2h-4.3zM325.8 305.8h4.3v4.2h-4.3zM333.8 305.8h4.3v4.2h-4.3zM349.7 305.8h4.3v4.2h-4.3zM353.7 305.8h4.3v4.2h-4.3zM357.7 305.8h4.3v4.2h-4.3zM481.1 305.8h4.3v4.2h-4.3zM349.7 309.7h4.3v4.2h-4.3zM353.7 309.7h4.3v4.2h-4.3zM357.7 309.7h4.3v4.2h-4.3zM361.7 309.7h4.3v4.2h-4.3zM365.7 309.7h4.3v4.2h-4.3zM477.1 309.7h4.3v4.2h-4.3zM305.9 313.6h4.3v4.2h-4.3zM349.7 313.6h4.3v4.2h-4.3zM353.7 313.6h4.3v4.2h-4.3zM357.7 313.6h4.3v4.2h-4.3zM365.7 313.6h4.3v4.2h-4.3zM461.2 313.6h4.3v4.2h-4.3zM477.1 313.6h4.3v4.2h-4.3zM349.7 317.6h4.3v4.2h-4.3zM353.7 317.6h4.3v4.2h-4.3zM357.7 317.6h4.3v4.2h-4.3zM365.7 317.6h4.3v4.2h-4.3zM433.3 317.6h4.3v4.2h-4.3zM437.3 317.6h4.3v4.2h-4.3zM477.1 317.6h4.3v4.2h-4.3zM481.1 317.6h4.3v4.2h-4.3zM473.1 321.5h4.3v4.2h-4.3zM321.9 325.5h4.3v4.2h-4.3zM337.8 325.5h4.3v4.2h-4.3zM341.8 325.5h4.3v4.2h-4.3zM385.6 325.5h4.3v4.2h-4.3zM469.2 325.5h4.3v4.2h-4.3zM321.9 329.4h4.3v4.2h-4.3zM345.8 329.4h4.3v4.2h-4.3zM441.3 329.4h4.3v4.2h-4.3zM321.9 333.4h4.3v4.2h-4.3zM357.7 333.4h4.3v4.2h-4.3zM361.7 333.4h4.3v4.2h-4.3zM365.7 333.4h4.3v4.2h-4.3zM397.5 333.4h4.3v4.2h-4.3zM437.3 333.4h4.3v4.2h-4.3zM321.9 337.3h4.3v4.2h-4.3zM341.8 337.3h4.3v4.2h-4.3zM357.7 337.3h4.3v4.2h-4.3zM321.9 341.2h4.3v4.2h-4.3zM341.8 341.2h4.3v4.2h-4.3zM357.7 341.2h4.3v4.2h-4.3zM321.9 345.2h4.3v4.2h-4.3zM341.8 345.2h4.3v4.2h-4.3zM441.3 345.2h4.3v4.2h-4.3zM445.3 345.2h4.3v4.2h-4.3zM321.9 349.1h4.3v4.2h-4.3zM341.8 349.1h4.3v4.2h-4.3zM353.7 349.1h4.3v4.2h-4.3zM373.6 349.1h4.3v4.2h-4.3zM401.5 353.1h4.3v4.2h-4.3zM325.8 357.0h4.3v4.2h-4.3zM357.7 357.0h4.3v4.2h-4.3zM317.9 360.9h4.3v4.2h-4.3zM325.8 360.9h4.3v4.2h-4.3zM393.5 360.9h4.3v4.2h-4.3zM393.5 364.9h4.3v4.2h-4.3zM393.5 368.8h4.3v4.2h-4.3zM393.5 372.8h4.3v4.2h-4.3zM457.2 372.8h4.3v4.2h-4.3zM465.2 372.8h4.3v4.2h-4.3zM393.5 376.7h4.3v4.2h-4.3zM469.2 376.7h4.3v4.2h-4.3zM469.2 380.6h4.3v4.2h-4.3zM305.9 384.6h4.3v4.2h-4.3zM309.9 384.6h4.3v4.2h-4.3zM313.9 384.6h4.3v4.2h-4.3zM349.7 384.6h4.3v4.2h-4.3zM353.7 384.6h4.3v4.2h-4.3zM357.7 384.6h4.3v4.2h-4.3zM393.5 384.6h4.3v4.2h-4.3zM469.2 384.6h4.3v4.2h-4.3zM313.9 388.5h4.3v4.2h-4.3zM317.9 388.5h4.3v4.2h-4.3zM321.9 388.5h4.3v4.2h-4.3zM353.7 388.5h4.3v4.2h-4.3zM357.7 388.5h4.3v4.2h-4.3zM469.2 388.5h4.3v4.2h-4.3zM313.9 392.5h4.3v4.2h-4.3zM357.7 392.5h4.3v4.2h-4.3zM409.4 392.5h4.3v4.2h-4.3zM417.4 392.5h4.3v4.2h-4.3zM469.2 392.5h4.3v4.2h-4.3zM473.1 392.5h4.3v4.2h-4.3zM477.1 392.5h4.3v4.2h-4.3zM313.9 396.4h4.3v4.2h-4.3zM405.5 396.4h4.3v4.2h-4.3zM449.2 396.4h4.3v4.2h-4.3zM469.2 396.4h4.3v4.2h-4.3zM473.1 396.4h4.3v4.2h-4.3zM481.1 396.4h4.3v4.2h-4.3zM313.9 400.4h4.3v4.2h-4.3zM401.5 400.4h4.3v4.2h-4.3zM405.5 400.4h4.3v4.2h-4.3zM409.4 400.4h4.3v4.2h-4.3zM449.2 400.4h4.3v4.2h-4.3zM461.2 400.4h4.3v4.2h-4.3zM473.1 400.4h4.3v4.2h-4.3zM477.1 400.4h4.3v4.2h-4.3zM481.1 400.4h4.3v4.2h-4.3zM389.5 404.3h4.3v4.2h-4.3zM393.5 404.3h4.3v4.2h-4.3zM409.4 404.3h4.3v4.2h-4.3zM357.7 408.2h4.3v4.2h-4.3zM409.4 408.2h4.3v4.2h-4.3zM409.4 412.2h4.3v4.2h-4.3zM409.4 416.1h4.3v4.2h-4.3zM349.7 420.1h4.3v10.2h-4.3zM397.5 420.1h4.3v10.2h-4.3zM401.5 420.1h4.3v10.2h-4.3zM409.4 420.1h4.3v10.2h-4.3z"/>
<path fill="#a6a6a6" d="M365.7 293.9h4.3v4.2h-4.3zM369.6 293.9h4.3v4.2h-4.3zM349.7 297.9h4.3v4.2h-4.3zM353.7 297.9h4.3v4.2h-4.3zM409.4 297.9h4.3v4.2h-4.3zM417.4 297.9h4.3v4.2h-4.3zM345.8 301.8h4.3v4.2h-4.3zM409.4 301.8h4.3v4.2h-4.3zM345.8 305.8h4.3v4.2h-4.3zM361.7 305.8h4.3v4.2h-4.3zM369.6 305.8h4.3v4.2h-4.3zM473.1 305.8h4.3v4.2h-4.3zM477.1 305.8h4.3v4.2h-4.3zM345.8 309.7h4.3v4.2h-4.3zM345.8 313.6h4.3v4.2h-4.3zM361.7 313.6h4.3v4.2h-4.3zM345.8 317.6h4.3v4.2h-4.3zM361.7 317.6h4.3v4.2h-4.3zM477.1 321.5h4.3v4.2h-4.3zM481.1 321.5h4.3v4.2h-4.3zM302.0 325.5h4.3v4.2h-4.3zM349.7 329.4h4.3v4.2h-4.3zM389.5 329.4h4.3v4.2h-4.3zM449.2 337.3h4.3v4.2h-4.3zM373.6 345.2h4.3v4.2h-4.3zM405.5 345.2h4.3v4.2h-4.3zM317.9 349.1h4.3v4.2h-4.3zM405.5 349.1h4.3v4.2h-4.3zM321.9 353.1h4.3v4.2h-4.3zM373.6 353.1h4.3v4.2h-4.3zM481.1 353.1h4.3v4.2h-4.3zM321.9 357.0h4.3v4.2h-4.3zM393.5 357.0h4.3v4.2h-4.3zM313.9 360.9h4.3v4.2h-4.3zM357.7 364.9h4.3v4.2h-4.3zM333.8 368.8h4.3v4.2h-4.3zM357.7 368.8h4.3v4.2h-4.3zM325.8 372.8h4.3v4.2h-4.3zM357.7 372.8h4.3v4.2h-4.3zM357.7 376.7h4.3v4.2h-4.3zM345.8 380.6h4.3v4.2h-4.3zM357.7 380.6h4.3v4.2h-4.3zM393.5 380.6h4.3v4.2h-4.3zM309.9 388.5h4.3v4.2h-4.3zM325.8 388.5h4.3v4.2h-4.3zM389.5 388.5h4.3v4.2h-4.3zM309.9 392.5h4.3v4.2h-4.3zM353.7 392.5h4.3v4.2h-4.3zM381.6 392.5h4.3v4.2h-4.3zM413.4 392.5h4.3v4.2h-4.3zM453.2 392.5h4.3v4.2h-4.3zM309.9 396.4h4.3v4.2h-4.3zM409.4 396.4h4.3v4.2h-4.3zM413.4 396.4h4.3v4.2h-4.3zM453.2 396.4h4.3v4.2h-4.3zM465.2 396.4h4.3v4.2h-4.3zM477.1 396.4h4.3v4.2h-4.3zM309.9 400.4h4.3v4.2h-4.3zM385.6 400.4h4.3v4.2h-4.3zM453.2 400.4h4.3v4.2h-4.3zM457.2 400.4h4.3v4.2h-4.3zM313.9 404.3h4.3v4.2h-4.3zM397.5 404.3h4.3v4.2h-4.3zM401.5 404.3h4.3v4.2h-4.3zM405.5 404.3h4.3v4.2h-4.3zM381.6 408.2h4.3v4.2h-4.3zM405.5 408.2h4.3v4.2h-4.3zM401.5 412.2h4.3v4.2h-4.3zM405.5 412.2h4.3v4.2h-4.3zM349.7 416.1h4.3v4.2h-4.3zM397.5 416.1h4.3v4.2h-4.3zM401.5 416.1h4.3v4.2h-4.3zM405.5 416.1h4.3v4.2h-4.3zM393.5 420.1h4.3v10.2h-4.3zM405.5 420.1h4.3v10.2h-4.3z"/>
<path fill="#aaaaaa" d="M349.7 284.0h4.3v10.2h-4.3zM361.7 284.0h4.3v10.2h-4.3zM349.7 293.9h4.3v4.2h-4.3zM361.7 293.9h4.3v4.2h-4.3zM357.7 297.9h4.3v4.2h-4.3zM413.4 297.9h4.3v4.2h-4.3zM337.8 301.8h4.3v4.2h-4.3zM361.7 301.8h4.3v4.2h-4.3zM413.4 301.8h4.3v4.2h-4.3zM365.7 305.8h4.3v4.2h-4.3zM329.8 321.5h4.3v4.2h-4.3zM341.8 321.5h4.3v4.2h-4.3zM317.9 325.5h4.3v4.2h-4.3zM481.1 325.5h4.3v4.2h-4.3zM317.9 329.4h4.3v4.2h-4.3zM317.9 333.4h4.3v4.2h-4.3zM353.7 333.4h4.3v4.2h-4.3zM393.5 333.4h4.3v4.2h-4.3zM449.2 333.4h4.3v4.2h-4.3zM317.9 337.3h4.3v4.2h-4.3zM361.7 337.3h4.3v4.2h-4.3zM317.9 341.2h4.3v4.2h-4.3zM377.6 341.2h4.3v4.2h-4.3zM317.9 345.2h4.3v4.2h-4.3zM353.7 345.2h4.3v4.2h-4.3zM377.6 345.2h4.3v4.2h-4.3zM465.2 345.2h4.3v4.2h-4.3zM313.9 349.1h4.3v4.2h-4.3zM361.7 349.1h4.3v4.2h-4.3zM377.6 349.1h4.3v4.2h-4.3zM317.9 353.1h4.3v4.2h-4.3zM361.7 353.1h4.3v4.2h-4.3zM329.8 360.9h4.3v4.2h-4.3zM357.7 360.9h4.3v4.2h-4.3zM302.0 364.9h4.3v4.2h-4.3zM298.0 372.8h4.3v4.2h-4.3zM337.8 372.8h4.3v4.2h-4.3zM461.2 372.8h4.3v4.2h-4.3zM298.0 376.7h4.3v4.2h-4.3zM325.8 376.7h4.3v4.2h-4.3zM361.7 376.7h4.3v4.2h-4.3zM457.2 376.7h4.3v4.2h-4.3zM465.2 376.7h4.3v4.2h-4.3zM361.7 380.6h4.3v4.2h-4.3zM457.2 380.6h4.3v4.2h-4.3zM345.8 384.6h4.3v4.2h-4.3zM361.7 384.6h4.3v4.2h-4.3zM457.2 384.6h4.3v4.2h-4.3zM465.2 384.6h4.3v4.2h-4.3zM305.9 388.5h4.3v4.2h-4.3zM349.7 388.5h4.3v4.2h-4.3zM385.6 388.5h4.3v4.2h-4.3zM465.2 388.5h4.3v4.2h-4.3zM377.6 392.5h4.3v4.2h-4.3zM465.2 392.5h4.3v4.2h-4.3zM353.7 396.4h4.3v4.2h-4.3zM357.7 396.4h4.3v4.2h-4.3zM381.6 396.4h4.3v4.2h-4.3zM457.2 396.4h4.3v4.2h-4.3zM461.2 396.4h4.3v4.2h-4.3zM317.9 400.4h4.3v4.2h-4.3zM309.9 404.3h4.3v4.2h-4.3zM373.6 404.3h4.3v4.2h-4.3zM385.6 404.3h4.3v4.2h-4.3zM397.5 408.2h4.3v4.2h-4.3zM401.5 408.2h4.3v4.2h-4.3zM389.5 412.2h4.3v4.2h-4.3zM397.5 412.2h4.3v4.2h-4.3zM393.5 416.1h4.3v4.2h-4.3z"/>
<path fill="#aeaeae" d="M477.1 284.0h4.3v10.2h-4.3zM353.7 293.9h4.3v4.2h-4.3zM357.7 293.9h4.3v4.2h-4.3zM477.1 293.9h4.3v4.2h-4.3zM361.7 297.9h4.3v4.2h-4.3zM365.7 297.9h4.3v4.2h-4.3zM369.6 297.9h4.3v4.2h-4.3zM477.1 297.9h4.3v4.2h-4.3zM341.8 301.8h4.3v4.2h-4.3zM369.6 301.8h4.3v4.2h-4.3zM469.2 301.8h4.3v4.2h-4.3zM477.1 301.8h4.3v4.2h-4.3zM481.1 301.8h4.3v4.2h-4.3zM485.1 301.8h4.3v4.2h-4.3zM337.8 305.8h4.3v4.2h-4.3zM341.8 305.8h4.3v4.2h-4.3zM313.9 309.7h4.3v4.2h-4.3zM341.8 309.7h4.3v4.2h-4.3zM325.8 321.5h4.3v4.2h-4.3zM333.8 321.5h4.3v4.2h-4.3zM337.8 321.5h4.3v4.2h-4.3zM305.9 325.5h4.3v4.2h-4.3zM473.1 325.5h4.3v4.2h-4.3zM288.0 329.4h10.3v4.2h-10.3zM298.0 329.4h4.3v4.2h-4.3zM313.9 329.4h4.3v4.2h-4.3zM381.6 329.4h4.3v4.2h-4.3zM441.3 333.4h4.3v4.2h-4.3zM445.3 333.4h4.3v4.2h-4.3zM465.2 333.4h4.3v4.2h-4.3zM365.7 337.3h4.3v4.2h-4.3zM401.5 337.3h4.3v4.2h-4.3zM369.6 341.2h4.3v4.2h-4.3zM445.3 341.2h4.3v4.2h-4.3zM313.9 345.2h4.3v4.2h-4.3zM369.6 349.1h4.3v4.2h-4.3zM313.9 353.1h4.3v4.2h-4.3zM369.6 353.1h4.3v4.2h-4.3zM377.6 353.1h4.3v4.2h-4.3zM469.2 353.1h4.3v4.2h-4.3zM477.1 353.1h4.3v4.2h-4.3zM317.9 357.0h4.3v4.2h-4.3zM361.7 357.0h4.3v4.2h-4.3zM373.6 357.0h4.3v4.2h-4.3zM309.9 360.9h4.3v4.2h-4.3zM361.7 360.9h4.3v4.2h-4.3zM329.8 364.9h4.3v4.2h-4.3zM361.7 364.9h4.3v4.2h-4.3zM298.0 368.8h4.3v4.2h-4.3zM361.7 368.8h4.3v4.2h-4.3zM361.7 372.8h4.3v4.2h-4.3zM465.2 380.6h4.3v4.2h-4.3zM302.0 384.6h4.3v4.2h-4.3zM329.8 384.6h4.3v4.2h-4.3zM329.8 388.5h4.3v4.2h-4.3zM345.8 388.5h4.3v4.2h-4.3zM361.7 388.5h4.3v4.2h-4.3zM377.6 388.5h4.3v4.2h-4.3zM381.6 388.5h4.3v4.2h-4.3zM457.2 388.5h4.3v4.2h-4.3zM305.9 392.5h4.3v4.2h-4.3zM349.7 392.5h4.3v4.2h-4.3zM361.7 392.5h4.3v4.2h-4.3zM457.2 392.5h4.3v4.2h-4.3zM317.9 396.4h4.3v4.2h-4.3zM333.8 396.4h4.3v4.2h-4.3zM305.9 400.4h4.3v4.2h-4.3zM317.9 404.3h4.3v4.2h-4.3zM357.7 404.3h4.3v4.2h-4.3zM309.9 408.2h4.3v4.2h-4.3zM313.9 408.2h4.3v4.2h-4.3zM385.6 408.2h4.3v4.2h-4.3zM389.5 408.2h4.3v4.2h-4.3zM393.5 408.2h4.3v4.2h-4.3zM349.7 412.2h4.3v4.2h-4.3zM393.5 412.2h4.3v4.2h-4.3z"/>
<path fill="#b2b2b2" d="M353.7 284.0h4.3v10.2h-4.3zM357.7 284.0h4.3v10.2h-4.3zM469.2 284.0h4.3v10.2h-4.3zM469.2 293.9h4.3v4.2h-4.3zM469.2 297.9h4.3v4.2h-4.3zM365.7 301.8h4.3v4.2h-4.3zM333.8 309.7h4.3v4.2h-4.3zM337.8 309.7h4.3v4.2h-4.3zM341.8 313.6h4.3v4.2h-4.3zM341.8 317.6h4.3v4.2h-4.3zM309.9 325.5h4.3v4.2h-4.3zM313.9 325.5h4.3v4.2h-4.3zM477.1 325.5h4.3v4.2h-4.3zM302.0 329.4h4.3v4.2h-4.3zM305.9 329.4h4.3v4.2h-4.3zM309.9 329.4h4.3v4.2h-4.3zM385.6 329.4h4.3v4.2h-4.3zM481.1 329.4h4.3v4.2h-4.3zM313.9 333.4h4.3v4.2h-4.3zM381.6 333.4h4.3v4.2h-4.3zM389.5 333.4h4.3v4.2h-4.3zM313.9 337.3h4.3v4.2h-4.3zM353.7 337.3h4.3v4.2h-4.3zM393.5 337.3h4.3v4.2h-4.3zM397.5 337.3h4.3v4.2h-4.3zM441.3 337.3h4.3v4.2h-4.3zM445.3 337.3h4.3v4.2h-4.3zM465.2 337.3h4.3v4.2h-4.3zM313.9 341.2h4.3v4.2h-4.3zM353.7 341.2h4.3v4.2h-4.3zM361.7 341.2h4.3v4.2h-4.3zM389.5 341.2h4.3v4.2h-4.3zM441.3 341.2h4.3v4.2h-4.3zM465.2 341.2h4.3v4.2h-4.3zM361.7 345.2h4.3v4.2h-4.3zM369.6 345.2h4.3v4.2h-4.3zM389.5 345.2h4.3v4.2h-4.3zM309.9 349.1h4.3v4.2h-4.3zM389.5 349.1h4.3v4.2h-4.3zM481.1 349.1h4.3v4.2h-4.3zM309.9 353.1h4.3v4.2h-4.3zM389.5 353.1h4.3v4.2h-4.3zM393.5 353.1h4.3v4.2h-4.3zM397.5 353.1h4.3v4.2h-4.3zM473.1 353.1h4.3v4.2h-4.3zM313.9 357.0h4.3v4.2h-4.3zM365.7 357.0h4.3v4.2h-4.3zM369.6 357.0h4.3v4.2h-4.3zM377.6 357.0h4.3v4.2h-4.3zM365.7 360.9h4.3v4.2h-4.3zM369.6 360.9h4.3v4.2h-4.3zM373.6 360.9h4.3v4.2h-4.3zM298.0 364.9h4.3v4.2h-4.3zM365.7 364.9h4.3v4.2h-4.3zM369.6 364.9h4.3v4.2h-4.3zM373.6 364.9h4.3v4.2h-4.3zM288.0 368.8h10.3v4.2h-10.3zM365.7 368.8h4.3v4.2h-4.3zM369.6 368.8h4.3v4.2h-4.3zM373.6 368.8h4.3v4.2h-4.3zM288.0 372.8h10.3v4.2h-10.3zM365.7 372.8h4.3v4.2h-4.3zM369.6 372.8h4.3v4.2h-4.3zM373.6 372.8h4.3v4.2h-4.3zM365.7 376.7h4.3v4.2h-4.3zM369.6 376.7h4.3v4.2h-4.3zM373.6 376.7h4.3v4.2h-4.3zM461.2 376.7h4.3v4.2h-4.3zM365.7 380.6h4.3v4.2h-4.3zM369.6 380.6h4.3v4.2h-4.3zM373.6 380.6h4.3v4.2h-4.3zM461.2 380.6h4.3v4.2h-4.3zM365.7 384.6h4.3v4.2h-4.3zM369.6 384.6h4.3v4.2h-4.3zM373.6 384.6h4.3v4.2h-4.3zM461.2 384.6h4.3v4.2h-4.3zM302.0 388.5h4.3v4.2h-4.3zM333.8 388.5h4.3v4.2h-4.3zM373.6 388.5h4.3v4.2h-4.3zM461.2 388.5h4.3v4.2h-4.3zM317.9 392.5h4.3v4.2h-4.3zM329.8 392.5h4.3v4.2h-4.3zM333.8 392.5h4.3v4.2h-4.3zM337.8 392.5h4.3v4.2h-4.3zM341.8 392.5h4.3v4.2h-4.3zM345.8 392.5h4.3v4.2h-4.3zM373.6 392.5h4.3v4.2h-4.3zM461.2 392.5h4.3v4.2h-4.3zM305.9 396.4h4.3v4.2h-4.3zM329.8 396.4h4.3v4.2h-4.3zM337.8 396.4h4.3v4.2h-4.3zM341.8 396.4h4.3v4.2h-4.3zM345.8 396.4h4.3v4.2h-4.3zM349.7 396.4h4.3v4.2h-4.3zM377.6 396.4h4.3v4.2h-4.3zM321.9 400.4h4.3v4.2h-4.3zM325.8 400.4h4.3v4.2h-4.3zM329.8 400.4h4.3v4.2h-4.3zM333.8 400.4h4.3v4.2h-4.3zM337.8 400.4h4.3v4.2h-4.3zM341.8 400.4h4.3v4.2h-4.3zM345.8 400.4h4.3v4.2h-4.3zM349.7 400.4h4.3v4.2h-4.3zM353.7 400.4h4.3v4.2h-4.3zM357.7 400.4h4.3v4.2h-4.3zM361.7 400.4h4.3v4.2h-4.3zM381.6 400.4h4.3v4.2h-4.3zM305.9 404.3h4.3v4.2h-4.3zM321.9 404.3h4.3v4.2h-4.3zM325.8 404.3h4.3v4.2h-4.3zM329.8 404.3h4.3v4.2h-4.3zM333.8 404.3h4.3v4.2h-4.3zM337.8 404.3h4.3v4.2h-4.3zM341.8 404.3h4.3v4.2h-4.3zM345.8 404.3h4.3v4.2h-4.3zM349.7 404.3h4.3v4.2h-4.3zM377.6 404.3h4.3v4.2h-4.3zM381.6 404.3h4.3v4.2h-4.3zM302.0 408.2h4.3v4.2h-4.3zM305.9 408.2h4.3v4.2h-4.3zM329.8 408.2h4.3v4.2h-4.3zM333.8 408.2h4.3v4.2h-4.3zM337.8 408.2h4.3v4.2h-4.3zM341.8 408.2h4.3v4.2h-4.3zM345.8 408.2h4.3v4.2h-4.3zM349.7 408.2h4.3v4.2h-4.3zM353.7 408.2h4.3v4.2h-4.3zM302.0 412.2h4.3v4.2h-4.3zM305.9 412.2h4.3v4.2h-4.3zM309.9 412.2h4.3v4.2h-4.3zM313.9 412.2h4.3v4.2h-4.3zM329.8 412.2h4.3v4.2h-4.3zM333.8 412.2h4.3v4.2h-4.3zM337.8 412.2h4.3v4.2h-4.3zM288.0 416.1h10.3v4.2h-10.3zM298.0 416.1h4.3v4.2h-4.3zM302.0 416.1h4.3v4.2h-4.3zM305.9 416.1h4.3v4.2h-4.3zM309.9 416.1h4.3v4.2h-4.3zM313.9 416.1h4.3v4.2h-4.3zM317.9 416.1h4.3v4.2h-4.3zM321.9 416.1h4.3v4.2h-4.3zM288.0 420.1h10.3v10.2h-10.3zM298.0 420.1h4.3v10.2h-4.3zM302.0 420.1h4.3v10.2h-4.3zM305.9 420.1h4.3v10.2h-4.3zM309.9 420.1h4.3v10.2h-4.3zM313.9 420.1h4.3v10.2h-4.3zM317.9 420.1h4.3v10.2h-4.3zM321.9 420.1h4.3v10.2h-4.3zM325.8 420.1h4.3v10.2h-4.3z"/>
<path fill="#b6b6b6" d="M473.1 284.0h4.3v10.2h-4.3zM481.1 284.0h4.3v10.2h-4.3zM485.1 284.0h4.3v10.2h-4.3zM473.1 293.9h4.3v4.2h-4.3zM481.1 293.9h4.3v4.2h-4.3zM485.1 293.9h4.3v4.2h-4.3zM481.1 297.9h4.3v4.2h-4.3zM485.1 297.9h4.3v4.2h-4.3zM473.1 301.8h4.3v4.2h-4.3zM329.8 309.7h4.3v4.2h-4.3zM305.9 317.6h4.3v4.2h-4.3zM305.9 321.5h4.3v4.2h-4.3zM321.9 321.5h4.3v4.2h-4.3zM305.9 333.4h4.3v4.2h-4.3zM309.9 333.4h4.3v4.2h-4.3zM345.8 333.4h4.3v4.2h-4.3zM309.9 337.3h4.3v4.2h-4.3zM381.6 337.3h4.3v4.2h-4.3zM389.5 337.3h4.3v4.2h-4.3zM381.6 341.2h4.3v4.2h-4.3zM385.6 341.2h4.3v4.2h-4.3zM393.5 341.2h4.3v4.2h-4.3zM401.5 341.2h4.3v4.2h-4.3zM381.6 345.2h4.3v4.2h-4.3zM385.6 345.2h4.3v4.2h-4.3zM393.5 345.2h4.3v4.2h-4.3zM345.8 349.1h4.3v4.2h-4.3zM381.6 349.1h4.3v4.2h-4.3zM385.6 349.1h4.3v4.2h-4.3zM393.5 349.1h4.3v4.2h-4.3zM365.7 353.1h4.3v4.2h-4.3zM381.6 353.1h4.3v4.2h-4.3zM385.6 353.1h4.3v4.2h-4.3zM381.6 357.0h4.3v4.2h-4.3zM389.5 357.0h4.3v4.2h-4.3zM305.9 360.9h4.3v4.2h-4.3zM377.6 360.9h4.3v4.2h-4.3zM389.5 360.9h4.3v4.2h-4.3zM288.0 364.9h10.3v4.2h-10.3zM377.6 364.9h4.3v4.2h-4.3zM389.5 364.9h4.3v4.2h-4.3zM329.8 368.8h4.3v4.2h-4.3zM377.6 368.8h4.3v4.2h-4.3zM389.5 368.8h4.3v4.2h-4.3zM377.6 372.8h4.3v4.2h-4.3zM389.5 372.8h4.3v4.2h-4.3zM288.0 376.7h10.3v4.2h-10.3zM341.8 376.7h4.3v4.2h-4.3zM377.6 376.7h4.3v4.2h-4.3zM389.5 376.7h4.3v4.2h-4.3zM298.0 380.6h4.3v4.2h-4.3zM377.6 380.6h4.3v4.2h-4.3zM377.6 384.6h4.3v4.2h-4.3zM381.6 384.6h4.3v4.2h-4.3zM389.5 384.6h4.3v4.2h-4.3zM341.8 388.5h4.3v4.2h-4.3zM365.7 388.5h4.3v4.2h-4.3zM369.6 388.5h4.3v4.2h-4.3zM302.0 392.5h4.3v4.2h-4.3zM369.6 392.5h4.3v4.2h-4.3zM302.0 396.4h4.3v4.2h-4.3zM361.7 396.4h4.3v4.2h-4.3zM373.6 396.4h4.3v4.2h-4.3zM298.0 400.4h4.3v4.2h-4.3zM302.0 400.4h4.3v4.2h-4.3zM365.7 400.4h4.3v4.2h-4.3zM377.6 400.4h4.3v4.2h-4.3zM298.0 404.3h4.3v4.2h-4.3zM302.0 404.3h4.3v4.2h-4.3zM353.7 404.3h4.3v4.2h-4.3zM298.0 408.2h4.3v4.2h-4.3zM317.9 408.2h4.3v4.2h-4.3zM321.9 408.2h4.3v4.2h-4.3zM325.8 408.2h4.3v4.2h-4.3zM288.0 412.2h10.3v4.2h-10.3zM298.0 412.2h4.3v4.2h-4.3zM317.9 412.2h4.3v4.2h-4.3zM321.9 412.2h4.3v4.2h-4.3zM325.8 412.2h4.3v4.2h-4.3zM341.8 412.2h4.3v4.2h-4.3zM345.8 412.2h4.3v4.2h-4.3zM325.8 416.1h4.3v4.2h-4.3zM329.8 416.1h4.3v4.2h-4.3zM333.8 416.1h4.3v4.2h-4.3zM337.8 416.1h4.3v4.2h-4.3z"/>
<path fill="#bababa" d="M473.1 297.9h4.3v4.2h-4.3zM309.9 313.6h4.3v4.2h-4.3zM337.8 313.6h4.3v4.2h-4.3zM337.8 317.6h4.3v4.2h-4.3zM302.0 333.4h4.3v4.2h-4.3zM349.7 333.4h4.3v4.2h-4.3zM385.6 333.4h4.3v4.2h-4.3zM481.1 333.4h4.3v4.2h-4.3zM385.6 337.3h4.3v4.2h-4.3zM309.9 341.2h4.3v4.2h-4.3zM309.9 345.2h4.3v4.2h-4.3zM481.1 345.2h4.3v4.2h-4.3zM288.0 349.1h10.3v4.2h-10.3zM298.0 349.1h4.3v4.2h-4.3zM302.0 349.1h4.3v4.2h-4.3zM305.9 349.1h4.3v4.2h-4.3zM349.7 349.1h4.3v4.2h-4.3zM365.7 349.1h4.3v4.2h-4.3zM288.0 353.1h10.3v4.2h-10.3zM298.0 353.1h4.3v4.2h-4.3zM302.0 353.1h4.3v4.2h-4.3zM305.9 353.1h4.3v4.2h-4.3zM309.9 357.0h4.3v4.2h-4.3zM385.6 357.0h4.3v4.2h-4.3zM381.6 360.9h4.3v4.2h-4.3zM385.6 360.9h4.3v4.2h-4.3zM381.6 364.9h4.3v4.2h-4.3zM385.6 364.9h4.3v4.2h-4.3zM381.6 368.8h4.3v4.2h-4.3zM385.6 368.8h4.3v4.2h-4.3zM381.6 372.8h4.3v4.2h-4.3zM385.6 372.8h4.3v4.2h-4.3zM381.6 376.7h4.3v4.2h-4.3zM385.6 376.7h4.3v4.2h-4.3zM329.8 380.6h4.3v4.2h-4.3zM381.6 380.6h4.3v4.2h-4.3zM385.6 380.6h4.3v4.2h-4.3zM389.5 380.6h4.3v4.2h-4.3zM298.0 384.6h4.3v4.2h-4.3zM333.8 384.6h4.3v4.2h-4.3zM341.8 384.6h4.3v4.2h-4.3zM385.6 384.6h4.3v4.2h-4.3zM337.8 388.5h4.3v4.2h-4.3zM325.8 392.5h4.3v4.2h-4.3zM365.7 392.5h4.3v4.2h-4.3zM298.0 396.4h4.3v4.2h-4.3zM325.8 396.4h4.3v4.2h-4.3zM369.6 396.4h4.3v4.2h-4.3zM288.0 400.4h10.3v4.2h-10.3zM369.6 400.4h4.3v4.2h-4.3zM373.6 400.4h4.3v4.2h-4.3zM288.0 404.3h10.3v4.2h-10.3zM288.0 408.2h10.3v4.2h-10.3zM341.8 416.1h4.3v4.2h-4.3zM345.8 416.1h4.3v4.2h-4.3zM329.8 420.1h4.3v10.2h-4.3zM333.8 420.1h4.3v10.2h-4.3zM337.8 420.1h4.3v10.2h-4.3zM341.8 420.1h4.3v10.2h-4.3zM345.8 420.1h4.3v10.2h-4.3z"/>
<path fill="#bebebe" d="M317.9 309.7h4.3v4.2h-4.3zM325.8 309.7h4.3v4.2h-4.3zM333.8 313.6h4.3v4.2h-4.3zM329.8 317.6h4.3v4.2h-4.3zM333.8 317.6h4.3v4.2h-4.3zM309.9 321.5h4.3v4.2h-4.3zM317.9 321.5h4.3v4.2h-4.3zM469.2 329.4h4.3v4.2h-4.3zM288.0 333.4h10.3v4.2h-10.3zM298.0 333.4h4.3v4.2h-4.3zM305.9 337.3h4.3v4.2h-4.3zM345.8 337.3h4.3v4.2h-4.3zM481.1 337.3h4.3v4.2h-4.3zM288.0 341.2h10.3v4.2h-10.3zM365.7 341.2h4.3v4.2h-4.3zM397.5 341.2h4.3v4.2h-4.3zM481.1 341.2h4.3v4.2h-4.3zM288.0 345.2h10.3v4.2h-10.3zM298.0 345.2h4.3v4.2h-4.3zM365.7 345.2h4.3v4.2h-4.3zM401.5 345.2h4.3v4.2h-4.3zM477.1 349.1h4.3v4.2h-4.3zM288.0 357.0h10.3v4.2h-10.3zM298.0 357.0h4.3v4.2h-4.3zM305.9 357.0h4.3v4.2h-4.3zM288.0 360.9h10.3v4.2h-10.3zM298.0 360.9h4.3v4.2h-4.3zM302.0 360.9h4.3v4.2h-4.3zM288.0 380.6h10.3v4.2h-10.3zM341.8 380.6h4.3v4.2h-4.3zM337.8 384.6h4.3v4.2h-4.3zM298.0 388.5h4.3v4.2h-4.3zM298.0 392.5h4.3v4.2h-4.3zM321.9 392.5h4.3v4.2h-4.3zM288.0 396.4h10.3v4.2h-10.3zM321.9 396.4h4.3v4.2h-4.3zM365.7 396.4h4.3v4.2h-4.3z"/>
<path fill="#c2c2c2" d="M321.9 309.7h4.3v4.2h-4.3zM329.8 313.6h4.3v4.2h-4.3zM325.8 317.6h4.3v4.2h-4.3zM313.9 321.5h4.3v4.2h-4.3zM477.1 329.4h4.3v4.2h-4.3zM288.0 337.3h10.3v4.2h-10.3zM298.0 337.3h4.3v4.2h-4.3zM302.0 337.3h4.3v4.2h-4.3zM298.0 341.2h4.3v4.2h-4.3zM302.0 345.2h4.3v4.2h-4.3zM305.9 345.2h4.3v4.2h-4.3zM345.8 345.2h4.3v4.2h-4.3zM397.5 345.2h4.3v4.2h-4.3zM401.5 349.1h4.3v4.2h-4.3zM469.2 349.1h4.3v4.2h-4.3zM302.0 357.0h4.3v4.2h-4.3zM329.8 372.8h4.3v4.2h-4.3zM333.8 372.8h4.3v4.2h-4.3zM288.0 384.6h10.3v4.2h-10.3zM288.0 388.5h10.3v4.2h-10.3zM288.0 392.5h10.3v4.2h-10.3z"/>
<path fill="#c6c6c6" d="M313.9 313.6h4.3v4.2h-4.3zM325.8 313.6h4.3v4.2h-4.3zM309.9 317.6h4.3v4.2h-4.3zM321.9 317.6h4.3v4.2h-4.3zM473.1 329.4h4.3v4.2h-4.3zM349.7 337.3h4.3v4.2h-4.3zM302.0 341.2h4.3v4.2h-4.3zM305.9 341.2h4.3v4.2h-4.3zM345.8 341.2h4.3v4.2h-4.3zM349.7 345.2h4.3v4.2h-4.3zM397.5 349.1h4.3v4.2h-4.3zM473.1 349.1h4.3v4.2h-4.3zM337.8 376.7h4.3v4.2h-4.3zM333.8 380.6h4.3v4.2h-4.3zM337.8 380.6h4.3v4.2h-4.3z"/>
<path fill="#cacaca" d="M317.9 313.6h4.3v4.2h-4.3zM321.9 313.6h4.3v4.2h-4.3zM349.7 341.2h4.3v4.2h-4.3zM329.8 376.7h4.3v4.2h-4.3z"/>
<path fill="#cecece" d="M313.9 317.6h4.3v4.2h-4.3zM317.9 317.6h4.3v4.2h-4.3zM477.1 345.2h4.3v4.2h-4.3zM333.8 376.7h4.3v4.2h-4.3z"/>
<path fill="#d7d7d7" d="M477.1 333.4h4.3v4.2h-4.3zM469.2 345.2h4.3v4.2h-4.3z"/>
<path fill="#dbdbdb" d="M469.2 333.4h4.3v4.2h-4.3zM477.1 337.3h4.3v4.2h-4.3zM477.1 341.2h4.3v4.2h-4.3zM473.1 345.2h4.3v4.2h-4.3z"/>
<path fill="#e3e3e3" d="M473.1 333.4h4.3v4.2h-4.3zM469.2 337.3h4.3v4.2h-4.3zM469.2 341.2h4.3v4.2h-4.3z"/>
<path fill="#e7e7e7" d="M473.1 341.2h4.3v4.2h-4.3z"/>
<path fill="#ebebeb" d="M473.1 337.3h4.3v4.2h-4.3z"/>
</g></g>
<rect x="294" y="424.2" width="207" height="9.6" fill="#1c1c1c"/>
<g fill="#b8c8d4"><circle cx="301.20" cy="429.00" r="0.75"/><circle cx="300.10" cy="430.91" r="0.75"/><circle cx="297.90" cy="430.91" r="0.75"/><circle cx="296.80" cy="429.00" r="0.75"/><circle cx="297.90" cy="427.09" r="0.75"/><circle cx="300.10" cy="427.09" r="0.75"/><circle cx="299" cy="429.0" r="0.75"/></g>
<text x="308.0" y="427.8" style="font-family:'Liberation Sans',sans-serif;font-size:3.3px;font-weight:normal;fill:#9a9a9a">7/15/2022</text>
<text x="308.0" y="431.8" style="font-family:'Liberation Sans',sans-serif;font-size:3.3px;font-weight:normal;fill:#9a9a9a">9:33:42 AM</text>
<rect x="327.2" y="425.2" width="18" height="7.6" fill="#f4f4f4"/>
<circle cx="330.4" cy="429.0" r="1.5" fill="#5b7fc0"/>
<text x="332.6" y="430.9" style="font-family:'Liberation Serif',serif;font-size:5.4px;font-weight:bold;fill:#2b4a9a">SRM</text>
<text x="346.0" y="427.6" style="font-family:'Liberation Sans',sans-serif;font-size:3.0px;font-weight:normal;fill:#8a8a8a">HV</text>
<text x="346.0" y="431.7" style="font-family:'Liberation Sans',sans-serif;font-size:3.2px;font-weight:bold;fill:#e6e6e6">15.00 kV</text>
<text x="364.0" y="427.6" style="font-family:'Liberation Sans',sans-serif;font-size:3.0px;font-weight:normal;fill:#8a8a8a">use case</text>
<text x="364.0" y="431.7" style="font-family:'Liberation Sans',sans-serif;font-size:3.2px;font-weight:bold;fill:#e6e6e6">Standard</text>
<text x="381.0" y="427.6" style="font-family:'Liberation Sans',sans-serif;font-size:3.0px;font-weight:normal;fill:#8a8a8a">spot</text>
<text x="381.0" y="431.7" style="font-family:'Liberation Sans',sans-serif;font-size:3.2px;font-weight:bold;fill:#e6e6e6">6.0</text>
<text x="391.0" y="427.6" style="font-family:'Liberation Sans',sans-serif;font-size:3.0px;font-weight:normal;fill:#8a8a8a">WD</text>
<text x="391.0" y="431.7" style="font-family:'Liberation Sans',sans-serif;font-size:3.2px;font-weight:bold;fill:#e6e6e6">12.1 mm</text>
<text x="405.0" y="427.6" style="font-family:'Liberation Sans',sans-serif;font-size:3.0px;font-weight:normal;fill:#8a8a8a">mag &#8862;</text>
<text x="405.0" y="431.7" style="font-family:'Liberation Sans',sans-serif;font-size:3.2px;font-weight:bold;fill:#e6e6e6">15 000 x</text>
<text x="421.0" y="427.6" style="font-family:'Liberation Sans',sans-serif;font-size:3.0px;font-weight:normal;fill:#8a8a8a">HFW</text>
<text x="421.0" y="431.7" style="font-family:'Liberation Sans',sans-serif;font-size:3.2px;font-weight:bold;fill:#e6e6e6">27.6 &#181;m</text>
<text x="436.0" y="427.6" style="font-family:'Liberation Sans',sans-serif;font-size:3.0px;font-weight:normal;fill:#8a8a8a">det</text>
<text x="436.0" y="431.7" style="font-family:'Liberation Sans',sans-serif;font-size:3.2px;font-weight:bold;fill:#e6e6e6">ETD</text>
<path d="M458 426.8h34M458 425.8v2M492 425.8v2" stroke="#cfcfcf" stroke-width="0.5"/>
<text x="472.0" y="427.6" style="font-family:'Liberation Sans',sans-serif;font-size:3.0px;font-weight:normal;fill:#dcdcdc">5 &#181;m</text>
<text x="461.0" y="431.7" style="font-family:'Liberation Sans',sans-serif;font-size:3.0px;font-weight:normal;fill:#9a9a9a">SRM IST Apreo S</text>
<line x1="346.9" y1="330.3" x2="365.4" y2="313.5" stroke="#f2b705" stroke-width="1.1"/><polygon points="367.8,311.3 366.5,314.6 364.4,312.3" fill="#f2b705"/>
<line x1="346.9" y1="330.3" x2="357.2" y2="336.3" stroke="#f2b705" stroke-width="1.1"/><polygon points="360.0,337.9 356.4,337.7 358.0,334.9" fill="#f2b705"/>
<text x="330.9" y="332.4" style="font-family:'Liberation Serif',serif;font-weight:bold;font-size:6.8px;fill:#f5f01e">CSH</text>
<line x1="368.1" y1="379.7" x2="350.0" y2="349.5" stroke="#f2b705" stroke-width="1.1"/><polygon points="348.4,346.8 351.4,348.7 348.7,350.4" fill="#f2b705"/>
<line x1="368.1" y1="379.7" x2="343.3" y2="373.7" stroke="#f2b705" stroke-width="1.1"/><polygon points="340.2,372.9 343.7,372.1 342.9,375.2" fill="#f2b705"/>
<text x="372.0" y="382.6" style="font-family:'Liberation Serif',serif;font-weight:bold;font-size:6.8px;fill:#f5f01e">CSH</text>
<line x1="351.8" y1="394.2" x2="340.7" y2="384.3" stroke="#f2b705" stroke-width="1.1"/><polygon points="338.3,382.2 341.8,383.1 339.6,385.5" fill="#f2b705"/>
<text x="351.3" y="401.9" style="font-family:'Liberation Serif',serif;font-weight:bold;font-size:6.8px;fill:#f5f01e">CH</text>
<line x1="409.3" y1="332.8" x2="399.0" y2="344.4" stroke="#f2b705" stroke-width="1.1"/><polygon points="396.9,346.8 397.8,343.3 400.2,345.5" fill="#f2b705"/>
<text x="410.9" y="331.6" style="font-family:'Liberation Serif',serif;font-weight:bold;font-size:6.8px;fill:#f5f01e">CSH</text>
<line x1="417.4" y1="381.4" x2="392.0" y2="375.6" stroke="#f2b705" stroke-width="1.1"/><polygon points="388.9,374.9 392.4,374.1 391.7,377.2" fill="#f2b705"/>
<text x="419.8" y="382.4" style="font-family:'Liberation Serif',serif;font-weight:bold;font-size:6.8px;fill:#f5f01e">CSH</text>
<line x1="472.4" y1="368.3" x2="454.2" y2="339.0" stroke="#f2b705" stroke-width="1.1"/><polygon points="452.5,336.3 455.5,338.2 452.8,339.9" fill="#f2b705"/>
<line x1="472.4" y1="368.3" x2="446.8" y2="362.7" stroke="#f2b705" stroke-width="1.1"/><polygon points="443.7,362.0 447.2,361.1 446.5,364.2" fill="#f2b705"/>
<text x="475.5" y="370.7" style="font-family:'Liberation Serif',serif;font-weight:bold;font-size:6.8px;fill:#f5f01e">CSH</text>
</svg>
</body></html>
